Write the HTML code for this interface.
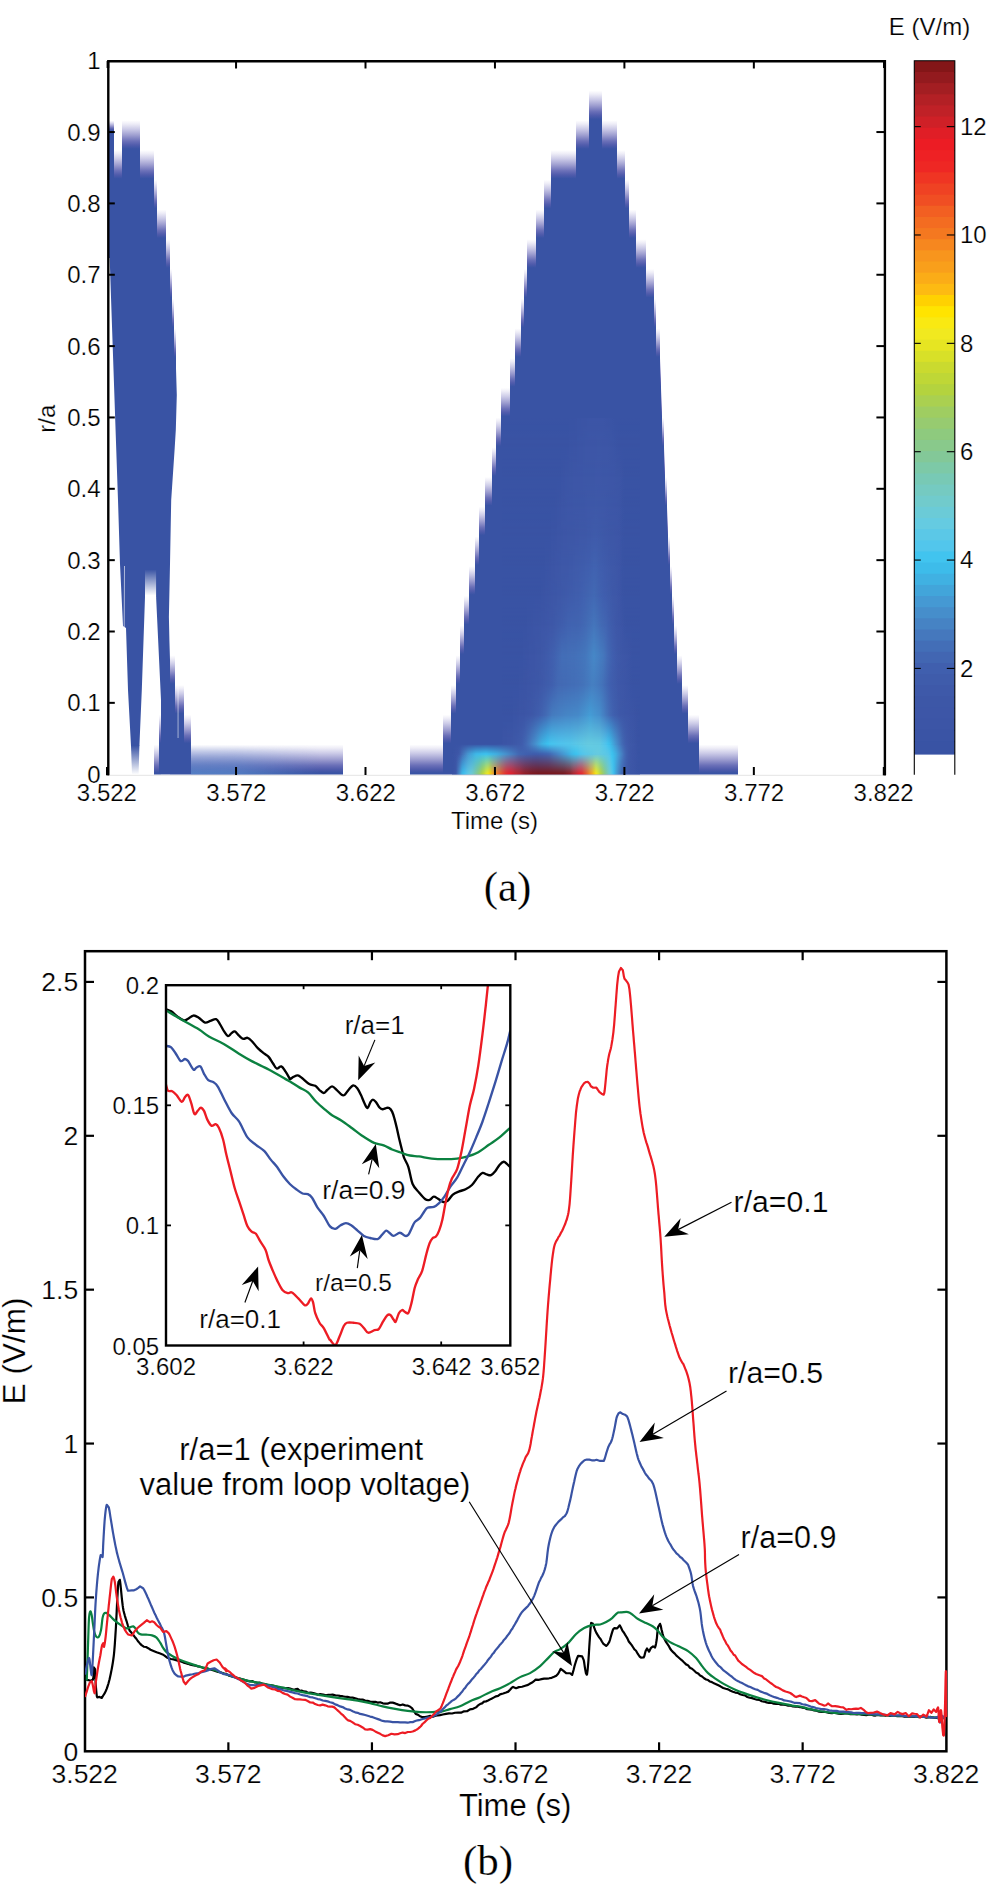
<!DOCTYPE html>
<html lang="en"><head><meta charset="utf-8"><title>Figure</title>
<style>html,body{margin:0;padding:0;background:#fff}svg{display:block}text{fill:#000;stroke:#fff;stroke-width:0.22px}</style></head>
<body><svg width="999" height="1888" viewBox="0 0 999 1888">
<defs><linearGradient id="fu" x1="0" y1="0" x2="0" y2="1"><stop offset="0" stop-color="#3953a4" stop-opacity="0"/><stop offset="0.08" stop-color="#3953a4" stop-opacity="0"/><stop offset="0.95" stop-color="#3953a4" stop-opacity="1"/><stop offset="1" stop-color="#3953a4" stop-opacity="1"/></linearGradient>
<linearGradient id="fd" x1="0" y1="1" x2="0" y2="0"><stop offset="0" stop-color="#3953a4" stop-opacity="0"/><stop offset="1" stop-color="#3953a4" stop-opacity="1"/></linearGradient>
<linearGradient id="fw" x1="0" y1="0" x2="0" y2="1"><stop offset="0" stop-color="#fff" stop-opacity="0"/><stop offset="0.93" stop-color="#fff" stop-opacity="1"/><stop offset="1" stop-color="#fff" stop-opacity="1"/></linearGradient>
<linearGradient id="mg0" x1="0" y1="0" x2="0" y2="1"><stop offset="0" stop-color="#fff"/><stop offset="0.14" stop-color="#fff"/><stop offset="0.55" stop-color="#888"/><stop offset="1" stop-color="#000"/></linearGradient>
<mask id="mfade0" maskContentUnits="objectBoundingBox"><rect x="0" y="0" width="1" height="1" fill="url(#mg0)"/></mask>
<mask id="mfade" maskContentUnits="objectBoundingBox"><rect x="0" y="0" width="1" height="1" fill="url(#mg)"/></mask>
<linearGradient id="mg" x1="0" y1="0" x2="0" y2="1"><stop offset="0" stop-color="#fff"/><stop offset="1" stop-color="#000"/></linearGradient>
<linearGradient id="fg0" x1="0" y1="0" x2="0" y2="1"><stop offset="0.0000" stop-color="#ffffff"/><stop offset="0.1184" stop-color="#eeedf7"/><stop offset="0.2960" stop-color="#cbcae7"/><stop offset="0.4934" stop-color="#9e9ed0"/><stop offset="0.6907" stop-color="#6b70b8"/><stop offset="0.8190" stop-color="#515cac"/><stop offset="0.9472" stop-color="#3953a4"/><stop offset="0.9867" stop-color="#3953a4"/><stop offset="1" stop-color="#3953a4"/></linearGradient>
<linearGradient id="fg1" x1="0" y1="0" x2="0" y2="1"><stop offset="0.0000" stop-color="#ffffff"/><stop offset="0.0596" stop-color="#eeedf7"/><stop offset="0.1490" stop-color="#cbcae7"/><stop offset="0.2483" stop-color="#9e9ed0"/><stop offset="0.3477" stop-color="#6b70b8"/><stop offset="0.4123" stop-color="#515cac"/><stop offset="0.4768" stop-color="#3953a4"/><stop offset="0.4967" stop-color="#3953a4"/><stop offset="1" stop-color="#3953a4"/></linearGradient>
<linearGradient id="fg2" x1="0" y1="0" x2="0" y2="1"><stop offset="0.0000" stop-color="#ffffff"/><stop offset="0.0398" stop-color="#eeedf7"/><stop offset="0.0995" stop-color="#cbcae7"/><stop offset="0.1659" stop-color="#9e9ed0"/><stop offset="0.2323" stop-color="#6b70b8"/><stop offset="0.2754" stop-color="#515cac"/><stop offset="0.3185" stop-color="#3953a4"/><stop offset="0.3318" stop-color="#3953a4"/><stop offset="1" stop-color="#3953a4"/></linearGradient>
<linearGradient id="fg3" x1="0" y1="0" x2="0" y2="1"><stop offset="0.0000" stop-color="#ffffff"/><stop offset="0.0299" stop-color="#eeedf7"/><stop offset="0.0748" stop-color="#cbcae7"/><stop offset="0.1246" stop-color="#9e9ed0"/><stop offset="0.1744" stop-color="#6b70b8"/><stop offset="0.2068" stop-color="#515cac"/><stop offset="0.2392" stop-color="#3953a4"/><stop offset="0.2492" stop-color="#3953a4"/><stop offset="1" stop-color="#3953a4"/></linearGradient>
<linearGradient id="fg4" x1="0" y1="0" x2="0" y2="1"><stop offset="0.0000" stop-color="#ffffff"/><stop offset="0.0239" stop-color="#eeedf7"/><stop offset="0.0599" stop-color="#cbcae7"/><stop offset="0.0998" stop-color="#9e9ed0"/><stop offset="0.1396" stop-color="#6b70b8"/><stop offset="0.1656" stop-color="#515cac"/><stop offset="0.1915" stop-color="#3953a4"/><stop offset="0.1995" stop-color="#3953a4"/><stop offset="1" stop-color="#3953a4"/></linearGradient>
<linearGradient id="fg5" x1="0" y1="0" x2="0" y2="1"><stop offset="0.0000" stop-color="#ffffff"/><stop offset="0.0200" stop-color="#eeedf7"/><stop offset="0.0499" stop-color="#cbcae7"/><stop offset="0.0832" stop-color="#9e9ed0"/><stop offset="0.1164" stop-color="#6b70b8"/><stop offset="0.1380" stop-color="#515cac"/><stop offset="0.1596" stop-color="#3953a4"/><stop offset="0.1663" stop-color="#3953a4"/><stop offset="1" stop-color="#3953a4"/></linearGradient>
<linearGradient id="fg6" x1="0" y1="0" x2="0" y2="1"><stop offset="0.0000" stop-color="#ffffff"/><stop offset="0.0171" stop-color="#eeedf7"/><stop offset="0.0428" stop-color="#cbcae7"/><stop offset="0.0713" stop-color="#9e9ed0"/><stop offset="0.0998" stop-color="#6b70b8"/><stop offset="0.1184" stop-color="#515cac"/><stop offset="0.1369" stop-color="#3953a4"/><stop offset="0.1426" stop-color="#3953a4"/><stop offset="1" stop-color="#3953a4"/></linearGradient>
<linearGradient id="fg7" x1="0" y1="0" x2="0" y2="1"><stop offset="0.0000" stop-color="#ffffff"/><stop offset="0.0150" stop-color="#eeedf7"/><stop offset="0.0374" stop-color="#cbcae7"/><stop offset="0.0624" stop-color="#9e9ed0"/><stop offset="0.0874" stop-color="#6b70b8"/><stop offset="0.1036" stop-color="#515cac"/><stop offset="0.1198" stop-color="#3953a4"/><stop offset="0.1248" stop-color="#3953a4"/><stop offset="1" stop-color="#3953a4"/></linearGradient>
<linearGradient id="fg8" x1="0" y1="0" x2="0" y2="1"><stop offset="0.0000" stop-color="#ffffff"/><stop offset="0.0133" stop-color="#eeedf7"/><stop offset="0.0333" stop-color="#cbcae7"/><stop offset="0.0554" stop-color="#9e9ed0"/><stop offset="0.0776" stop-color="#6b70b8"/><stop offset="0.0920" stop-color="#515cac"/><stop offset="0.1065" stop-color="#3953a4"/><stop offset="0.1109" stop-color="#3953a4"/><stop offset="1" stop-color="#3953a4"/></linearGradient>
<linearGradient id="fg9" x1="0" y1="0" x2="0" y2="1"><stop offset="0.0000" stop-color="#ffffff"/><stop offset="0.0120" stop-color="#eeedf7"/><stop offset="0.0300" stop-color="#cbcae7"/><stop offset="0.0500" stop-color="#9e9ed0"/><stop offset="0.0699" stop-color="#6b70b8"/><stop offset="0.0829" stop-color="#515cac"/><stop offset="0.0959" stop-color="#3953a4"/><stop offset="0.0999" stop-color="#3953a4"/><stop offset="1" stop-color="#3953a4"/></linearGradient>
<linearGradient id="fg10" x1="0" y1="0" x2="0" y2="1"><stop offset="0.0000" stop-color="#ffffff"/><stop offset="0.0109" stop-color="#eeedf7"/><stop offset="0.0272" stop-color="#cbcae7"/><stop offset="0.0454" stop-color="#9e9ed0"/><stop offset="0.0636" stop-color="#6b70b8"/><stop offset="0.0754" stop-color="#515cac"/><stop offset="0.0872" stop-color="#3953a4"/><stop offset="0.0908" stop-color="#3953a4"/><stop offset="1" stop-color="#3953a4"/></linearGradient>
<linearGradient id="fg11" x1="0" y1="0" x2="0" y2="1"><stop offset="0.0000" stop-color="#ffffff"/><stop offset="0.0100" stop-color="#eeedf7"/><stop offset="0.0250" stop-color="#cbcae7"/><stop offset="0.0416" stop-color="#9e9ed0"/><stop offset="0.0582" stop-color="#6b70b8"/><stop offset="0.0691" stop-color="#515cac"/><stop offset="0.0799" stop-color="#3953a4"/><stop offset="0.0832" stop-color="#3953a4"/><stop offset="1" stop-color="#3953a4"/></linearGradient>
<linearGradient id="fg12" x1="0" y1="0" x2="0" y2="1"><stop offset="0.0000" stop-color="#ffffff"/><stop offset="0.0092" stop-color="#eeedf7"/><stop offset="0.0230" stop-color="#cbcae7"/><stop offset="0.0384" stop-color="#9e9ed0"/><stop offset="0.0538" stop-color="#6b70b8"/><stop offset="0.0637" stop-color="#515cac"/><stop offset="0.0737" stop-color="#3953a4"/><stop offset="0.0768" stop-color="#3953a4"/><stop offset="1" stop-color="#3953a4"/></linearGradient>
<linearGradient id="fg13" x1="0" y1="0" x2="0" y2="1"><stop offset="0.0000" stop-color="#ffffff"/><stop offset="0.0086" stop-color="#eeedf7"/><stop offset="0.0214" stop-color="#cbcae7"/><stop offset="0.0357" stop-color="#9e9ed0"/><stop offset="0.0500" stop-color="#6b70b8"/><stop offset="0.0593" stop-color="#515cac"/><stop offset="0.0685" stop-color="#3953a4"/><stop offset="0.0714" stop-color="#3953a4"/><stop offset="1" stop-color="#3953a4"/></linearGradient>
<linearGradient id="fg14" x1="0" y1="0" x2="0" y2="1"><stop offset="0.0000" stop-color="#ffffff"/><stop offset="0.0080" stop-color="#eeedf7"/><stop offset="0.0200" stop-color="#cbcae7"/><stop offset="0.0333" stop-color="#9e9ed0"/><stop offset="0.0466" stop-color="#6b70b8"/><stop offset="0.0553" stop-color="#515cac"/><stop offset="0.0639" stop-color="#3953a4"/><stop offset="0.0666" stop-color="#3953a4"/><stop offset="1" stop-color="#3953a4"/></linearGradient>
<linearGradient id="fg15" x1="0" y1="0" x2="0" y2="1"><stop offset="0.0000" stop-color="#ffffff"/><stop offset="0.0075" stop-color="#eeedf7"/><stop offset="0.0187" stop-color="#cbcae7"/><stop offset="0.0312" stop-color="#9e9ed0"/><stop offset="0.0437" stop-color="#6b70b8"/><stop offset="0.0518" stop-color="#515cac"/><stop offset="0.0599" stop-color="#3953a4"/><stop offset="0.0624" stop-color="#3953a4"/><stop offset="1" stop-color="#3953a4"/></linearGradient>
<linearGradient id="fg16" x1="0" y1="0" x2="0" y2="1"><stop offset="0.0000" stop-color="#ffffff"/><stop offset="0.0071" stop-color="#eeedf7"/><stop offset="0.0176" stop-color="#cbcae7"/><stop offset="0.0294" stop-color="#9e9ed0"/><stop offset="0.0412" stop-color="#6b70b8"/><stop offset="0.0488" stop-color="#515cac"/><stop offset="0.0564" stop-color="#3953a4"/><stop offset="0.0588" stop-color="#3953a4"/><stop offset="1" stop-color="#3953a4"/></linearGradient>
<linearGradient id="fg17" x1="0" y1="0" x2="0" y2="1"><stop offset="0.0000" stop-color="#ffffff"/><stop offset="0.0067" stop-color="#eeedf7"/><stop offset="0.0166" stop-color="#cbcae7"/><stop offset="0.0278" stop-color="#9e9ed0"/><stop offset="0.0388" stop-color="#6b70b8"/><stop offset="0.0461" stop-color="#515cac"/><stop offset="0.0533" stop-color="#3953a4"/><stop offset="0.0555" stop-color="#3953a4"/><stop offset="1" stop-color="#3953a4"/></linearGradient>
<linearGradient id="fg18" x1="0" y1="0" x2="0" y2="1"><stop offset="0.0000" stop-color="#ffffff"/><stop offset="0.0063" stop-color="#eeedf7"/><stop offset="0.0158" stop-color="#cbcae7"/><stop offset="0.0263" stop-color="#9e9ed0"/><stop offset="0.0368" stop-color="#6b70b8"/><stop offset="0.0437" stop-color="#515cac"/><stop offset="0.0505" stop-color="#3953a4"/><stop offset="0.0526" stop-color="#3953a4"/><stop offset="1" stop-color="#3953a4"/></linearGradient>
<linearGradient id="fg19" x1="0" y1="0" x2="0" y2="1"><stop offset="0.0000" stop-color="#ffffff"/><stop offset="0.0060" stop-color="#eeedf7"/><stop offset="0.0150" stop-color="#cbcae7"/><stop offset="0.0250" stop-color="#9e9ed0"/><stop offset="0.0350" stop-color="#6b70b8"/><stop offset="0.0415" stop-color="#515cac"/><stop offset="0.0480" stop-color="#3953a4"/><stop offset="0.0500" stop-color="#3953a4"/><stop offset="1" stop-color="#3953a4"/></linearGradient>
<linearGradient id="fg20" x1="0" y1="0" x2="0" y2="1"><stop offset="0.0000" stop-color="#ffffff"/><stop offset="0.0057" stop-color="#eeedf7"/><stop offset="0.0143" stop-color="#cbcae7"/><stop offset="0.0238" stop-color="#9e9ed0"/><stop offset="0.0333" stop-color="#6b70b8"/><stop offset="0.0395" stop-color="#515cac"/><stop offset="0.0457" stop-color="#3953a4"/><stop offset="0.0476" stop-color="#3953a4"/><stop offset="1" stop-color="#3953a4"/></linearGradient>
<linearGradient id="fg21" x1="0" y1="0" x2="0" y2="1"><stop offset="0.0000" stop-color="#ffffff"/><stop offset="0.0054" stop-color="#eeedf7"/><stop offset="0.0136" stop-color="#cbcae7"/><stop offset="0.0227" stop-color="#9e9ed0"/><stop offset="0.0318" stop-color="#6b70b8"/><stop offset="0.0377" stop-color="#515cac"/><stop offset="0.0436" stop-color="#3953a4"/><stop offset="0.0454" stop-color="#3953a4"/><stop offset="1" stop-color="#3953a4"/></linearGradient>
<linearGradient id="fg22" x1="0" y1="0" x2="0" y2="1"><stop offset="0.0000" stop-color="#ffffff"/><stop offset="0.0052" stop-color="#eeedf7"/><stop offset="0.0130" stop-color="#cbcae7"/><stop offset="0.0217" stop-color="#9e9ed0"/><stop offset="0.0304" stop-color="#6b70b8"/><stop offset="0.0361" stop-color="#515cac"/><stop offset="0.0418" stop-color="#3953a4"/><stop offset="0.0435" stop-color="#3953a4"/><stop offset="1" stop-color="#3953a4"/></linearGradient>
<linearGradient id="fg23" x1="0" y1="0" x2="0" y2="1"><stop offset="0.0000" stop-color="#ffffff"/><stop offset="0.0092" stop-color="#eeedf7"/><stop offset="0.0229" stop-color="#cbcae7"/><stop offset="0.0382" stop-color="#9e9ed0"/><stop offset="0.0535" stop-color="#6b70b8"/><stop offset="0.0634" stop-color="#515cac"/><stop offset="0.0733" stop-color="#3953a4"/><stop offset="0.0764" stop-color="#3953a4"/><stop offset="1" stop-color="#3953a4"/></linearGradient>
<linearGradient id="fg24" x1="0" y1="0" x2="0" y2="1"><stop offset="0.0000" stop-color="#ffffff"/><stop offset="0.0238" stop-color="#eeedf7"/><stop offset="0.0594" stop-color="#cbcae7"/><stop offset="0.0990" stop-color="#9e9ed0"/><stop offset="0.1387" stop-color="#6b70b8"/><stop offset="0.1644" stop-color="#515cac"/><stop offset="0.1902" stop-color="#3953a4"/><stop offset="0.1981" stop-color="#3953a4"/><stop offset="1" stop-color="#3953a4"/></linearGradient>
<linearGradient id="fg25" x1="0" y1="0" x2="0" y2="1"><stop offset="0.0000" stop-color="#ffffff"/><stop offset="0.0198" stop-color="#eeedf7"/><stop offset="0.0496" stop-color="#cbcae7"/><stop offset="0.0827" stop-color="#9e9ed0"/><stop offset="0.1157" stop-color="#6b70b8"/><stop offset="0.1372" stop-color="#515cac"/><stop offset="0.1587" stop-color="#3953a4"/><stop offset="0.1653" stop-color="#3953a4"/><stop offset="1" stop-color="#3953a4"/></linearGradient>
<linearGradient id="fg26" x1="0" y1="0" x2="0" y2="1"><stop offset="0.0000" stop-color="#ffffff"/><stop offset="0.0297" stop-color="#eeedf7"/><stop offset="0.0741" stop-color="#cbcae7"/><stop offset="0.1235" stop-color="#9e9ed0"/><stop offset="0.1730" stop-color="#6b70b8"/><stop offset="0.2051" stop-color="#515cac"/><stop offset="0.2372" stop-color="#3953a4"/><stop offset="0.2471" stop-color="#3953a4"/><stop offset="1" stop-color="#3953a4"/></linearGradient>
<linearGradient id="fg27" x1="0" y1="0" x2="0" y2="1"><stop offset="0.0000" stop-color="#ffffff"/><stop offset="0.0394" stop-color="#eeedf7"/><stop offset="0.0985" stop-color="#cbcae7"/><stop offset="0.1641" stop-color="#9e9ed0"/><stop offset="0.2297" stop-color="#6b70b8"/><stop offset="0.2724" stop-color="#515cac"/><stop offset="0.3151" stop-color="#3953a4"/><stop offset="0.3282" stop-color="#3953a4"/><stop offset="1" stop-color="#3953a4"/></linearGradient>
<linearGradient id="fg28" x1="0" y1="0" x2="0" y2="1"><stop offset="0.0000" stop-color="#ffffff"/><stop offset="0.0587" stop-color="#eeedf7"/><stop offset="0.1466" stop-color="#cbcae7"/><stop offset="0.2444" stop-color="#9e9ed0"/><stop offset="0.3422" stop-color="#6b70b8"/><stop offset="0.4057" stop-color="#515cac"/><stop offset="0.4692" stop-color="#3953a4"/><stop offset="0.4888" stop-color="#3953a4"/><stop offset="1" stop-color="#3953a4"/></linearGradient>
<linearGradient id="fg29" x1="0" y1="0" x2="0" y2="1"><stop offset="0.0000" stop-color="#ffffff"/><stop offset="0.0584" stop-color="#eeedf7"/><stop offset="0.1460" stop-color="#cbcae7"/><stop offset="0.2433" stop-color="#9e9ed0"/><stop offset="0.3406" stop-color="#6b70b8"/><stop offset="0.4039" stop-color="#515cac"/><stop offset="0.4671" stop-color="#3953a4"/><stop offset="0.4866" stop-color="#3953a4"/><stop offset="1" stop-color="#3953a4"/></linearGradient>
<linearGradient id="fg30" x1="0" y1="0" x2="0" y2="1"><stop offset="0.0000" stop-color="#ffffff"/><stop offset="0.0581" stop-color="#eeedf7"/><stop offset="0.1453" stop-color="#cbcae7"/><stop offset="0.2422" stop-color="#9e9ed0"/><stop offset="0.3390" stop-color="#6b70b8"/><stop offset="0.4020" stop-color="#515cac"/><stop offset="0.4649" stop-color="#3953a4"/><stop offset="0.4843" stop-color="#3953a4"/><stop offset="1" stop-color="#3953a4"/></linearGradient>
<linearGradient id="fg31" x1="0" y1="0" x2="0" y2="1"><stop offset="0.0000" stop-color="#ffffff"/><stop offset="0.0579" stop-color="#eeedf7"/><stop offset="0.1446" stop-color="#cbcae7"/><stop offset="0.2410" stop-color="#9e9ed0"/><stop offset="0.3375" stop-color="#6b70b8"/><stop offset="0.4001" stop-color="#515cac"/><stop offset="0.4628" stop-color="#3953a4"/><stop offset="0.4821" stop-color="#3953a4"/><stop offset="1" stop-color="#3953a4"/></linearGradient>
<linearGradient id="fg32" x1="0" y1="0" x2="0" y2="1"><stop offset="0.0000" stop-color="#ffffff"/><stop offset="0.0299" stop-color="#eeedf7"/><stop offset="0.0747" stop-color="#cbcae7"/><stop offset="0.1245" stop-color="#9e9ed0"/><stop offset="0.1743" stop-color="#6b70b8"/><stop offset="0.2067" stop-color="#515cac"/><stop offset="0.2390" stop-color="#3953a4"/><stop offset="0.2490" stop-color="#3953a4"/><stop offset="1" stop-color="#3953a4"/></linearGradient>
<linearGradient id="fg33" x1="0" y1="0" x2="0" y2="1"><stop offset="0.0000" stop-color="#ffffff"/><stop offset="0.0398" stop-color="#eeedf7"/><stop offset="0.0995" stop-color="#cbcae7"/><stop offset="0.1658" stop-color="#9e9ed0"/><stop offset="0.2321" stop-color="#6b70b8"/><stop offset="0.2752" stop-color="#515cac"/><stop offset="0.3183" stop-color="#3953a4"/><stop offset="0.3316" stop-color="#3953a4"/><stop offset="1" stop-color="#3953a4"/></linearGradient>
<linearGradient id="fg34" x1="0" y1="0" x2="0" y2="1"><stop offset="0.0000" stop-color="#ffffff"/><stop offset="0.0596" stop-color="#eeedf7"/><stop offset="0.1489" stop-color="#cbcae7"/><stop offset="0.2482" stop-color="#9e9ed0"/><stop offset="0.3474" stop-color="#6b70b8"/><stop offset="0.4119" stop-color="#515cac"/><stop offset="0.4764" stop-color="#3953a4"/><stop offset="0.4963" stop-color="#3953a4"/><stop offset="1" stop-color="#3953a4"/></linearGradient>
<linearGradient id="fg35" x1="0" y1="0" x2="0" y2="1"><stop offset="0.0000" stop-color="#ffffff"/><stop offset="0.1183" stop-color="#eeedf7"/><stop offset="0.2958" stop-color="#cbcae7"/><stop offset="0.4930" stop-color="#9e9ed0"/><stop offset="0.6903" stop-color="#6b70b8"/><stop offset="0.8185" stop-color="#515cac"/><stop offset="0.9467" stop-color="#3953a4"/><stop offset="0.9861" stop-color="#3953a4"/><stop offset="1" stop-color="#3953a4"/></linearGradient>
<linearGradient id="st1" x1="190" y1="0" x2="320" y2="0" gradientUnits="userSpaceOnUse"><stop offset="0" stop-color="#5f8fd0" stop-opacity="0.75"/><stop offset="0.35" stop-color="#5f8fd0" stop-opacity="0.7"/><stop offset="1" stop-color="#5f8fd0" stop-opacity="0"/></linearGradient>
<linearGradient id="mg2" x1="0" y1="0" x2="0" y2="1"><stop offset="0" stop-color="#000"/><stop offset="0.25" stop-color="#444"/><stop offset="1" stop-color="#fff"/></linearGradient>
<mask id="mfade2" maskContentUnits="objectBoundingBox"><rect x="0" y="0" width="1" height="1" fill="url(#mg2)"/></mask>
<linearGradient id="rg0" x1="452" y1="0" x2="640" y2="0" gradientUnits="userSpaceOnUse"><stop offset="0.0000" stop-color="#3953a4"/><stop offset="0.0106" stop-color="#3b54a5"/><stop offset="0.0213" stop-color="#3e58a8"/><stop offset="0.0319" stop-color="#4578bd"/><stop offset="0.0426" stop-color="#4697d1"/><stop offset="0.0532" stop-color="#3eb9e8"/><stop offset="0.0638" stop-color="#40c4f0"/><stop offset="0.0745" stop-color="#53c6ec"/><stop offset="0.0851" stop-color="#5ec9e5"/><stop offset="0.0957" stop-color="#68cbdd"/><stop offset="0.1064" stop-color="#6fcbd1"/><stop offset="0.1170" stop-color="#77c9b9"/><stop offset="0.1277" stop-color="#82c89b"/><stop offset="0.1383" stop-color="#8eca7f"/><stop offset="0.1489" stop-color="#a0cd61"/><stop offset="0.1596" stop-color="#b6d33c"/><stop offset="0.1702" stop-color="#ccdb2d"/><stop offset="0.1809" stop-color="#e9e621"/><stop offset="0.1915" stop-color="#fae910"/><stop offset="0.2021" stop-color="#ffd400"/><stop offset="0.2128" stop-color="#fcb115"/><stop offset="0.2234" stop-color="#f89b1c"/><stop offset="0.2340" stop-color="#f6861f"/><stop offset="0.2447" stop-color="#f36e21"/><stop offset="0.2553" stop-color="#f15d22"/><stop offset="0.2660" stop-color="#f04923"/><stop offset="0.2766" stop-color="#ef3923"/><stop offset="0.2872" stop-color="#ee2924"/><stop offset="0.2979" stop-color="#ee2124"/><stop offset="0.3085" stop-color="#eb1c24"/><stop offset="0.3191" stop-color="#e01e26"/><stop offset="0.3298" stop-color="#d32026"/><stop offset="0.3404" stop-color="#c42127"/><stop offset="0.3511" stop-color="#bc2126"/><stop offset="0.3617" stop-color="#b22025"/><stop offset="0.3723" stop-color="#a61e23"/><stop offset="0.3830" stop-color="#9a1c20"/><stop offset="0.3936" stop-color="#941a1e"/><stop offset="0.4043" stop-color="#8f191c"/><stop offset="0.4149" stop-color="#88171a"/><stop offset="0.4255" stop-color="#831618"/><stop offset="0.4362" stop-color="#811518"/><stop offset="0.4468" stop-color="#7e1517"/><stop offset="0.4574" stop-color="#7b1416"/><stop offset="0.4681" stop-color="#7b1416"/><stop offset="0.4787" stop-color="#7b1416"/><stop offset="0.4894" stop-color="#7b1416"/><stop offset="0.5000" stop-color="#7b1416"/><stop offset="0.5106" stop-color="#7b1416"/><stop offset="0.5213" stop-color="#7b1416"/><stop offset="0.5319" stop-color="#7b1416"/><stop offset="0.5426" stop-color="#7b1416"/><stop offset="0.5532" stop-color="#7b1416"/><stop offset="0.5638" stop-color="#7b1416"/><stop offset="0.5745" stop-color="#7b1416"/><stop offset="0.5851" stop-color="#7b1416"/><stop offset="0.5957" stop-color="#7d1417"/><stop offset="0.6064" stop-color="#851619"/><stop offset="0.6170" stop-color="#8d181b"/><stop offset="0.6277" stop-color="#931a1e"/><stop offset="0.6383" stop-color="#a81e23"/><stop offset="0.6489" stop-color="#bc2126"/><stop offset="0.6596" stop-color="#cb2027"/><stop offset="0.6702" stop-color="#e11e25"/><stop offset="0.6809" stop-color="#ed1e24"/><stop offset="0.6915" stop-color="#ee2524"/><stop offset="0.7021" stop-color="#ef3d23"/><stop offset="0.7128" stop-color="#f05323"/><stop offset="0.7234" stop-color="#f36f21"/><stop offset="0.7340" stop-color="#f78e1e"/><stop offset="0.7447" stop-color="#faa619"/><stop offset="0.7553" stop-color="#feca06"/><stop offset="0.7660" stop-color="#fae910"/><stop offset="0.7766" stop-color="#e3e423"/><stop offset="0.7872" stop-color="#c4d833"/><stop offset="0.7979" stop-color="#aad050"/><stop offset="0.8085" stop-color="#92cb77"/><stop offset="0.8191" stop-color="#83c899"/><stop offset="0.8298" stop-color="#76cabc"/><stop offset="0.8404" stop-color="#6bcbd8"/><stop offset="0.8511" stop-color="#56c7ea"/><stop offset="0.8617" stop-color="#3dbdeb"/><stop offset="0.8723" stop-color="#43a2d9"/><stop offset="0.8830" stop-color="#468cca"/><stop offset="0.8936" stop-color="#4578bd"/><stop offset="0.9043" stop-color="#4266b2"/><stop offset="0.9149" stop-color="#405fae"/><stop offset="0.9255" stop-color="#3f5bab"/><stop offset="0.9362" stop-color="#3e58a8"/><stop offset="0.9468" stop-color="#3d57a7"/><stop offset="0.9574" stop-color="#3c56a6"/><stop offset="0.9681" stop-color="#3c55a6"/><stop offset="0.9787" stop-color="#3a54a5"/><stop offset="0.9894" stop-color="#3953a4"/><stop offset="1.0000" stop-color="#3953a4"/></linearGradient>
<linearGradient id="rg1" x1="452" y1="0" x2="640" y2="0" gradientUnits="userSpaceOnUse"><stop offset="0.0000" stop-color="#3953a4"/><stop offset="0.0106" stop-color="#3953a4"/><stop offset="0.0213" stop-color="#3953a4"/><stop offset="0.0319" stop-color="#3953a4"/><stop offset="0.0426" stop-color="#3953a4"/><stop offset="0.0532" stop-color="#3953a4"/><stop offset="0.0638" stop-color="#3953a4"/><stop offset="0.0745" stop-color="#3953a4"/><stop offset="0.0851" stop-color="#3953a4"/><stop offset="0.0957" stop-color="#3953a4"/><stop offset="0.1064" stop-color="#3953a4"/><stop offset="0.1170" stop-color="#3953a4"/><stop offset="0.1277" stop-color="#3953a4"/><stop offset="0.1383" stop-color="#3953a4"/><stop offset="0.1489" stop-color="#3953a4"/><stop offset="0.1596" stop-color="#3953a4"/><stop offset="0.1702" stop-color="#3953a4"/><stop offset="0.1809" stop-color="#3953a4"/><stop offset="0.1915" stop-color="#3953a4"/><stop offset="0.2021" stop-color="#3953a4"/><stop offset="0.2128" stop-color="#3953a4"/><stop offset="0.2234" stop-color="#3953a4"/><stop offset="0.2340" stop-color="#3953a4"/><stop offset="0.2447" stop-color="#3a54a5"/><stop offset="0.2553" stop-color="#3b54a5"/><stop offset="0.2660" stop-color="#3b54a5"/><stop offset="0.2766" stop-color="#3c55a6"/><stop offset="0.2872" stop-color="#3c55a6"/><stop offset="0.2979" stop-color="#3d56a7"/><stop offset="0.3085" stop-color="#3d56a7"/><stop offset="0.3191" stop-color="#3d57a7"/><stop offset="0.3298" stop-color="#3e58a8"/><stop offset="0.3404" stop-color="#3e59a9"/><stop offset="0.3511" stop-color="#3f5aaa"/><stop offset="0.3617" stop-color="#3f5cab"/><stop offset="0.3723" stop-color="#405ead"/><stop offset="0.3830" stop-color="#4163b1"/><stop offset="0.3936" stop-color="#4369b4"/><stop offset="0.4043" stop-color="#4471b9"/><stop offset="0.4149" stop-color="#4579be"/><stop offset="0.4255" stop-color="#4682c4"/><stop offset="0.4362" stop-color="#468bca"/><stop offset="0.4468" stop-color="#4694d0"/><stop offset="0.4574" stop-color="#449fd6"/><stop offset="0.4681" stop-color="#41a9dd"/><stop offset="0.4787" stop-color="#3fb1e2"/><stop offset="0.4894" stop-color="#3eb7e7"/><stop offset="0.5000" stop-color="#3dbdeb"/><stop offset="0.5106" stop-color="#3cc3f0"/><stop offset="0.5213" stop-color="#45c4ef"/><stop offset="0.5319" stop-color="#47c5ef"/><stop offset="0.5426" stop-color="#49c5ef"/><stop offset="0.5532" stop-color="#4bc5ee"/><stop offset="0.5638" stop-color="#4dc5ee"/><stop offset="0.5745" stop-color="#4fc5ee"/><stop offset="0.5851" stop-color="#50c5ee"/><stop offset="0.5957" stop-color="#51c5ed"/><stop offset="0.6064" stop-color="#52c6ec"/><stop offset="0.6170" stop-color="#53c6ec"/><stop offset="0.6277" stop-color="#53c6eb"/><stop offset="0.6383" stop-color="#55c7ea"/><stop offset="0.6489" stop-color="#58c7e9"/><stop offset="0.6596" stop-color="#5ac8e8"/><stop offset="0.6702" stop-color="#5cc8e6"/><stop offset="0.6809" stop-color="#5ec9e5"/><stop offset="0.6915" stop-color="#60c9e4"/><stop offset="0.7021" stop-color="#62cae3"/><stop offset="0.7128" stop-color="#64cae1"/><stop offset="0.7234" stop-color="#66cbe0"/><stop offset="0.7340" stop-color="#65cbe1"/><stop offset="0.7447" stop-color="#64cbe1"/><stop offset="0.7553" stop-color="#64cae1"/><stop offset="0.7660" stop-color="#63cae2"/><stop offset="0.7766" stop-color="#62cae2"/><stop offset="0.7872" stop-color="#61cae3"/><stop offset="0.7979" stop-color="#5bc8e7"/><stop offset="0.8085" stop-color="#55c7ea"/><stop offset="0.8191" stop-color="#4fc5ee"/><stop offset="0.8298" stop-color="#42c4ef"/><stop offset="0.8404" stop-color="#3dbdeb"/><stop offset="0.8511" stop-color="#40b0e1"/><stop offset="0.8617" stop-color="#43a1d8"/><stop offset="0.8723" stop-color="#4693cf"/><stop offset="0.8830" stop-color="#4686c6"/><stop offset="0.8936" stop-color="#4579be"/><stop offset="0.9043" stop-color="#436cb6"/><stop offset="0.9149" stop-color="#4163b0"/><stop offset="0.9255" stop-color="#405dad"/><stop offset="0.9362" stop-color="#3f5aaa"/><stop offset="0.9468" stop-color="#3e58a8"/><stop offset="0.9574" stop-color="#3d57a7"/><stop offset="0.9681" stop-color="#3c56a6"/><stop offset="0.9787" stop-color="#3b54a5"/><stop offset="0.9894" stop-color="#3953a4"/><stop offset="1.0000" stop-color="#3953a4"/></linearGradient>
<linearGradient id="rg2" x1="452" y1="0" x2="640" y2="0" gradientUnits="userSpaceOnUse"><stop offset="0.0000" stop-color="#3953a4"/><stop offset="0.0106" stop-color="#3953a4"/><stop offset="0.0213" stop-color="#3953a4"/><stop offset="0.0319" stop-color="#3953a4"/><stop offset="0.0426" stop-color="#3953a4"/><stop offset="0.0532" stop-color="#3953a4"/><stop offset="0.0638" stop-color="#3953a4"/><stop offset="0.0745" stop-color="#3953a4"/><stop offset="0.0851" stop-color="#3953a4"/><stop offset="0.0957" stop-color="#3953a4"/><stop offset="0.1064" stop-color="#3953a4"/><stop offset="0.1170" stop-color="#3953a4"/><stop offset="0.1277" stop-color="#3953a4"/><stop offset="0.1383" stop-color="#3953a4"/><stop offset="0.1489" stop-color="#3953a4"/><stop offset="0.1596" stop-color="#3953a4"/><stop offset="0.1702" stop-color="#3953a4"/><stop offset="0.1809" stop-color="#3953a4"/><stop offset="0.1915" stop-color="#3953a4"/><stop offset="0.2021" stop-color="#3953a4"/><stop offset="0.2128" stop-color="#3953a4"/><stop offset="0.2234" stop-color="#3953a4"/><stop offset="0.2340" stop-color="#3953a4"/><stop offset="0.2447" stop-color="#3953a4"/><stop offset="0.2553" stop-color="#3953a4"/><stop offset="0.2660" stop-color="#3953a4"/><stop offset="0.2766" stop-color="#3953a4"/><stop offset="0.2872" stop-color="#3953a4"/><stop offset="0.2979" stop-color="#3953a4"/><stop offset="0.3085" stop-color="#3953a4"/><stop offset="0.3191" stop-color="#3953a4"/><stop offset="0.3298" stop-color="#3a54a5"/><stop offset="0.3404" stop-color="#3a54a5"/><stop offset="0.3511" stop-color="#3b54a5"/><stop offset="0.3617" stop-color="#3c55a6"/><stop offset="0.3723" stop-color="#3c55a6"/><stop offset="0.3830" stop-color="#3c55a6"/><stop offset="0.3936" stop-color="#3d56a7"/><stop offset="0.4043" stop-color="#3d57a7"/><stop offset="0.4149" stop-color="#3e57a8"/><stop offset="0.4255" stop-color="#3e58a8"/><stop offset="0.4362" stop-color="#3e5aa9"/><stop offset="0.4468" stop-color="#3f5cab"/><stop offset="0.4574" stop-color="#405dad"/><stop offset="0.4681" stop-color="#4060ae"/><stop offset="0.4787" stop-color="#4163b0"/><stop offset="0.4894" stop-color="#4267b3"/><stop offset="0.5000" stop-color="#436bb5"/><stop offset="0.5106" stop-color="#4470b8"/><stop offset="0.5213" stop-color="#4475bc"/><stop offset="0.5319" stop-color="#457bbf"/><stop offset="0.5426" stop-color="#457dc0"/><stop offset="0.5532" stop-color="#467ec1"/><stop offset="0.5638" stop-color="#467fc2"/><stop offset="0.5745" stop-color="#4681c3"/><stop offset="0.5851" stop-color="#4682c4"/><stop offset="0.5957" stop-color="#4684c5"/><stop offset="0.6064" stop-color="#4685c6"/><stop offset="0.6170" stop-color="#4686c6"/><stop offset="0.6277" stop-color="#4686c7"/><stop offset="0.6383" stop-color="#4687c7"/><stop offset="0.6489" stop-color="#4688c8"/><stop offset="0.6596" stop-color="#4689c8"/><stop offset="0.6702" stop-color="#4689c9"/><stop offset="0.6809" stop-color="#468dcb"/><stop offset="0.6915" stop-color="#4690cd"/><stop offset="0.7021" stop-color="#4693cf"/><stop offset="0.7128" stop-color="#4696d1"/><stop offset="0.7234" stop-color="#459ad3"/><stop offset="0.7340" stop-color="#449dd6"/><stop offset="0.7447" stop-color="#459ad4"/><stop offset="0.7553" stop-color="#4697d1"/><stop offset="0.7660" stop-color="#4694d0"/><stop offset="0.7766" stop-color="#4691ce"/><stop offset="0.7872" stop-color="#468ecc"/><stop offset="0.7979" stop-color="#4686c7"/><stop offset="0.8085" stop-color="#467fc2"/><stop offset="0.8191" stop-color="#4577bd"/><stop offset="0.8298" stop-color="#4470b8"/><stop offset="0.8404" stop-color="#4369b4"/><stop offset="0.8511" stop-color="#4164b1"/><stop offset="0.8617" stop-color="#405fae"/><stop offset="0.8723" stop-color="#3f5dac"/><stop offset="0.8830" stop-color="#3f5baa"/><stop offset="0.8936" stop-color="#3e58a8"/><stop offset="0.9043" stop-color="#3e58a8"/><stop offset="0.9149" stop-color="#3d57a7"/><stop offset="0.9255" stop-color="#3d56a7"/><stop offset="0.9362" stop-color="#3d56a7"/><stop offset="0.9468" stop-color="#3c55a6"/><stop offset="0.9574" stop-color="#3b55a6"/><stop offset="0.9681" stop-color="#3b54a5"/><stop offset="0.9787" stop-color="#3a53a4"/><stop offset="0.9894" stop-color="#3953a4"/><stop offset="1.0000" stop-color="#3953a4"/></linearGradient>
<linearGradient id="rg3" x1="452" y1="0" x2="640" y2="0" gradientUnits="userSpaceOnUse"><stop offset="0.0000" stop-color="#3953a4"/><stop offset="0.0106" stop-color="#3953a4"/><stop offset="0.0213" stop-color="#3953a4"/><stop offset="0.0319" stop-color="#3953a4"/><stop offset="0.0426" stop-color="#3953a4"/><stop offset="0.0532" stop-color="#3953a4"/><stop offset="0.0638" stop-color="#3953a4"/><stop offset="0.0745" stop-color="#3953a4"/><stop offset="0.0851" stop-color="#3953a4"/><stop offset="0.0957" stop-color="#3953a4"/><stop offset="0.1064" stop-color="#3953a4"/><stop offset="0.1170" stop-color="#3953a4"/><stop offset="0.1277" stop-color="#3953a4"/><stop offset="0.1383" stop-color="#3953a4"/><stop offset="0.1489" stop-color="#3953a4"/><stop offset="0.1596" stop-color="#3953a4"/><stop offset="0.1702" stop-color="#3953a4"/><stop offset="0.1809" stop-color="#3953a4"/><stop offset="0.1915" stop-color="#3953a4"/><stop offset="0.2021" stop-color="#3953a4"/><stop offset="0.2128" stop-color="#3953a4"/><stop offset="0.2234" stop-color="#3953a4"/><stop offset="0.2340" stop-color="#3953a4"/><stop offset="0.2447" stop-color="#3953a4"/><stop offset="0.2553" stop-color="#3953a4"/><stop offset="0.2660" stop-color="#3953a4"/><stop offset="0.2766" stop-color="#3953a4"/><stop offset="0.2872" stop-color="#3953a4"/><stop offset="0.2979" stop-color="#3953a4"/><stop offset="0.3085" stop-color="#3953a4"/><stop offset="0.3191" stop-color="#3953a4"/><stop offset="0.3298" stop-color="#3953a4"/><stop offset="0.3404" stop-color="#3953a4"/><stop offset="0.3511" stop-color="#3953a4"/><stop offset="0.3617" stop-color="#3a54a5"/><stop offset="0.3723" stop-color="#3a54a5"/><stop offset="0.3830" stop-color="#3b54a5"/><stop offset="0.3936" stop-color="#3b54a5"/><stop offset="0.4043" stop-color="#3c55a6"/><stop offset="0.4149" stop-color="#3c55a6"/><stop offset="0.4255" stop-color="#3c56a6"/><stop offset="0.4362" stop-color="#3d56a7"/><stop offset="0.4468" stop-color="#3d57a7"/><stop offset="0.4574" stop-color="#3d57a7"/><stop offset="0.4681" stop-color="#3e58a8"/><stop offset="0.4787" stop-color="#3e59a9"/><stop offset="0.4894" stop-color="#3f5aaa"/><stop offset="0.5000" stop-color="#3f5cab"/><stop offset="0.5106" stop-color="#3f5dac"/><stop offset="0.5213" stop-color="#405ead"/><stop offset="0.5319" stop-color="#4060af"/><stop offset="0.5426" stop-color="#4163b0"/><stop offset="0.5532" stop-color="#4266b2"/><stop offset="0.5638" stop-color="#4369b4"/><stop offset="0.5745" stop-color="#436ab4"/><stop offset="0.5851" stop-color="#436ab4"/><stop offset="0.5957" stop-color="#436bb5"/><stop offset="0.6064" stop-color="#436bb5"/><stop offset="0.6170" stop-color="#436cb6"/><stop offset="0.6277" stop-color="#436db6"/><stop offset="0.6383" stop-color="#436eb7"/><stop offset="0.6489" stop-color="#436eb7"/><stop offset="0.6596" stop-color="#446fb8"/><stop offset="0.6702" stop-color="#4470b8"/><stop offset="0.6809" stop-color="#4471b9"/><stop offset="0.6915" stop-color="#4472b9"/><stop offset="0.7021" stop-color="#4474bb"/><stop offset="0.7128" stop-color="#4577bc"/><stop offset="0.7234" stop-color="#4579be"/><stop offset="0.7340" stop-color="#457cc0"/><stop offset="0.7447" stop-color="#467fc1"/><stop offset="0.7553" stop-color="#467ec1"/><stop offset="0.7660" stop-color="#457cc0"/><stop offset="0.7766" stop-color="#4579be"/><stop offset="0.7872" stop-color="#4476bc"/><stop offset="0.7979" stop-color="#4473ba"/><stop offset="0.8085" stop-color="#436eb7"/><stop offset="0.8191" stop-color="#4269b4"/><stop offset="0.8298" stop-color="#4164b1"/><stop offset="0.8404" stop-color="#4060af"/><stop offset="0.8511" stop-color="#405dad"/><stop offset="0.8617" stop-color="#3f5cab"/><stop offset="0.8723" stop-color="#3f5aaa"/><stop offset="0.8830" stop-color="#3e58a8"/><stop offset="0.8936" stop-color="#3e57a8"/><stop offset="0.9043" stop-color="#3d57a7"/><stop offset="0.9149" stop-color="#3d56a7"/><stop offset="0.9255" stop-color="#3c55a6"/><stop offset="0.9362" stop-color="#3b55a6"/><stop offset="0.9468" stop-color="#3a54a5"/><stop offset="0.9574" stop-color="#3953a4"/><stop offset="0.9681" stop-color="#3953a4"/><stop offset="0.9787" stop-color="#3953a4"/><stop offset="0.9894" stop-color="#3953a4"/><stop offset="1.0000" stop-color="#3953a4"/></linearGradient>
<linearGradient id="rg4" x1="452" y1="0" x2="640" y2="0" gradientUnits="userSpaceOnUse"><stop offset="0.0000" stop-color="#3953a4"/><stop offset="0.0106" stop-color="#3953a4"/><stop offset="0.0213" stop-color="#3953a4"/><stop offset="0.0319" stop-color="#3953a4"/><stop offset="0.0426" stop-color="#3953a4"/><stop offset="0.0532" stop-color="#3953a4"/><stop offset="0.0638" stop-color="#3953a4"/><stop offset="0.0745" stop-color="#3953a4"/><stop offset="0.0851" stop-color="#3953a4"/><stop offset="0.0957" stop-color="#3953a4"/><stop offset="0.1064" stop-color="#3953a4"/><stop offset="0.1170" stop-color="#3953a4"/><stop offset="0.1277" stop-color="#3953a4"/><stop offset="0.1383" stop-color="#3953a4"/><stop offset="0.1489" stop-color="#3953a4"/><stop offset="0.1596" stop-color="#3953a4"/><stop offset="0.1702" stop-color="#3953a4"/><stop offset="0.1809" stop-color="#3953a4"/><stop offset="0.1915" stop-color="#3953a4"/><stop offset="0.2021" stop-color="#3953a4"/><stop offset="0.2128" stop-color="#3953a4"/><stop offset="0.2234" stop-color="#3953a4"/><stop offset="0.2340" stop-color="#3953a4"/><stop offset="0.2447" stop-color="#3953a4"/><stop offset="0.2553" stop-color="#3953a4"/><stop offset="0.2660" stop-color="#3953a4"/><stop offset="0.2766" stop-color="#3953a4"/><stop offset="0.2872" stop-color="#3953a4"/><stop offset="0.2979" stop-color="#3953a4"/><stop offset="0.3085" stop-color="#3953a4"/><stop offset="0.3191" stop-color="#3953a4"/><stop offset="0.3298" stop-color="#3953a4"/><stop offset="0.3404" stop-color="#3953a4"/><stop offset="0.3511" stop-color="#3953a4"/><stop offset="0.3617" stop-color="#3953a4"/><stop offset="0.3723" stop-color="#3953a4"/><stop offset="0.3830" stop-color="#3a54a5"/><stop offset="0.3936" stop-color="#3b54a5"/><stop offset="0.4043" stop-color="#3b54a5"/><stop offset="0.4149" stop-color="#3c55a6"/><stop offset="0.4255" stop-color="#3c55a6"/><stop offset="0.4362" stop-color="#3c55a6"/><stop offset="0.4468" stop-color="#3d56a7"/><stop offset="0.4574" stop-color="#3d57a7"/><stop offset="0.4681" stop-color="#3d57a7"/><stop offset="0.4787" stop-color="#3e58a8"/><stop offset="0.4894" stop-color="#3e59a9"/><stop offset="0.5000" stop-color="#3f5aaa"/><stop offset="0.5106" stop-color="#3f5cab"/><stop offset="0.5213" stop-color="#405dad"/><stop offset="0.5319" stop-color="#405fae"/><stop offset="0.5426" stop-color="#4161af"/><stop offset="0.5532" stop-color="#4164b1"/><stop offset="0.5638" stop-color="#4267b3"/><stop offset="0.5745" stop-color="#436ab4"/><stop offset="0.5851" stop-color="#436eb7"/><stop offset="0.5957" stop-color="#436eb7"/><stop offset="0.6064" stop-color="#436eb7"/><stop offset="0.6170" stop-color="#446fb7"/><stop offset="0.6277" stop-color="#446fb8"/><stop offset="0.6383" stop-color="#4470b8"/><stop offset="0.6489" stop-color="#4470b8"/><stop offset="0.6596" stop-color="#4471b9"/><stop offset="0.6702" stop-color="#4472ba"/><stop offset="0.6809" stop-color="#4473ba"/><stop offset="0.6915" stop-color="#4475bb"/><stop offset="0.7021" stop-color="#4476bc"/><stop offset="0.7128" stop-color="#4578bd"/><stop offset="0.7234" stop-color="#457cc0"/><stop offset="0.7340" stop-color="#4680c2"/><stop offset="0.7447" stop-color="#4684c5"/><stop offset="0.7553" stop-color="#4688c7"/><stop offset="0.7660" stop-color="#4684c5"/><stop offset="0.7766" stop-color="#4681c3"/><stop offset="0.7872" stop-color="#457dc1"/><stop offset="0.7979" stop-color="#457abe"/><stop offset="0.8085" stop-color="#4576bc"/><stop offset="0.8191" stop-color="#446fb8"/><stop offset="0.8298" stop-color="#4369b4"/><stop offset="0.8404" stop-color="#4165b1"/><stop offset="0.8511" stop-color="#4060af"/><stop offset="0.8617" stop-color="#405dad"/><stop offset="0.8723" stop-color="#3f5bab"/><stop offset="0.8830" stop-color="#3e59a9"/><stop offset="0.8936" stop-color="#3e58a8"/><stop offset="0.9043" stop-color="#3d57a7"/><stop offset="0.9149" stop-color="#3d56a7"/><stop offset="0.9255" stop-color="#3c56a6"/><stop offset="0.9362" stop-color="#3c55a6"/><stop offset="0.9468" stop-color="#3b54a5"/><stop offset="0.9574" stop-color="#3953a4"/><stop offset="0.9681" stop-color="#3953a4"/><stop offset="0.9787" stop-color="#3953a4"/><stop offset="0.9894" stop-color="#3953a4"/><stop offset="1.0000" stop-color="#3953a4"/></linearGradient>
<linearGradient id="rg5" x1="452" y1="0" x2="640" y2="0" gradientUnits="userSpaceOnUse"><stop offset="0.0000" stop-color="#3953a4"/><stop offset="0.0106" stop-color="#3953a4"/><stop offset="0.0213" stop-color="#3953a4"/><stop offset="0.0319" stop-color="#3953a4"/><stop offset="0.0426" stop-color="#3953a4"/><stop offset="0.0532" stop-color="#3953a4"/><stop offset="0.0638" stop-color="#3953a4"/><stop offset="0.0745" stop-color="#3953a4"/><stop offset="0.0851" stop-color="#3953a4"/><stop offset="0.0957" stop-color="#3953a4"/><stop offset="0.1064" stop-color="#3953a4"/><stop offset="0.1170" stop-color="#3953a4"/><stop offset="0.1277" stop-color="#3953a4"/><stop offset="0.1383" stop-color="#3953a4"/><stop offset="0.1489" stop-color="#3953a4"/><stop offset="0.1596" stop-color="#3953a4"/><stop offset="0.1702" stop-color="#3953a4"/><stop offset="0.1809" stop-color="#3953a4"/><stop offset="0.1915" stop-color="#3953a4"/><stop offset="0.2021" stop-color="#3953a4"/><stop offset="0.2128" stop-color="#3953a4"/><stop offset="0.2234" stop-color="#3953a4"/><stop offset="0.2340" stop-color="#3953a4"/><stop offset="0.2447" stop-color="#3953a4"/><stop offset="0.2553" stop-color="#3953a4"/><stop offset="0.2660" stop-color="#3953a4"/><stop offset="0.2766" stop-color="#3953a4"/><stop offset="0.2872" stop-color="#3953a4"/><stop offset="0.2979" stop-color="#3953a4"/><stop offset="0.3085" stop-color="#3953a4"/><stop offset="0.3191" stop-color="#3953a4"/><stop offset="0.3298" stop-color="#3953a4"/><stop offset="0.3404" stop-color="#3953a4"/><stop offset="0.3511" stop-color="#3953a4"/><stop offset="0.3617" stop-color="#3953a4"/><stop offset="0.3723" stop-color="#3953a4"/><stop offset="0.3830" stop-color="#3953a4"/><stop offset="0.3936" stop-color="#3953a4"/><stop offset="0.4043" stop-color="#3a54a5"/><stop offset="0.4149" stop-color="#3a54a5"/><stop offset="0.4255" stop-color="#3b54a5"/><stop offset="0.4362" stop-color="#3b55a6"/><stop offset="0.4468" stop-color="#3c55a6"/><stop offset="0.4574" stop-color="#3c55a6"/><stop offset="0.4681" stop-color="#3c56a6"/><stop offset="0.4787" stop-color="#3d56a7"/><stop offset="0.4894" stop-color="#3d56a7"/><stop offset="0.5000" stop-color="#3d57a7"/><stop offset="0.5106" stop-color="#3e57a8"/><stop offset="0.5213" stop-color="#3e58a8"/><stop offset="0.5319" stop-color="#3e58a8"/><stop offset="0.5426" stop-color="#3e59a9"/><stop offset="0.5532" stop-color="#3f5baa"/><stop offset="0.5638" stop-color="#3f5cab"/><stop offset="0.5745" stop-color="#3f5dac"/><stop offset="0.5851" stop-color="#405ead"/><stop offset="0.5957" stop-color="#405fae"/><stop offset="0.6064" stop-color="#4061af"/><stop offset="0.6170" stop-color="#4163b0"/><stop offset="0.6277" stop-color="#4163b1"/><stop offset="0.6383" stop-color="#4164b1"/><stop offset="0.6489" stop-color="#4164b1"/><stop offset="0.6596" stop-color="#4164b1"/><stop offset="0.6702" stop-color="#4165b1"/><stop offset="0.6809" stop-color="#4265b2"/><stop offset="0.6915" stop-color="#4267b3"/><stop offset="0.7021" stop-color="#4269b4"/><stop offset="0.7128" stop-color="#436bb5"/><stop offset="0.7234" stop-color="#436eb7"/><stop offset="0.7340" stop-color="#4470b8"/><stop offset="0.7447" stop-color="#4473ba"/><stop offset="0.7553" stop-color="#4576bc"/><stop offset="0.7660" stop-color="#4473ba"/><stop offset="0.7766" stop-color="#4470b8"/><stop offset="0.7872" stop-color="#436cb6"/><stop offset="0.7979" stop-color="#436ab4"/><stop offset="0.8085" stop-color="#4267b3"/><stop offset="0.8191" stop-color="#4265b2"/><stop offset="0.8298" stop-color="#4061af"/><stop offset="0.8404" stop-color="#405ead"/><stop offset="0.8511" stop-color="#3f5cab"/><stop offset="0.8617" stop-color="#3f5aaa"/><stop offset="0.8723" stop-color="#3e58a8"/><stop offset="0.8830" stop-color="#3d57a7"/><stop offset="0.8936" stop-color="#3d56a7"/><stop offset="0.9043" stop-color="#3c55a6"/><stop offset="0.9149" stop-color="#3a54a5"/><stop offset="0.9255" stop-color="#3953a4"/><stop offset="0.9362" stop-color="#3953a4"/><stop offset="0.9468" stop-color="#3953a4"/><stop offset="0.9574" stop-color="#3953a4"/><stop offset="0.9681" stop-color="#3953a4"/><stop offset="0.9787" stop-color="#3953a4"/><stop offset="0.9894" stop-color="#3953a4"/><stop offset="1.0000" stop-color="#3953a4"/></linearGradient>
<linearGradient id="rg6" x1="452" y1="0" x2="640" y2="0" gradientUnits="userSpaceOnUse"><stop offset="0.0000" stop-color="#3953a4"/><stop offset="0.0106" stop-color="#3953a4"/><stop offset="0.0213" stop-color="#3953a4"/><stop offset="0.0319" stop-color="#3953a4"/><stop offset="0.0426" stop-color="#3953a4"/><stop offset="0.0532" stop-color="#3953a4"/><stop offset="0.0638" stop-color="#3953a4"/><stop offset="0.0745" stop-color="#3953a4"/><stop offset="0.0851" stop-color="#3953a4"/><stop offset="0.0957" stop-color="#3953a4"/><stop offset="0.1064" stop-color="#3953a4"/><stop offset="0.1170" stop-color="#3953a4"/><stop offset="0.1277" stop-color="#3953a4"/><stop offset="0.1383" stop-color="#3953a4"/><stop offset="0.1489" stop-color="#3953a4"/><stop offset="0.1596" stop-color="#3953a4"/><stop offset="0.1702" stop-color="#3953a4"/><stop offset="0.1809" stop-color="#3953a4"/><stop offset="0.1915" stop-color="#3953a4"/><stop offset="0.2021" stop-color="#3953a4"/><stop offset="0.2128" stop-color="#3953a4"/><stop offset="0.2234" stop-color="#3953a4"/><stop offset="0.2340" stop-color="#3953a4"/><stop offset="0.2447" stop-color="#3953a4"/><stop offset="0.2553" stop-color="#3953a4"/><stop offset="0.2660" stop-color="#3953a4"/><stop offset="0.2766" stop-color="#3953a4"/><stop offset="0.2872" stop-color="#3953a4"/><stop offset="0.2979" stop-color="#3953a4"/><stop offset="0.3085" stop-color="#3953a4"/><stop offset="0.3191" stop-color="#3953a4"/><stop offset="0.3298" stop-color="#3953a4"/><stop offset="0.3404" stop-color="#3953a4"/><stop offset="0.3511" stop-color="#3953a4"/><stop offset="0.3617" stop-color="#3953a4"/><stop offset="0.3723" stop-color="#3953a4"/><stop offset="0.3830" stop-color="#3953a4"/><stop offset="0.3936" stop-color="#3953a4"/><stop offset="0.4043" stop-color="#3953a4"/><stop offset="0.4149" stop-color="#3953a4"/><stop offset="0.4255" stop-color="#3953a4"/><stop offset="0.4362" stop-color="#3953a4"/><stop offset="0.4468" stop-color="#3953a4"/><stop offset="0.4574" stop-color="#3953a4"/><stop offset="0.4681" stop-color="#3953a4"/><stop offset="0.4787" stop-color="#3a54a5"/><stop offset="0.4894" stop-color="#3b54a5"/><stop offset="0.5000" stop-color="#3b55a6"/><stop offset="0.5106" stop-color="#3c55a6"/><stop offset="0.5213" stop-color="#3c56a6"/><stop offset="0.5319" stop-color="#3d56a7"/><stop offset="0.5426" stop-color="#3d57a7"/><stop offset="0.5532" stop-color="#3d57a7"/><stop offset="0.5638" stop-color="#3e58a8"/><stop offset="0.5745" stop-color="#3e58a8"/><stop offset="0.5851" stop-color="#3e59a9"/><stop offset="0.5957" stop-color="#3e5aa9"/><stop offset="0.6064" stop-color="#3f5aaa"/><stop offset="0.6170" stop-color="#3f5bab"/><stop offset="0.6277" stop-color="#3f5cab"/><stop offset="0.6383" stop-color="#3f5cac"/><stop offset="0.6489" stop-color="#3f5dac"/><stop offset="0.6596" stop-color="#405ead"/><stop offset="0.6702" stop-color="#405ead"/><stop offset="0.6809" stop-color="#405fae"/><stop offset="0.6915" stop-color="#4060af"/><stop offset="0.7021" stop-color="#4162b0"/><stop offset="0.7128" stop-color="#4163b0"/><stop offset="0.7234" stop-color="#4165b1"/><stop offset="0.7340" stop-color="#4266b2"/><stop offset="0.7447" stop-color="#4267b3"/><stop offset="0.7553" stop-color="#4269b4"/><stop offset="0.7660" stop-color="#4267b2"/><stop offset="0.7766" stop-color="#4164b1"/><stop offset="0.7872" stop-color="#4162b0"/><stop offset="0.7979" stop-color="#4060af"/><stop offset="0.8085" stop-color="#405eae"/><stop offset="0.8191" stop-color="#405dad"/><stop offset="0.8298" stop-color="#3f5cab"/><stop offset="0.8404" stop-color="#3f5baa"/><stop offset="0.8511" stop-color="#3e59a9"/><stop offset="0.8617" stop-color="#3e58a8"/><stop offset="0.8723" stop-color="#3e58a8"/><stop offset="0.8830" stop-color="#3d56a7"/><stop offset="0.8936" stop-color="#3c55a6"/><stop offset="0.9043" stop-color="#3a54a5"/><stop offset="0.9149" stop-color="#3953a4"/><stop offset="0.9255" stop-color="#3953a4"/><stop offset="0.9362" stop-color="#3953a4"/><stop offset="0.9468" stop-color="#3953a4"/><stop offset="0.9574" stop-color="#3953a4"/><stop offset="0.9681" stop-color="#3953a4"/><stop offset="0.9787" stop-color="#3953a4"/><stop offset="0.9894" stop-color="#3953a4"/><stop offset="1.0000" stop-color="#3953a4"/></linearGradient>
<linearGradient id="rg7" x1="452" y1="0" x2="640" y2="0" gradientUnits="userSpaceOnUse"><stop offset="0.0000" stop-color="#3953a4"/><stop offset="0.0106" stop-color="#3953a4"/><stop offset="0.0213" stop-color="#3953a4"/><stop offset="0.0319" stop-color="#3953a4"/><stop offset="0.0426" stop-color="#3953a4"/><stop offset="0.0532" stop-color="#3953a4"/><stop offset="0.0638" stop-color="#3953a4"/><stop offset="0.0745" stop-color="#3953a4"/><stop offset="0.0851" stop-color="#3953a4"/><stop offset="0.0957" stop-color="#3953a4"/><stop offset="0.1064" stop-color="#3953a4"/><stop offset="0.1170" stop-color="#3953a4"/><stop offset="0.1277" stop-color="#3953a4"/><stop offset="0.1383" stop-color="#3953a4"/><stop offset="0.1489" stop-color="#3953a4"/><stop offset="0.1596" stop-color="#3953a4"/><stop offset="0.1702" stop-color="#3953a4"/><stop offset="0.1809" stop-color="#3953a4"/><stop offset="0.1915" stop-color="#3953a4"/><stop offset="0.2021" stop-color="#3953a4"/><stop offset="0.2128" stop-color="#3953a4"/><stop offset="0.2234" stop-color="#3953a4"/><stop offset="0.2340" stop-color="#3953a4"/><stop offset="0.2447" stop-color="#3953a4"/><stop offset="0.2553" stop-color="#3953a4"/><stop offset="0.2660" stop-color="#3953a4"/><stop offset="0.2766" stop-color="#3953a4"/><stop offset="0.2872" stop-color="#3953a4"/><stop offset="0.2979" stop-color="#3953a4"/><stop offset="0.3085" stop-color="#3953a4"/><stop offset="0.3191" stop-color="#3953a4"/><stop offset="0.3298" stop-color="#3953a4"/><stop offset="0.3404" stop-color="#3953a4"/><stop offset="0.3511" stop-color="#3953a4"/><stop offset="0.3617" stop-color="#3953a4"/><stop offset="0.3723" stop-color="#3953a4"/><stop offset="0.3830" stop-color="#3953a4"/><stop offset="0.3936" stop-color="#3953a4"/><stop offset="0.4043" stop-color="#3953a4"/><stop offset="0.4149" stop-color="#3953a4"/><stop offset="0.4255" stop-color="#3953a4"/><stop offset="0.4362" stop-color="#3953a4"/><stop offset="0.4468" stop-color="#3953a4"/><stop offset="0.4574" stop-color="#3953a4"/><stop offset="0.4681" stop-color="#3953a4"/><stop offset="0.4787" stop-color="#3953a4"/><stop offset="0.4894" stop-color="#3953a4"/><stop offset="0.5000" stop-color="#3a54a5"/><stop offset="0.5106" stop-color="#3a54a5"/><stop offset="0.5213" stop-color="#3b54a5"/><stop offset="0.5319" stop-color="#3c55a6"/><stop offset="0.5426" stop-color="#3c55a6"/><stop offset="0.5532" stop-color="#3d56a7"/><stop offset="0.5638" stop-color="#3d56a7"/><stop offset="0.5745" stop-color="#3d57a7"/><stop offset="0.5851" stop-color="#3e58a8"/><stop offset="0.5957" stop-color="#3e58a8"/><stop offset="0.6064" stop-color="#3e58a8"/><stop offset="0.6170" stop-color="#3e58a8"/><stop offset="0.6277" stop-color="#3e59a9"/><stop offset="0.6383" stop-color="#3e59a9"/><stop offset="0.6489" stop-color="#3f5aaa"/><stop offset="0.6596" stop-color="#3f5baa"/><stop offset="0.6702" stop-color="#3f5bab"/><stop offset="0.6809" stop-color="#3f5cab"/><stop offset="0.6915" stop-color="#3f5cac"/><stop offset="0.7021" stop-color="#3f5dac"/><stop offset="0.7128" stop-color="#405ead"/><stop offset="0.7234" stop-color="#405eae"/><stop offset="0.7340" stop-color="#405fae"/><stop offset="0.7447" stop-color="#4061af"/><stop offset="0.7553" stop-color="#4162b0"/><stop offset="0.7660" stop-color="#4162b0"/><stop offset="0.7766" stop-color="#4060ae"/><stop offset="0.7872" stop-color="#405ead"/><stop offset="0.7979" stop-color="#405dad"/><stop offset="0.8085" stop-color="#3f5cac"/><stop offset="0.8191" stop-color="#3f5bab"/><stop offset="0.8298" stop-color="#3f5aaa"/><stop offset="0.8404" stop-color="#3e59a9"/><stop offset="0.8511" stop-color="#3e58a8"/><stop offset="0.8617" stop-color="#3e58a8"/><stop offset="0.8723" stop-color="#3d57a7"/><stop offset="0.8830" stop-color="#3d56a7"/><stop offset="0.8936" stop-color="#3c55a6"/><stop offset="0.9043" stop-color="#3a54a5"/><stop offset="0.9149" stop-color="#3953a4"/><stop offset="0.9255" stop-color="#3953a4"/><stop offset="0.9362" stop-color="#3953a4"/><stop offset="0.9468" stop-color="#3953a4"/><stop offset="0.9574" stop-color="#3953a4"/><stop offset="0.9681" stop-color="#3953a4"/><stop offset="0.9787" stop-color="#3953a4"/><stop offset="0.9894" stop-color="#3953a4"/><stop offset="1.0000" stop-color="#3953a4"/></linearGradient>
<linearGradient id="rg8" x1="452" y1="0" x2="640" y2="0" gradientUnits="userSpaceOnUse"><stop offset="0.0000" stop-color="#3953a4"/><stop offset="0.0106" stop-color="#3953a4"/><stop offset="0.0213" stop-color="#3953a4"/><stop offset="0.0319" stop-color="#3953a4"/><stop offset="0.0426" stop-color="#3953a4"/><stop offset="0.0532" stop-color="#3953a4"/><stop offset="0.0638" stop-color="#3953a4"/><stop offset="0.0745" stop-color="#3953a4"/><stop offset="0.0851" stop-color="#3953a4"/><stop offset="0.0957" stop-color="#3953a4"/><stop offset="0.1064" stop-color="#3953a4"/><stop offset="0.1170" stop-color="#3953a4"/><stop offset="0.1277" stop-color="#3953a4"/><stop offset="0.1383" stop-color="#3953a4"/><stop offset="0.1489" stop-color="#3953a4"/><stop offset="0.1596" stop-color="#3953a4"/><stop offset="0.1702" stop-color="#3953a4"/><stop offset="0.1809" stop-color="#3953a4"/><stop offset="0.1915" stop-color="#3953a4"/><stop offset="0.2021" stop-color="#3953a4"/><stop offset="0.2128" stop-color="#3953a4"/><stop offset="0.2234" stop-color="#3953a4"/><stop offset="0.2340" stop-color="#3953a4"/><stop offset="0.2447" stop-color="#3953a4"/><stop offset="0.2553" stop-color="#3953a4"/><stop offset="0.2660" stop-color="#3953a4"/><stop offset="0.2766" stop-color="#3953a4"/><stop offset="0.2872" stop-color="#3953a4"/><stop offset="0.2979" stop-color="#3953a4"/><stop offset="0.3085" stop-color="#3953a4"/><stop offset="0.3191" stop-color="#3953a4"/><stop offset="0.3298" stop-color="#3953a4"/><stop offset="0.3404" stop-color="#3953a4"/><stop offset="0.3511" stop-color="#3953a4"/><stop offset="0.3617" stop-color="#3953a4"/><stop offset="0.3723" stop-color="#3953a4"/><stop offset="0.3830" stop-color="#3953a4"/><stop offset="0.3936" stop-color="#3953a4"/><stop offset="0.4043" stop-color="#3953a4"/><stop offset="0.4149" stop-color="#3953a4"/><stop offset="0.4255" stop-color="#3953a4"/><stop offset="0.4362" stop-color="#3953a4"/><stop offset="0.4468" stop-color="#3953a4"/><stop offset="0.4574" stop-color="#3953a4"/><stop offset="0.4681" stop-color="#3953a4"/><stop offset="0.4787" stop-color="#3953a4"/><stop offset="0.4894" stop-color="#3953a4"/><stop offset="0.5000" stop-color="#3953a4"/><stop offset="0.5106" stop-color="#3953a4"/><stop offset="0.5213" stop-color="#3953a4"/><stop offset="0.5319" stop-color="#3a54a5"/><stop offset="0.5426" stop-color="#3a54a5"/><stop offset="0.5532" stop-color="#3b54a5"/><stop offset="0.5638" stop-color="#3c55a6"/><stop offset="0.5745" stop-color="#3c55a6"/><stop offset="0.5851" stop-color="#3c56a6"/><stop offset="0.5957" stop-color="#3d56a7"/><stop offset="0.6064" stop-color="#3d56a7"/><stop offset="0.6170" stop-color="#3d57a7"/><stop offset="0.6277" stop-color="#3d57a7"/><stop offset="0.6383" stop-color="#3d57a7"/><stop offset="0.6489" stop-color="#3d57a7"/><stop offset="0.6596" stop-color="#3e57a8"/><stop offset="0.6702" stop-color="#3e57a8"/><stop offset="0.6809" stop-color="#3e58a8"/><stop offset="0.6915" stop-color="#3e58a8"/><stop offset="0.7021" stop-color="#3e58a8"/><stop offset="0.7128" stop-color="#3e58a8"/><stop offset="0.7234" stop-color="#3e59a9"/><stop offset="0.7340" stop-color="#3e59a9"/><stop offset="0.7447" stop-color="#3f5aaa"/><stop offset="0.7553" stop-color="#3f5baa"/><stop offset="0.7660" stop-color="#3f5bab"/><stop offset="0.7766" stop-color="#3f5aaa"/><stop offset="0.7872" stop-color="#3e5aa9"/><stop offset="0.7979" stop-color="#3e59a9"/><stop offset="0.8085" stop-color="#3e58a8"/><stop offset="0.8191" stop-color="#3e58a8"/><stop offset="0.8298" stop-color="#3e57a8"/><stop offset="0.8404" stop-color="#3d57a7"/><stop offset="0.8511" stop-color="#3d57a7"/><stop offset="0.8617" stop-color="#3d57a7"/><stop offset="0.8723" stop-color="#3d56a7"/><stop offset="0.8830" stop-color="#3d56a7"/><stop offset="0.8936" stop-color="#3c55a6"/><stop offset="0.9043" stop-color="#3a54a5"/><stop offset="0.9149" stop-color="#3953a4"/><stop offset="0.9255" stop-color="#3953a4"/><stop offset="0.9362" stop-color="#3953a4"/><stop offset="0.9468" stop-color="#3953a4"/><stop offset="0.9574" stop-color="#3953a4"/><stop offset="0.9681" stop-color="#3953a4"/><stop offset="0.9787" stop-color="#3953a4"/><stop offset="0.9894" stop-color="#3953a4"/><stop offset="1.0000" stop-color="#3953a4"/></linearGradient>
<linearGradient id="rg9" x1="452" y1="0" x2="640" y2="0" gradientUnits="userSpaceOnUse"><stop offset="0.0000" stop-color="#3953a4"/><stop offset="0.0106" stop-color="#3953a4"/><stop offset="0.0213" stop-color="#3953a4"/><stop offset="0.0319" stop-color="#3953a4"/><stop offset="0.0426" stop-color="#3953a4"/><stop offset="0.0532" stop-color="#3953a4"/><stop offset="0.0638" stop-color="#3953a4"/><stop offset="0.0745" stop-color="#3953a4"/><stop offset="0.0851" stop-color="#3953a4"/><stop offset="0.0957" stop-color="#3953a4"/><stop offset="0.1064" stop-color="#3953a4"/><stop offset="0.1170" stop-color="#3953a4"/><stop offset="0.1277" stop-color="#3953a4"/><stop offset="0.1383" stop-color="#3953a4"/><stop offset="0.1489" stop-color="#3953a4"/><stop offset="0.1596" stop-color="#3953a4"/><stop offset="0.1702" stop-color="#3953a4"/><stop offset="0.1809" stop-color="#3953a4"/><stop offset="0.1915" stop-color="#3953a4"/><stop offset="0.2021" stop-color="#3953a4"/><stop offset="0.2128" stop-color="#3953a4"/><stop offset="0.2234" stop-color="#3953a4"/><stop offset="0.2340" stop-color="#3953a4"/><stop offset="0.2447" stop-color="#3953a4"/><stop offset="0.2553" stop-color="#3953a4"/><stop offset="0.2660" stop-color="#3953a4"/><stop offset="0.2766" stop-color="#3953a4"/><stop offset="0.2872" stop-color="#3953a4"/><stop offset="0.2979" stop-color="#3953a4"/><stop offset="0.3085" stop-color="#3953a4"/><stop offset="0.3191" stop-color="#3953a4"/><stop offset="0.3298" stop-color="#3953a4"/><stop offset="0.3404" stop-color="#3953a4"/><stop offset="0.3511" stop-color="#3953a4"/><stop offset="0.3617" stop-color="#3953a4"/><stop offset="0.3723" stop-color="#3953a4"/><stop offset="0.3830" stop-color="#3953a4"/><stop offset="0.3936" stop-color="#3953a4"/><stop offset="0.4043" stop-color="#3953a4"/><stop offset="0.4149" stop-color="#3953a4"/><stop offset="0.4255" stop-color="#3953a4"/><stop offset="0.4362" stop-color="#3953a4"/><stop offset="0.4468" stop-color="#3953a4"/><stop offset="0.4574" stop-color="#3953a4"/><stop offset="0.4681" stop-color="#3953a4"/><stop offset="0.4787" stop-color="#3953a4"/><stop offset="0.4894" stop-color="#3953a4"/><stop offset="0.5000" stop-color="#3953a4"/><stop offset="0.5106" stop-color="#3953a4"/><stop offset="0.5213" stop-color="#3953a4"/><stop offset="0.5319" stop-color="#3953a4"/><stop offset="0.5426" stop-color="#3953a4"/><stop offset="0.5532" stop-color="#3a53a4"/><stop offset="0.5638" stop-color="#3a54a5"/><stop offset="0.5745" stop-color="#3b54a5"/><stop offset="0.5851" stop-color="#3c55a6"/><stop offset="0.5957" stop-color="#3c55a6"/><stop offset="0.6064" stop-color="#3c56a6"/><stop offset="0.6170" stop-color="#3d56a7"/><stop offset="0.6277" stop-color="#3d56a7"/><stop offset="0.6383" stop-color="#3d56a7"/><stop offset="0.6489" stop-color="#3d57a7"/><stop offset="0.6596" stop-color="#3d57a7"/><stop offset="0.6702" stop-color="#3d57a7"/><stop offset="0.6809" stop-color="#3d57a7"/><stop offset="0.6915" stop-color="#3d57a7"/><stop offset="0.7021" stop-color="#3d57a7"/><stop offset="0.7128" stop-color="#3e57a8"/><stop offset="0.7234" stop-color="#3e58a8"/><stop offset="0.7340" stop-color="#3e58a8"/><stop offset="0.7447" stop-color="#3e58a8"/><stop offset="0.7553" stop-color="#3e58a8"/><stop offset="0.7660" stop-color="#3e59a8"/><stop offset="0.7766" stop-color="#3e58a8"/><stop offset="0.7872" stop-color="#3e58a8"/><stop offset="0.7979" stop-color="#3e58a8"/><stop offset="0.8085" stop-color="#3e58a8"/><stop offset="0.8191" stop-color="#3e57a8"/><stop offset="0.8298" stop-color="#3d57a7"/><stop offset="0.8404" stop-color="#3d57a7"/><stop offset="0.8511" stop-color="#3d57a7"/><stop offset="0.8617" stop-color="#3d56a7"/><stop offset="0.8723" stop-color="#3d56a7"/><stop offset="0.8830" stop-color="#3c56a6"/><stop offset="0.8936" stop-color="#3c55a6"/><stop offset="0.9043" stop-color="#3a54a5"/><stop offset="0.9149" stop-color="#3953a4"/><stop offset="0.9255" stop-color="#3953a4"/><stop offset="0.9362" stop-color="#3953a4"/><stop offset="0.9468" stop-color="#3953a4"/><stop offset="0.9574" stop-color="#3953a4"/><stop offset="0.9681" stop-color="#3953a4"/><stop offset="0.9787" stop-color="#3953a4"/><stop offset="0.9894" stop-color="#3953a4"/><stop offset="1.0000" stop-color="#3953a4"/></linearGradient>
<linearGradient id="rg10" x1="452" y1="0" x2="640" y2="0" gradientUnits="userSpaceOnUse"><stop offset="0.0000" stop-color="#3953a4"/><stop offset="0.0106" stop-color="#3953a4"/><stop offset="0.0213" stop-color="#3953a4"/><stop offset="0.0319" stop-color="#3953a4"/><stop offset="0.0426" stop-color="#3953a4"/><stop offset="0.0532" stop-color="#3953a4"/><stop offset="0.0638" stop-color="#3953a4"/><stop offset="0.0745" stop-color="#3953a4"/><stop offset="0.0851" stop-color="#3953a4"/><stop offset="0.0957" stop-color="#3953a4"/><stop offset="0.1064" stop-color="#3953a4"/><stop offset="0.1170" stop-color="#3953a4"/><stop offset="0.1277" stop-color="#3953a4"/><stop offset="0.1383" stop-color="#3953a4"/><stop offset="0.1489" stop-color="#3953a4"/><stop offset="0.1596" stop-color="#3953a4"/><stop offset="0.1702" stop-color="#3953a4"/><stop offset="0.1809" stop-color="#3953a4"/><stop offset="0.1915" stop-color="#3953a4"/><stop offset="0.2021" stop-color="#3953a4"/><stop offset="0.2128" stop-color="#3953a4"/><stop offset="0.2234" stop-color="#3953a4"/><stop offset="0.2340" stop-color="#3953a4"/><stop offset="0.2447" stop-color="#3953a4"/><stop offset="0.2553" stop-color="#3953a4"/><stop offset="0.2660" stop-color="#3953a4"/><stop offset="0.2766" stop-color="#3953a4"/><stop offset="0.2872" stop-color="#3953a4"/><stop offset="0.2979" stop-color="#3953a4"/><stop offset="0.3085" stop-color="#3953a4"/><stop offset="0.3191" stop-color="#3953a4"/><stop offset="0.3298" stop-color="#3953a4"/><stop offset="0.3404" stop-color="#3953a4"/><stop offset="0.3511" stop-color="#3953a4"/><stop offset="0.3617" stop-color="#3953a4"/><stop offset="0.3723" stop-color="#3953a4"/><stop offset="0.3830" stop-color="#3953a4"/><stop offset="0.3936" stop-color="#3953a4"/><stop offset="0.4043" stop-color="#3953a4"/><stop offset="0.4149" stop-color="#3953a4"/><stop offset="0.4255" stop-color="#3953a4"/><stop offset="0.4362" stop-color="#3953a4"/><stop offset="0.4468" stop-color="#3953a4"/><stop offset="0.4574" stop-color="#3953a4"/><stop offset="0.4681" stop-color="#3953a4"/><stop offset="0.4787" stop-color="#3953a4"/><stop offset="0.4894" stop-color="#3953a4"/><stop offset="0.5000" stop-color="#3953a4"/><stop offset="0.5106" stop-color="#3953a4"/><stop offset="0.5213" stop-color="#3953a4"/><stop offset="0.5319" stop-color="#3953a4"/><stop offset="0.5426" stop-color="#3953a4"/><stop offset="0.5532" stop-color="#3953a4"/><stop offset="0.5638" stop-color="#3953a4"/><stop offset="0.5745" stop-color="#3953a4"/><stop offset="0.5851" stop-color="#3a54a5"/><stop offset="0.5957" stop-color="#3b54a5"/><stop offset="0.6064" stop-color="#3b55a6"/><stop offset="0.6170" stop-color="#3c55a6"/><stop offset="0.6277" stop-color="#3c56a6"/><stop offset="0.6383" stop-color="#3c56a6"/><stop offset="0.6489" stop-color="#3d56a7"/><stop offset="0.6596" stop-color="#3d56a7"/><stop offset="0.6702" stop-color="#3d56a7"/><stop offset="0.6809" stop-color="#3d56a7"/><stop offset="0.6915" stop-color="#3d56a7"/><stop offset="0.7021" stop-color="#3d57a7"/><stop offset="0.7128" stop-color="#3d57a7"/><stop offset="0.7234" stop-color="#3d57a7"/><stop offset="0.7340" stop-color="#3d57a7"/><stop offset="0.7447" stop-color="#3d57a7"/><stop offset="0.7553" stop-color="#3d57a7"/><stop offset="0.7660" stop-color="#3e57a8"/><stop offset="0.7766" stop-color="#3e57a8"/><stop offset="0.7872" stop-color="#3e57a8"/><stop offset="0.7979" stop-color="#3d57a7"/><stop offset="0.8085" stop-color="#3d57a7"/><stop offset="0.8191" stop-color="#3d57a7"/><stop offset="0.8298" stop-color="#3d57a7"/><stop offset="0.8404" stop-color="#3d56a7"/><stop offset="0.8511" stop-color="#3d56a7"/><stop offset="0.8617" stop-color="#3d56a7"/><stop offset="0.8723" stop-color="#3c56a6"/><stop offset="0.8830" stop-color="#3c56a6"/><stop offset="0.8936" stop-color="#3c55a6"/><stop offset="0.9043" stop-color="#3b54a5"/><stop offset="0.9149" stop-color="#3953a4"/><stop offset="0.9255" stop-color="#3953a4"/><stop offset="0.9362" stop-color="#3953a4"/><stop offset="0.9468" stop-color="#3953a4"/><stop offset="0.9574" stop-color="#3953a4"/><stop offset="0.9681" stop-color="#3953a4"/><stop offset="0.9787" stop-color="#3953a4"/><stop offset="0.9894" stop-color="#3953a4"/><stop offset="1.0000" stop-color="#3953a4"/></linearGradient>
<linearGradient id="rg11" x1="452" y1="0" x2="640" y2="0" gradientUnits="userSpaceOnUse"><stop offset="0.0000" stop-color="#3953a4"/><stop offset="0.0106" stop-color="#3953a4"/><stop offset="0.0213" stop-color="#3953a4"/><stop offset="0.0319" stop-color="#3953a4"/><stop offset="0.0426" stop-color="#3953a4"/><stop offset="0.0532" stop-color="#3953a4"/><stop offset="0.0638" stop-color="#3953a4"/><stop offset="0.0745" stop-color="#3953a4"/><stop offset="0.0851" stop-color="#3953a4"/><stop offset="0.0957" stop-color="#3953a4"/><stop offset="0.1064" stop-color="#3953a4"/><stop offset="0.1170" stop-color="#3953a4"/><stop offset="0.1277" stop-color="#3953a4"/><stop offset="0.1383" stop-color="#3953a4"/><stop offset="0.1489" stop-color="#3953a4"/><stop offset="0.1596" stop-color="#3953a4"/><stop offset="0.1702" stop-color="#3953a4"/><stop offset="0.1809" stop-color="#3953a4"/><stop offset="0.1915" stop-color="#3953a4"/><stop offset="0.2021" stop-color="#3953a4"/><stop offset="0.2128" stop-color="#3953a4"/><stop offset="0.2234" stop-color="#3953a4"/><stop offset="0.2340" stop-color="#3953a4"/><stop offset="0.2447" stop-color="#3953a4"/><stop offset="0.2553" stop-color="#3953a4"/><stop offset="0.2660" stop-color="#3953a4"/><stop offset="0.2766" stop-color="#3953a4"/><stop offset="0.2872" stop-color="#3953a4"/><stop offset="0.2979" stop-color="#3953a4"/><stop offset="0.3085" stop-color="#3953a4"/><stop offset="0.3191" stop-color="#3953a4"/><stop offset="0.3298" stop-color="#3953a4"/><stop offset="0.3404" stop-color="#3953a4"/><stop offset="0.3511" stop-color="#3953a4"/><stop offset="0.3617" stop-color="#3953a4"/><stop offset="0.3723" stop-color="#3953a4"/><stop offset="0.3830" stop-color="#3953a4"/><stop offset="0.3936" stop-color="#3953a4"/><stop offset="0.4043" stop-color="#3953a4"/><stop offset="0.4149" stop-color="#3953a4"/><stop offset="0.4255" stop-color="#3953a4"/><stop offset="0.4362" stop-color="#3953a4"/><stop offset="0.4468" stop-color="#3953a4"/><stop offset="0.4574" stop-color="#3953a4"/><stop offset="0.4681" stop-color="#3953a4"/><stop offset="0.4787" stop-color="#3953a4"/><stop offset="0.4894" stop-color="#3953a4"/><stop offset="0.5000" stop-color="#3953a4"/><stop offset="0.5106" stop-color="#3953a4"/><stop offset="0.5213" stop-color="#3953a4"/><stop offset="0.5319" stop-color="#3953a4"/><stop offset="0.5426" stop-color="#3953a4"/><stop offset="0.5532" stop-color="#3953a4"/><stop offset="0.5638" stop-color="#3953a4"/><stop offset="0.5745" stop-color="#3953a4"/><stop offset="0.5851" stop-color="#3953a4"/><stop offset="0.5957" stop-color="#3953a4"/><stop offset="0.6064" stop-color="#3953a4"/><stop offset="0.6170" stop-color="#3953a4"/><stop offset="0.6277" stop-color="#3a54a5"/><stop offset="0.6383" stop-color="#3a54a5"/><stop offset="0.6489" stop-color="#3b54a5"/><stop offset="0.6596" stop-color="#3b54a5"/><stop offset="0.6702" stop-color="#3b55a6"/><stop offset="0.6809" stop-color="#3c55a6"/><stop offset="0.6915" stop-color="#3c55a6"/><stop offset="0.7021" stop-color="#3c56a6"/><stop offset="0.7128" stop-color="#3d56a7"/><stop offset="0.7234" stop-color="#3d56a7"/><stop offset="0.7340" stop-color="#3d56a7"/><stop offset="0.7447" stop-color="#3d56a7"/><stop offset="0.7553" stop-color="#3d56a7"/><stop offset="0.7660" stop-color="#3d56a7"/><stop offset="0.7766" stop-color="#3d57a7"/><stop offset="0.7872" stop-color="#3d57a7"/><stop offset="0.7979" stop-color="#3d56a7"/><stop offset="0.8085" stop-color="#3d56a7"/><stop offset="0.8191" stop-color="#3d56a7"/><stop offset="0.8298" stop-color="#3d56a7"/><stop offset="0.8404" stop-color="#3c56a6"/><stop offset="0.8511" stop-color="#3c55a6"/><stop offset="0.8617" stop-color="#3b55a6"/><stop offset="0.8723" stop-color="#3a54a5"/><stop offset="0.8830" stop-color="#3a53a4"/><stop offset="0.8936" stop-color="#3953a4"/><stop offset="0.9043" stop-color="#3953a4"/><stop offset="0.9149" stop-color="#3953a4"/><stop offset="0.9255" stop-color="#3953a4"/><stop offset="0.9362" stop-color="#3953a4"/><stop offset="0.9468" stop-color="#3953a4"/><stop offset="0.9574" stop-color="#3953a4"/><stop offset="0.9681" stop-color="#3953a4"/><stop offset="0.9787" stop-color="#3953a4"/><stop offset="0.9894" stop-color="#3953a4"/><stop offset="1.0000" stop-color="#3953a4"/></linearGradient>
<linearGradient id="rg12" x1="452" y1="0" x2="640" y2="0" gradientUnits="userSpaceOnUse"><stop offset="0.0000" stop-color="#3953a4"/><stop offset="0.0106" stop-color="#3953a4"/><stop offset="0.0213" stop-color="#3953a4"/><stop offset="0.0319" stop-color="#3953a4"/><stop offset="0.0426" stop-color="#3953a4"/><stop offset="0.0532" stop-color="#3953a4"/><stop offset="0.0638" stop-color="#3953a4"/><stop offset="0.0745" stop-color="#3953a4"/><stop offset="0.0851" stop-color="#3953a4"/><stop offset="0.0957" stop-color="#3953a4"/><stop offset="0.1064" stop-color="#3953a4"/><stop offset="0.1170" stop-color="#3953a4"/><stop offset="0.1277" stop-color="#3953a4"/><stop offset="0.1383" stop-color="#3953a4"/><stop offset="0.1489" stop-color="#3953a4"/><stop offset="0.1596" stop-color="#3953a4"/><stop offset="0.1702" stop-color="#3953a4"/><stop offset="0.1809" stop-color="#3953a4"/><stop offset="0.1915" stop-color="#3953a4"/><stop offset="0.2021" stop-color="#3953a4"/><stop offset="0.2128" stop-color="#3953a4"/><stop offset="0.2234" stop-color="#3953a4"/><stop offset="0.2340" stop-color="#3953a4"/><stop offset="0.2447" stop-color="#3953a4"/><stop offset="0.2553" stop-color="#3953a4"/><stop offset="0.2660" stop-color="#3953a4"/><stop offset="0.2766" stop-color="#3953a4"/><stop offset="0.2872" stop-color="#3953a4"/><stop offset="0.2979" stop-color="#3953a4"/><stop offset="0.3085" stop-color="#3953a4"/><stop offset="0.3191" stop-color="#3953a4"/><stop offset="0.3298" stop-color="#3953a4"/><stop offset="0.3404" stop-color="#3953a4"/><stop offset="0.3511" stop-color="#3953a4"/><stop offset="0.3617" stop-color="#3953a4"/><stop offset="0.3723" stop-color="#3953a4"/><stop offset="0.3830" stop-color="#3953a4"/><stop offset="0.3936" stop-color="#3953a4"/><stop offset="0.4043" stop-color="#3953a4"/><stop offset="0.4149" stop-color="#3953a4"/><stop offset="0.4255" stop-color="#3953a4"/><stop offset="0.4362" stop-color="#3953a4"/><stop offset="0.4468" stop-color="#3953a4"/><stop offset="0.4574" stop-color="#3953a4"/><stop offset="0.4681" stop-color="#3953a4"/><stop offset="0.4787" stop-color="#3953a4"/><stop offset="0.4894" stop-color="#3953a4"/><stop offset="0.5000" stop-color="#3953a4"/><stop offset="0.5106" stop-color="#3953a4"/><stop offset="0.5213" stop-color="#3953a4"/><stop offset="0.5319" stop-color="#3953a4"/><stop offset="0.5426" stop-color="#3953a4"/><stop offset="0.5532" stop-color="#3953a4"/><stop offset="0.5638" stop-color="#3953a4"/><stop offset="0.5745" stop-color="#3953a4"/><stop offset="0.5851" stop-color="#3953a4"/><stop offset="0.5957" stop-color="#3953a4"/><stop offset="0.6064" stop-color="#3953a4"/><stop offset="0.6170" stop-color="#3953a4"/><stop offset="0.6277" stop-color="#3953a4"/><stop offset="0.6383" stop-color="#3953a4"/><stop offset="0.6489" stop-color="#3953a4"/><stop offset="0.6596" stop-color="#3a53a4"/><stop offset="0.6702" stop-color="#3a54a5"/><stop offset="0.6809" stop-color="#3a54a5"/><stop offset="0.6915" stop-color="#3b54a5"/><stop offset="0.7021" stop-color="#3b54a5"/><stop offset="0.7128" stop-color="#3b54a5"/><stop offset="0.7234" stop-color="#3b55a6"/><stop offset="0.7340" stop-color="#3c55a6"/><stop offset="0.7447" stop-color="#3c55a6"/><stop offset="0.7553" stop-color="#3c55a6"/><stop offset="0.7660" stop-color="#3c55a6"/><stop offset="0.7766" stop-color="#3c55a6"/><stop offset="0.7872" stop-color="#3c55a6"/><stop offset="0.7979" stop-color="#3c55a6"/><stop offset="0.8085" stop-color="#3c55a6"/><stop offset="0.8191" stop-color="#3b54a5"/><stop offset="0.8298" stop-color="#3b54a5"/><stop offset="0.8404" stop-color="#3a54a5"/><stop offset="0.8511" stop-color="#3a54a5"/><stop offset="0.8617" stop-color="#3953a4"/><stop offset="0.8723" stop-color="#3953a4"/><stop offset="0.8830" stop-color="#3953a4"/><stop offset="0.8936" stop-color="#3953a4"/><stop offset="0.9043" stop-color="#3953a4"/><stop offset="0.9149" stop-color="#3953a4"/><stop offset="0.9255" stop-color="#3953a4"/><stop offset="0.9362" stop-color="#3953a4"/><stop offset="0.9468" stop-color="#3953a4"/><stop offset="0.9574" stop-color="#3953a4"/><stop offset="0.9681" stop-color="#3953a4"/><stop offset="0.9787" stop-color="#3953a4"/><stop offset="0.9894" stop-color="#3953a4"/><stop offset="1.0000" stop-color="#3953a4"/></linearGradient>
<linearGradient id="rg13" x1="452" y1="0" x2="640" y2="0" gradientUnits="userSpaceOnUse"><stop offset="0.0000" stop-color="#3953a4"/><stop offset="0.0106" stop-color="#3953a4"/><stop offset="0.0213" stop-color="#3953a4"/><stop offset="0.0319" stop-color="#3953a4"/><stop offset="0.0426" stop-color="#3953a4"/><stop offset="0.0532" stop-color="#3953a4"/><stop offset="0.0638" stop-color="#3953a4"/><stop offset="0.0745" stop-color="#3953a4"/><stop offset="0.0851" stop-color="#3953a4"/><stop offset="0.0957" stop-color="#3953a4"/><stop offset="0.1064" stop-color="#3953a4"/><stop offset="0.1170" stop-color="#3953a4"/><stop offset="0.1277" stop-color="#3953a4"/><stop offset="0.1383" stop-color="#3953a4"/><stop offset="0.1489" stop-color="#3953a4"/><stop offset="0.1596" stop-color="#3953a4"/><stop offset="0.1702" stop-color="#3953a4"/><stop offset="0.1809" stop-color="#3953a4"/><stop offset="0.1915" stop-color="#3953a4"/><stop offset="0.2021" stop-color="#3953a4"/><stop offset="0.2128" stop-color="#3953a4"/><stop offset="0.2234" stop-color="#3953a4"/><stop offset="0.2340" stop-color="#3953a4"/><stop offset="0.2447" stop-color="#3953a4"/><stop offset="0.2553" stop-color="#3953a4"/><stop offset="0.2660" stop-color="#3953a4"/><stop offset="0.2766" stop-color="#3953a4"/><stop offset="0.2872" stop-color="#3953a4"/><stop offset="0.2979" stop-color="#3953a4"/><stop offset="0.3085" stop-color="#3953a4"/><stop offset="0.3191" stop-color="#3953a4"/><stop offset="0.3298" stop-color="#3953a4"/><stop offset="0.3404" stop-color="#3953a4"/><stop offset="0.3511" stop-color="#3953a4"/><stop offset="0.3617" stop-color="#3953a4"/><stop offset="0.3723" stop-color="#3953a4"/><stop offset="0.3830" stop-color="#3953a4"/><stop offset="0.3936" stop-color="#3953a4"/><stop offset="0.4043" stop-color="#3953a4"/><stop offset="0.4149" stop-color="#3953a4"/><stop offset="0.4255" stop-color="#3953a4"/><stop offset="0.4362" stop-color="#3953a4"/><stop offset="0.4468" stop-color="#3953a4"/><stop offset="0.4574" stop-color="#3953a4"/><stop offset="0.4681" stop-color="#3953a4"/><stop offset="0.4787" stop-color="#3953a4"/><stop offset="0.4894" stop-color="#3953a4"/><stop offset="0.5000" stop-color="#3953a4"/><stop offset="0.5106" stop-color="#3953a4"/><stop offset="0.5213" stop-color="#3953a4"/><stop offset="0.5319" stop-color="#3953a4"/><stop offset="0.5426" stop-color="#3953a4"/><stop offset="0.5532" stop-color="#3953a4"/><stop offset="0.5638" stop-color="#3953a4"/><stop offset="0.5745" stop-color="#3953a4"/><stop offset="0.5851" stop-color="#3953a4"/><stop offset="0.5957" stop-color="#3953a4"/><stop offset="0.6064" stop-color="#3953a4"/><stop offset="0.6170" stop-color="#3953a4"/><stop offset="0.6277" stop-color="#3953a4"/><stop offset="0.6383" stop-color="#3953a4"/><stop offset="0.6489" stop-color="#3953a4"/><stop offset="0.6596" stop-color="#3953a4"/><stop offset="0.6702" stop-color="#3953a4"/><stop offset="0.6809" stop-color="#3953a4"/><stop offset="0.6915" stop-color="#3953a4"/><stop offset="0.7021" stop-color="#3953a4"/><stop offset="0.7128" stop-color="#3953a4"/><stop offset="0.7234" stop-color="#3953a4"/><stop offset="0.7340" stop-color="#3953a4"/><stop offset="0.7447" stop-color="#3953a4"/><stop offset="0.7553" stop-color="#3953a4"/><stop offset="0.7660" stop-color="#3953a4"/><stop offset="0.7766" stop-color="#3953a4"/><stop offset="0.7872" stop-color="#3953a4"/><stop offset="0.7979" stop-color="#3953a4"/><stop offset="0.8085" stop-color="#3953a4"/><stop offset="0.8191" stop-color="#3953a4"/><stop offset="0.8298" stop-color="#3953a4"/><stop offset="0.8404" stop-color="#3953a4"/><stop offset="0.8511" stop-color="#3953a4"/><stop offset="0.8617" stop-color="#3953a4"/><stop offset="0.8723" stop-color="#3953a4"/><stop offset="0.8830" stop-color="#3953a4"/><stop offset="0.8936" stop-color="#3953a4"/><stop offset="0.9043" stop-color="#3953a4"/><stop offset="0.9149" stop-color="#3953a4"/><stop offset="0.9255" stop-color="#3953a4"/><stop offset="0.9362" stop-color="#3953a4"/><stop offset="0.9468" stop-color="#3953a4"/><stop offset="0.9574" stop-color="#3953a4"/><stop offset="0.9681" stop-color="#3953a4"/><stop offset="0.9787" stop-color="#3953a4"/><stop offset="0.9894" stop-color="#3953a4"/><stop offset="1.0000" stop-color="#3953a4"/></linearGradient>
<linearGradient id="rgh" x1="452" y1="0" x2="640" y2="0" gradientUnits="userSpaceOnUse"><stop offset="0.0000" stop-color="#3953a4"/><stop offset="0.0106" stop-color="#3a54a5"/><stop offset="0.0213" stop-color="#3c55a6"/><stop offset="0.0319" stop-color="#3e57a8"/><stop offset="0.0426" stop-color="#405ead"/><stop offset="0.0532" stop-color="#436db6"/><stop offset="0.0638" stop-color="#457bbf"/><stop offset="0.0745" stop-color="#4689c8"/><stop offset="0.0851" stop-color="#4697d1"/><stop offset="0.0957" stop-color="#44a0d7"/><stop offset="0.1064" stop-color="#41a8dc"/><stop offset="0.1170" stop-color="#3fb1e2"/><stop offset="0.1277" stop-color="#3eb9e8"/><stop offset="0.1383" stop-color="#3ebbea"/><stop offset="0.1489" stop-color="#3dbdeb"/><stop offset="0.1596" stop-color="#3dc0ed"/><stop offset="0.1702" stop-color="#3cc2ee"/><stop offset="0.1809" stop-color="#3cc4f0"/><stop offset="0.1915" stop-color="#3dc0ed"/><stop offset="0.2021" stop-color="#3dbcea"/><stop offset="0.2128" stop-color="#3eb8e7"/><stop offset="0.2234" stop-color="#3fb4e4"/><stop offset="0.2340" stop-color="#40b0e2"/><stop offset="0.2447" stop-color="#41abde"/><stop offset="0.2553" stop-color="#42a5da"/><stop offset="0.2660" stop-color="#449ed6"/><stop offset="0.2766" stop-color="#4698d2"/><stop offset="0.2872" stop-color="#4692ce"/><stop offset="0.2979" stop-color="#468cca"/><stop offset="0.3085" stop-color="#4685c6"/><stop offset="0.3191" stop-color="#467ec1"/><stop offset="0.3298" stop-color="#4578bd"/><stop offset="0.3404" stop-color="#4471b9"/><stop offset="0.3511" stop-color="#436ab5"/><stop offset="0.3617" stop-color="#4266b2"/><stop offset="0.3723" stop-color="#4164b1"/><stop offset="0.3830" stop-color="#4162b0"/><stop offset="0.3936" stop-color="#4060af"/><stop offset="0.4043" stop-color="#405fae"/><stop offset="0.4149" stop-color="#405ead"/><stop offset="0.4255" stop-color="#3f5dac"/><stop offset="0.4362" stop-color="#3f5cac"/><stop offset="0.4468" stop-color="#3f5cac"/><stop offset="0.4574" stop-color="#3f5dac"/><stop offset="0.4681" stop-color="#405ead"/><stop offset="0.4787" stop-color="#405fae"/><stop offset="0.4894" stop-color="#4161af"/><stop offset="0.5000" stop-color="#4163b1"/><stop offset="0.5106" stop-color="#4266b2"/><stop offset="0.5213" stop-color="#436ab5"/><stop offset="0.5319" stop-color="#4471b9"/><stop offset="0.5426" stop-color="#4578bd"/><stop offset="0.5532" stop-color="#467ec1"/><stop offset="0.5638" stop-color="#4685c6"/><stop offset="0.5745" stop-color="#468cca"/><stop offset="0.5851" stop-color="#4693cf"/><stop offset="0.5957" stop-color="#459bd4"/><stop offset="0.6064" stop-color="#43a2d9"/><stop offset="0.6170" stop-color="#41aade"/><stop offset="0.6277" stop-color="#3fb2e3"/><stop offset="0.6383" stop-color="#3eb9e8"/><stop offset="0.6489" stop-color="#3dbeec"/><stop offset="0.6596" stop-color="#3cc3ef"/><stop offset="0.6702" stop-color="#43c4ef"/><stop offset="0.6809" stop-color="#4cc5ee"/><stop offset="0.6915" stop-color="#52c6ec"/><stop offset="0.7021" stop-color="#56c7ea"/><stop offset="0.7128" stop-color="#59c8e8"/><stop offset="0.7234" stop-color="#5bc8e7"/><stop offset="0.7340" stop-color="#5dc9e5"/><stop offset="0.7447" stop-color="#5fc9e4"/><stop offset="0.7553" stop-color="#62cae3"/><stop offset="0.7660" stop-color="#64cae1"/><stop offset="0.7766" stop-color="#66cbe0"/><stop offset="0.7872" stop-color="#63cae2"/><stop offset="0.7979" stop-color="#60cae3"/><stop offset="0.8085" stop-color="#5ec9e5"/><stop offset="0.8191" stop-color="#5bc8e7"/><stop offset="0.8298" stop-color="#58c7e8"/><stop offset="0.8404" stop-color="#4fc5ee"/><stop offset="0.8511" stop-color="#3cc4f0"/><stop offset="0.8617" stop-color="#3eb9e8"/><stop offset="0.8723" stop-color="#40aee0"/><stop offset="0.8830" stop-color="#449dd6"/><stop offset="0.8936" stop-color="#468ecb"/><stop offset="0.9043" stop-color="#467fc2"/><stop offset="0.9149" stop-color="#446fb8"/><stop offset="0.9255" stop-color="#4163b0"/><stop offset="0.9362" stop-color="#3f5cab"/><stop offset="0.9468" stop-color="#3e58a8"/><stop offset="0.9574" stop-color="#3d56a7"/><stop offset="0.9681" stop-color="#3c55a6"/><stop offset="0.9787" stop-color="#3b54a5"/><stop offset="0.9894" stop-color="#3953a4"/><stop offset="1.0000" stop-color="#3953a4"/></linearGradient>
<clipPath id="cm"><rect x="85.00" y="951.20" width="862.40" height="800.10"/></clipPath>
<clipPath id="ci"><rect x="166.00" y="985.20" width="344.30" height="360.30"/></clipPath></defs>
<rect width="999" height="1888" fill="#fff"/>
<g><rect x="410" y="744.48" width="33" height="30.12" fill="url(#fg0)"/><rect x="443" y="714.76" width="8" height="59.84" fill="url(#fg1)"/><rect x="451" y="685.04" width="5" height="89.56" fill="url(#fg2)"/><rect x="456" y="655.32" width="4" height="119.28" fill="url(#fg3)"/><rect x="460" y="625.60" width="4" height="149.00" fill="url(#fg4)"/><rect x="464" y="595.88" width="5" height="178.72" fill="url(#fg5)"/><rect x="469" y="566.16" width="6" height="208.44" fill="url(#fg6)"/><rect x="475" y="536.44" width="4" height="238.16" fill="url(#fg7)"/><rect x="479" y="506.72" width="6" height="267.88" fill="url(#fg8)"/><rect x="485" y="477.00" width="7" height="297.60" fill="url(#fg9)"/><rect x="492" y="447.28" width="4" height="327.32" fill="url(#fg10)"/><rect x="496" y="417.56" width="5" height="357.04" fill="url(#fg11)"/><rect x="501" y="387.84" width="9" height="386.76" fill="url(#fg12)"/><rect x="510" y="358.12" width="5" height="416.48" fill="url(#fg13)"/><rect x="515" y="328.40" width="6" height="446.20" fill="url(#fg14)"/><rect x="521" y="298.68" width="3" height="475.92" fill="url(#fg15)"/><rect x="524" y="268.96" width="3" height="505.64" fill="url(#fg16)"/><rect x="527" y="239.24" width="9" height="535.36" fill="url(#fg17)"/><rect x="536" y="209.52" width="8" height="565.08" fill="url(#fg18)"/><rect x="544" y="179.80" width="7" height="594.80" fill="url(#fg19)"/><rect x="551" y="150.08" width="25" height="624.52" fill="url(#fg20)"/><rect x="576" y="120.36" width="13" height="654.24" fill="url(#fg21)"/><rect x="589" y="90.64" width="13" height="683.96" fill="url(#fg22)"/><rect x="602" y="120.36" width="15" height="654.24" fill="url(#fg21)"/><rect x="617" y="150.08" width="8" height="624.52" fill="url(#fg20)"/><rect x="625" y="179.80" width="4" height="594.80" fill="url(#fg19)"/><rect x="629" y="209.52" width="7" height="565.08" fill="url(#fg18)"/><rect x="636" y="239.24" width="10" height="535.36" fill="url(#fg17)"/><rect x="646" y="268.96" width="8" height="505.64" fill="url(#fg16)"/><rect x="654" y="298.68" width="2" height="475.92" fill="url(#fg15)"/><rect x="656" y="328.40" width="4" height="446.20" fill="url(#fg14)"/><rect x="660" y="358.12" width="1" height="416.48" fill="url(#fg13)"/><rect x="661" y="387.84" width="1" height="386.76" fill="url(#fg12)"/><rect x="662" y="417.56" width="2" height="357.04" fill="url(#fg11)"/><rect x="664" y="447.28" width="1" height="327.32" fill="url(#fg10)"/><rect x="665" y="477.00" width="2" height="297.60" fill="url(#fg9)"/><rect x="667" y="506.72" width="1" height="267.88" fill="url(#fg8)"/><rect x="668" y="536.44" width="2" height="238.16" fill="url(#fg7)"/><rect x="670" y="566.16" width="2" height="208.44" fill="url(#fg6)"/><rect x="672" y="595.88" width="2" height="178.72" fill="url(#fg5)"/><rect x="674" y="625.60" width="3" height="149.00" fill="url(#fg4)"/><rect x="677" y="655.32" width="5" height="119.28" fill="url(#fg3)"/><rect x="682" y="685.04" width="6" height="89.56" fill="url(#fg2)"/><rect x="688" y="714.76" width="11" height="59.84" fill="url(#fg1)"/><rect x="699" y="744.48" width="39" height="30.12" fill="url(#fg0)"/><rect x="109" y="120.60" width="5" height="137.40" fill="url(#fg23)"/><rect x="114" y="150.08" width="8" height="149.92" fill="url(#fg24)"/><rect x="122" y="120.36" width="18" height="179.64" fill="url(#fg25)"/><rect x="140" y="150.08" width="14" height="149.92" fill="url(#fg24)"/><rect x="154" y="179.80" width="3" height="120.20" fill="url(#fg26)"/><rect x="157" y="209.52" width="9" height="90.48" fill="url(#fg27)"/><rect x="166" y="239.24" width="4" height="60.76" fill="url(#fg28)"/><rect x="170" y="268.96" width="2" height="61.04" fill="url(#fg29)"/><rect x="172" y="298.68" width="2" height="61.32" fill="url(#fg30)"/><rect x="174" y="328.40" width="2" height="61.60" fill="url(#fg31)"/><polygon points="109.0,256.0 166.0,256.0 166.0,270.0 170.0,270.0 170.0,299.5 172.0,299.5 172.0,329.0 174.0,329.0 174.0,358.5 175.7,358.5 176.8,395.0 175.8,430.0 174.7,448.0 171.2,500.0 170.0,564.0 168.9,617.0 169.4,640.0 170.0,660.0 170.0,774.6 161.0,774.6 161.0,700.0 156.1,597.0 145.0,597.0 141.8,690.0 139.4,746.0 131.0,746.0 128.0,690.0 126.0,628.0 123.0,626.0 120.0,564.0 118.0,500.0 111.1,300.0 109.6,256.0" fill="#3953a4"/><line x1="124.5" y1="566" x2="124.2" y2="627" stroke="#fff" stroke-width="0.8" opacity="0.75"/><rect x="145" y="569.5" width="11.1" height="28" fill="url(#fw)"/><polygon points="131,745.5 139.4,745.5 138.6,774.6 132,774.6" fill="url(#fd)"/><rect x="170" y="655.32" width="5" height="119.28" fill="url(#fg32)"/><rect x="175" y="685.04" width="3" height="89.56" fill="url(#fg33)"/><rect x="178" y="685.04" width="6" height="89.56" fill="url(#fg33)"/><rect x="184" y="714.76" width="7" height="59.84" fill="url(#fg34)"/><rect x="154" y="744.48" width="5" height="30.12" fill="url(#fg35)"/><rect x="159" y="714.76" width="2" height="59.84" fill="url(#fg34)"/><rect x="177.6" y="686" width="0.9" height="52" fill="#fff" opacity="0.6"/><rect x="191" y="744.48" width="152" height="30.12" fill="url(#fg0)"/><rect x="191" y="745" width="130" height="29.6" fill="url(#st1)" mask="url(#mfade2)"/><rect x="452" y="754.60" width="188" height="20.00" fill="url(#rg0)"/><rect x="452" y="754.00" width="188" height="20.60" fill="url(#rgh)" mask="url(#mfade)"/><rect x="452" y="744.60" width="188" height="9.40" fill="url(#rgh)"/><rect x="452" y="744.00" width="188" height="10.00" fill="url(#rg1)" mask="url(#mfade)"/><rect x="502" y="715.60" width="138" height="28.40" fill="url(#rg1)"/><rect x="502" y="715.00" width="138" height="29.00" fill="url(#rg2)" mask="url(#mfade)"/><rect x="502" y="685.60" width="138" height="29.40" fill="url(#rg2)"/><rect x="502" y="685.00" width="138" height="30.00" fill="url(#rg3)" mask="url(#mfade)"/><rect x="502" y="655.60" width="138" height="29.40" fill="url(#rg3)"/><rect x="502" y="655.00" width="138" height="30.00" fill="url(#rg4)" mask="url(#mfade)"/><rect x="502" y="626.60" width="138" height="28.40" fill="url(#rg4)"/><rect x="502" y="626.00" width="138" height="29.00" fill="url(#rg5)" mask="url(#mfade)"/><rect x="502" y="596.60" width="138" height="29.40" fill="url(#rg5)"/><rect x="502" y="596.00" width="138" height="30.00" fill="url(#rg6)" mask="url(#mfade)"/><rect x="502" y="566.60" width="138" height="29.40" fill="url(#rg6)"/><rect x="502" y="566.00" width="138" height="30.00" fill="url(#rg7)" mask="url(#mfade)"/><rect x="502" y="536.60" width="138" height="29.40" fill="url(#rg7)"/><rect x="502" y="536.00" width="138" height="30.00" fill="url(#rg8)" mask="url(#mfade)"/><rect x="502" y="507.60" width="138" height="28.40" fill="url(#rg8)"/><rect x="502" y="507.00" width="138" height="29.00" fill="url(#rg9)" mask="url(#mfade)"/><rect x="502" y="477.60" width="138" height="29.40" fill="url(#rg9)"/><rect x="502" y="477.00" width="138" height="30.00" fill="url(#rg10)" mask="url(#mfade)"/><rect x="502" y="447.60" width="138" height="29.40" fill="url(#rg10)"/><rect x="502" y="447.00" width="138" height="30.00" fill="url(#rg11)" mask="url(#mfade)"/><rect x="502" y="418.60" width="138" height="28.40" fill="url(#rg11)"/><rect x="502" y="418.00" width="138" height="29.00" fill="url(#rg12)" mask="url(#mfade)"/></g>
<line x1="108" y1="775.3" x2="886" y2="775.3" stroke="#e4e4e4" stroke-width="1"/>
<path d="M108.30 775.20 L108.30 61.20 L884.90 61.20 L884.90 775.20" fill="none" stroke="#000" stroke-width="2.4" stroke-linejoin="miter"/><line x1="236.05" y1="61" x2="236.05" y2="68.5" stroke="#000" stroke-width="2"/><line x1="236.05" y1="775" x2="236.05" y2="767" stroke="#000" stroke-width="2"/><line x1="365.50" y1="61" x2="365.50" y2="68.5" stroke="#000" stroke-width="2"/><line x1="365.50" y1="775" x2="365.50" y2="767" stroke="#000" stroke-width="2"/><line x1="494.95" y1="61" x2="494.95" y2="68.5" stroke="#000" stroke-width="2"/><line x1="494.95" y1="775" x2="494.95" y2="767" stroke="#000" stroke-width="2"/><line x1="624.40" y1="61" x2="624.40" y2="68.5" stroke="#000" stroke-width="2"/><line x1="624.40" y1="775" x2="624.40" y2="767" stroke="#000" stroke-width="2"/><line x1="753.85" y1="61" x2="753.85" y2="68.5" stroke="#000" stroke-width="2"/><line x1="753.85" y1="775" x2="753.85" y2="767" stroke="#000" stroke-width="2"/><line x1="108.30" y1="702.85" x2="114.80" y2="702.85" stroke="#000" stroke-width="2"/><line x1="884.90" y1="702.85" x2="876.40" y2="702.85" stroke="#000" stroke-width="2"/><line x1="108.30" y1="631.50" x2="114.80" y2="631.50" stroke="#000" stroke-width="2"/><line x1="884.90" y1="631.50" x2="876.40" y2="631.50" stroke="#000" stroke-width="2"/><line x1="108.30" y1="560.15" x2="114.80" y2="560.15" stroke="#000" stroke-width="2"/><line x1="884.90" y1="560.15" x2="876.40" y2="560.15" stroke="#000" stroke-width="2"/><line x1="108.30" y1="488.80" x2="114.80" y2="488.80" stroke="#000" stroke-width="2"/><line x1="884.90" y1="488.80" x2="876.40" y2="488.80" stroke="#000" stroke-width="2"/><line x1="108.30" y1="417.45" x2="114.80" y2="417.45" stroke="#000" stroke-width="2"/><line x1="884.90" y1="417.45" x2="876.40" y2="417.45" stroke="#000" stroke-width="2"/><line x1="108.30" y1="346.10" x2="114.80" y2="346.10" stroke="#000" stroke-width="2"/><line x1="884.90" y1="346.10" x2="876.40" y2="346.10" stroke="#000" stroke-width="2"/><line x1="108.30" y1="274.75" x2="114.80" y2="274.75" stroke="#000" stroke-width="2"/><line x1="884.90" y1="274.75" x2="876.40" y2="274.75" stroke="#000" stroke-width="2"/><line x1="108.30" y1="203.40" x2="114.80" y2="203.40" stroke="#000" stroke-width="2"/><line x1="884.90" y1="203.40" x2="876.40" y2="203.40" stroke="#000" stroke-width="2"/><line x1="108.30" y1="132.05" x2="114.80" y2="132.05" stroke="#000" stroke-width="2"/><line x1="884.90" y1="132.05" x2="876.40" y2="132.05" stroke="#000" stroke-width="2"/><rect x="106" y="767" width="3" height="8.3" fill="#000"/><rect x="882.8" y="767" width="3" height="8.3" fill="#000"/><rect x="106.6" y="61" width="2.6" height="7" fill="#000"/><rect x="883" y="61" width="3" height="7" fill="#000"/>
<rect x="914.30" y="60.80" width="40.50" height="12.35" fill="#831618"/><rect x="914.30" y="71.95" width="40.50" height="12.35" fill="#931a1e"/><rect x="914.30" y="83.10" width="40.50" height="12.35" fill="#a31e22"/><rect x="914.30" y="94.25" width="40.50" height="12.35" fill="#b32025"/><rect x="914.30" y="105.41" width="40.50" height="12.35" fill="#c02127"/><rect x="914.30" y="116.56" width="40.50" height="12.35" fill="#cf2027"/><rect x="914.30" y="127.71" width="40.50" height="12.35" fill="#e01e26"/><rect x="914.30" y="138.86" width="40.50" height="12.35" fill="#ec1c24"/><rect x="914.30" y="150.01" width="40.50" height="12.35" fill="#ee2124"/><rect x="914.30" y="161.16" width="40.50" height="12.35" fill="#ee2724"/><rect x="914.30" y="172.32" width="40.50" height="12.35" fill="#ef3523"/><rect x="914.30" y="183.47" width="40.50" height="12.35" fill="#ef4223"/><rect x="914.30" y="194.62" width="40.50" height="12.35" fill="#f04e23"/><rect x="914.30" y="205.77" width="40.50" height="12.35" fill="#f25f22"/><rect x="914.30" y="216.92" width="40.50" height="12.35" fill="#f36c21"/><rect x="914.30" y="228.07" width="40.50" height="12.35" fill="#f47820"/><rect x="914.30" y="239.23" width="40.50" height="12.35" fill="#f6871f"/><rect x="914.30" y="250.38" width="40.50" height="12.35" fill="#f8951d"/><rect x="914.30" y="261.53" width="40.50" height="12.35" fill="#f99f1b"/><rect x="914.30" y="272.68" width="40.50" height="12.35" fill="#fbac17"/><rect x="914.30" y="283.83" width="40.50" height="12.35" fill="#fdba12"/><rect x="914.30" y="294.98" width="40.50" height="12.35" fill="#ffd101"/><rect x="914.30" y="306.13" width="40.50" height="12.35" fill="#ffe400"/><rect x="914.30" y="317.29" width="40.50" height="12.35" fill="#f9e912"/><rect x="914.30" y="328.44" width="40.50" height="12.35" fill="#f1e91f"/><rect x="914.30" y="339.59" width="40.50" height="12.35" fill="#e6e522"/><rect x="914.30" y="350.74" width="40.50" height="12.35" fill="#d8e028"/><rect x="914.30" y="361.89" width="40.50" height="12.35" fill="#cada2f"/><rect x="914.30" y="373.04" width="40.50" height="12.35" fill="#bfd736"/><rect x="914.30" y="384.20" width="40.50" height="12.35" fill="#b4d33e"/><rect x="914.30" y="395.35" width="40.50" height="12.35" fill="#aad050"/><rect x="914.30" y="406.50" width="40.50" height="12.35" fill="#9fcd61"/><rect x="914.30" y="417.65" width="40.50" height="12.35" fill="#97cb70"/><rect x="914.30" y="428.80" width="40.50" height="12.35" fill="#8eca7e"/><rect x="914.30" y="439.95" width="40.50" height="12.35" fill="#89c98b"/><rect x="914.30" y="451.10" width="40.50" height="12.35" fill="#83c898"/><rect x="914.30" y="462.26" width="40.50" height="12.35" fill="#7dc9a7"/><rect x="914.30" y="473.41" width="40.50" height="12.35" fill="#78c9b5"/><rect x="914.30" y="484.56" width="40.50" height="12.35" fill="#75cac1"/><rect x="914.30" y="495.71" width="40.50" height="12.35" fill="#71cbcc"/><rect x="914.30" y="506.86" width="40.50" height="12.35" fill="#6bcbd7"/><rect x="914.30" y="518.01" width="40.50" height="12.35" fill="#65cbe1"/><rect x="914.30" y="529.17" width="40.50" height="12.35" fill="#5bc8e7"/><rect x="914.30" y="540.32" width="40.50" height="12.35" fill="#52c6ec"/><rect x="914.30" y="551.47" width="40.50" height="12.35" fill="#41c4ef"/><rect x="914.30" y="562.62" width="40.50" height="12.35" fill="#3dbcea"/><rect x="914.30" y="573.77" width="40.50" height="12.35" fill="#40b1e2"/><rect x="914.30" y="584.92" width="40.50" height="12.35" fill="#42a5da"/><rect x="914.30" y="596.08" width="40.50" height="12.35" fill="#4599d3"/><rect x="914.30" y="607.23" width="40.50" height="12.35" fill="#468ecb"/><rect x="914.30" y="618.38" width="40.50" height="12.35" fill="#4683c4"/><rect x="914.30" y="629.53" width="40.50" height="12.35" fill="#4578bd"/><rect x="914.30" y="640.68" width="40.50" height="12.35" fill="#436eb7"/><rect x="914.30" y="651.83" width="40.50" height="12.35" fill="#4266b2"/><rect x="914.30" y="662.98" width="40.50" height="12.35" fill="#405fae"/><rect x="914.30" y="674.14" width="40.50" height="12.35" fill="#3f5cab"/><rect x="914.30" y="685.29" width="40.50" height="12.35" fill="#3e59a9"/><rect x="914.30" y="696.44" width="40.50" height="12.35" fill="#3d57a7"/><rect x="914.30" y="707.59" width="40.50" height="12.35" fill="#3d56a7"/><rect x="914.30" y="718.74" width="40.50" height="12.35" fill="#3c55a6"/><rect x="914.30" y="729.89" width="40.50" height="12.35" fill="#3a54a5"/><rect x="914.30" y="741.05" width="40.50" height="12.35" fill="#3953a4"/><rect x="914.30" y="752.20" width="40.50" height="2.40" fill="#3953a4"/><path d="M914.30 774.80 L914.30 60.80 L954.80 60.80 L954.80 774.80" fill="none" stroke="#000" stroke-width="1.1"/><line x1="914.30" y1="668.42" x2="920.80" y2="668.42" stroke="#000" stroke-width="1.1"/><line x1="954.80" y1="668.42" x2="946.80" y2="668.42" stroke="#000" stroke-width="1.1"/><line x1="914.30" y1="560.06" x2="920.80" y2="560.06" stroke="#000" stroke-width="1.1"/><line x1="954.80" y1="560.06" x2="946.80" y2="560.06" stroke="#000" stroke-width="1.1"/><line x1="914.30" y1="451.70" x2="920.80" y2="451.70" stroke="#000" stroke-width="1.1"/><line x1="954.80" y1="451.70" x2="946.80" y2="451.70" stroke="#000" stroke-width="1.1"/><line x1="914.30" y1="343.34" x2="920.80" y2="343.34" stroke="#000" stroke-width="1.1"/><line x1="954.80" y1="343.34" x2="946.80" y2="343.34" stroke="#000" stroke-width="1.1"/><line x1="914.30" y1="234.98" x2="920.80" y2="234.98" stroke="#000" stroke-width="1.1"/><line x1="954.80" y1="234.98" x2="946.80" y2="234.98" stroke="#000" stroke-width="1.1"/><line x1="914.30" y1="126.62" x2="920.80" y2="126.62" stroke="#000" stroke-width="1.1"/><line x1="954.80" y1="126.62" x2="946.80" y2="126.62" stroke="#000" stroke-width="1.1"/>
<rect x="85.00" y="951.20" width="861.40" height="800.10" fill="none" stroke="#000" stroke-width="2.5"/><line x1="228.37" y1="1751.30" x2="228.37" y2="1742.30" stroke="#000" stroke-width="2.2"/><line x1="228.37" y1="951.20" x2="228.37" y2="960.20" stroke="#000" stroke-width="2.2"/><line x1="371.94" y1="1751.30" x2="371.94" y2="1742.30" stroke="#000" stroke-width="2.2"/><line x1="371.94" y1="951.20" x2="371.94" y2="960.20" stroke="#000" stroke-width="2.2"/><line x1="515.51" y1="1751.30" x2="515.51" y2="1742.30" stroke="#000" stroke-width="2.2"/><line x1="515.51" y1="951.20" x2="515.51" y2="960.20" stroke="#000" stroke-width="2.2"/><line x1="659.08" y1="1751.30" x2="659.08" y2="1742.30" stroke="#000" stroke-width="2.2"/><line x1="659.08" y1="951.20" x2="659.08" y2="960.20" stroke="#000" stroke-width="2.2"/><line x1="802.65" y1="1751.30" x2="802.65" y2="1742.30" stroke="#000" stroke-width="2.2"/><line x1="802.65" y1="951.20" x2="802.65" y2="960.20" stroke="#000" stroke-width="2.2"/><line x1="85.00" y1="1597.42" x2="94.00" y2="1597.42" stroke="#000" stroke-width="2.2"/><line x1="946.40" y1="1597.42" x2="937.40" y2="1597.42" stroke="#000" stroke-width="2.2"/><line x1="85.00" y1="1443.55" x2="94.00" y2="1443.55" stroke="#000" stroke-width="2.2"/><line x1="946.40" y1="1443.55" x2="937.40" y2="1443.55" stroke="#000" stroke-width="2.2"/><line x1="85.00" y1="1289.67" x2="94.00" y2="1289.67" stroke="#000" stroke-width="2.2"/><line x1="946.40" y1="1289.67" x2="937.40" y2="1289.67" stroke="#000" stroke-width="2.2"/><line x1="85.00" y1="1135.80" x2="94.00" y2="1135.80" stroke="#000" stroke-width="2.2"/><line x1="946.40" y1="1135.80" x2="937.40" y2="1135.80" stroke="#000" stroke-width="2.2"/><line x1="85.00" y1="981.92" x2="94.00" y2="981.92" stroke="#000" stroke-width="2.2"/><line x1="946.40" y1="981.92" x2="937.40" y2="981.92" stroke="#000" stroke-width="2.2"/><g clip-path="url(#cm)"><path d="M86.01 1679.70L87.97 1680.05L90.68 1680.79L92.76 1679.85L93.34 1677.90L93.59 1674.94L93.66 1672.02L93.69 1669.39L93.81 1667.44L95.02 1669.21L95.17 1671.09L95.27 1673.78L95.35 1676.74L95.47 1679.78L95.63 1682.52L95.80 1685.12L96.00 1687.77L96.22 1690.36L96.50 1693.25L96.82 1696.06L97.27 1697.36L99.52 1696.93L101.77 1697.92L103.23 1695.51L104.77 1693.11L105.78 1691.03L106.78 1688.69L107.78 1685.62L108.38 1683.77L108.98 1681.58L109.58 1679.32L110.18 1676.59L110.78 1673.71L111.16 1671.70L111.56 1669.86L111.95 1667.72L112.35 1665.50L112.73 1663.27L113.11 1660.77L113.46 1658.24L113.78 1655.81L114.00 1653.76L114.21 1651.57L114.40 1649.42L114.59 1647.18L114.77 1644.92L114.94 1642.43L115.10 1640.05L115.26 1637.67L115.42 1635.13L115.58 1632.60L115.74 1630.29L115.87 1628.00L115.99 1625.73L116.12 1623.39L116.24 1620.80L116.36 1618.49L116.48 1615.91L116.59 1613.45L116.70 1611.14L116.81 1608.56L116.92 1606.45L117.03 1603.96L117.13 1601.98L117.24 1600.09L117.40 1597.27L117.56 1594.37L117.70 1591.76L117.85 1589.29L117.99 1587.09L118.13 1585.31L118.28 1583.57L118.44 1582.11L119.79 1579.81L120.16 1581.81L120.49 1584.68L120.84 1588.23L121.07 1590.44L121.30 1592.76L121.53 1595.22L121.78 1597.66L122.04 1600.01L122.36 1602.75L122.68 1605.41L123.06 1608.03L123.54 1610.75L124.19 1613.31L124.95 1616.07L125.76 1618.69L126.55 1621.04L127.28 1623.46L128.00 1626.01L128.75 1628.19L129.55 1630.48L131.33 1632.56L133.30 1634.98L134.78 1636.92L136.33 1638.76L137.81 1641.00L139.68 1643.15L141.56 1645.12L143.77 1646.73L146.07 1647.02L148.22 1648.19L150.57 1649.72L153.48 1650.92L156.58 1652.26L159.58 1653.32L162.58 1654.43L164.53 1655.67L166.48 1657.16L168.59 1658.30L170.98 1659.02L173.54 1659.34L176.10 1660.08L178.54 1660.86L180.99 1661.53L183.60 1662.56L185.79 1663.09L188.11 1663.83L190.43 1664.77L192.61 1665.20L195.34 1665.57L197.90 1666.40L200.12 1666.77L202.37 1667.56L204.62 1667.95L206.96 1668.35L209.63 1669.27L212.13 1670.03L215.23 1670.87L218.14 1671.97L220.99 1672.51L224.14 1673.59L226.61 1674.08L229.33 1675.74L232.51 1676.56L234.75 1677.09L237.22 1678.09L239.82 1678.57L242.46 1679.24L245.03 1680.10L247.53 1680.84L250.03 1681.35L252.53 1681.16L255.04 1682.39L257.54 1682.77L260.04 1682.63L262.54 1683.97L265.05 1684.14L267.55 1685.04L270.05 1685.20L272.63 1685.65L275.30 1686.43L277.92 1686.98L280.38 1687.61L282.56 1687.84L285.53 1688.20L287.94 1688.02L290.07 1688.59L292.89 1689.55L295.08 1689.36L297.58 1688.87L300.08 1691.08L301.58 1690.58L303.50 1691.40L305.73 1691.53L308.19 1692.85L310.76 1692.58L313.33 1693.04L315.82 1693.76L318.11 1694.71L320.10 1694.18L323.16 1694.50L325.89 1695.29L328.33 1694.77L330.55 1694.75L332.61 1694.59L335.39 1695.37L337.62 1695.48L340.12 1695.88L342.45 1696.20L344.97 1696.76L347.57 1696.87L350.13 1697.59L352.63 1697.60L355.14 1698.30L357.64 1699.05L360.14 1699.57L362.64 1699.61L365.15 1700.55L367.65 1700.87L370.15 1701.57L372.77 1701.96L375.47 1701.73L378.01 1702.66L380.16 1702.25L382.82 1703.34L385.17 1703.54L387.57 1703.70L390.26 1702.51L392.67 1702.60L395.18 1703.42L397.68 1704.37L400.09 1705.22L402.78 1704.47L405.19 1705.38L407.92 1705.63L410.19 1706.75L412.15 1708.38L413.94 1711.23L415.74 1713.92L417.70 1714.63L419.97 1716.18L422.70 1717.21L425.02 1717.09L427.62 1716.49L430.21 1715.87L432.91 1716.60L435.60 1715.64L437.72 1715.45L440.00 1715.15L442.77 1714.49L446.01 1713.92L449.01 1713.42L452.01 1713.52L455.02 1712.76L458.02 1712.63L461.02 1712.72L464.02 1711.32L467.03 1711.26L470.03 1709.30L473.03 1708.86L476.04 1707.37L478.04 1705.47L480.04 1704.07L482.04 1703.41L484.04 1701.59L486.05 1701.36L488.05 1700.58L491.05 1698.91L494.05 1697.36L496.06 1696.31L498.06 1695.91L500.06 1694.31L503.19 1693.53L506.07 1692.56L508.26 1691.62L510.07 1689.72L511.63 1687.95L513.07 1686.92L516.08 1688.24L518.89 1687.15L522.08 1686.73L525.21 1685.74L528.09 1684.87L530.24 1683.53L532.09 1682.55L533.93 1681.23L535.70 1679.54L539.10 1679.79L541.50 1679.16L544.10 1678.66L546.61 1678.67L549.11 1678.29L551.67 1677.84L554.11 1676.79L556.27 1675.75L558.12 1673.80L559.52 1671.17L560.72 1668.80L563.12 1670.64L566.13 1673.16L570.13 1673.25L572.13 1674.95L572.81 1672.61L573.57 1669.93L574.36 1666.68L575.14 1663.98L576.10 1660.88L577.06 1658.20L578.14 1655.82L582.14 1656.37L583.74 1660.16L584.10 1662.02L584.44 1664.32L584.79 1666.86L585.15 1669.11L585.95 1673.20L586.75 1674.70L587.04 1674.38L587.31 1672.46L587.58 1670.31L587.86 1667.40L588.15 1664.19L588.30 1662.35L588.46 1660.19L588.62 1657.48L588.78 1655.24L588.95 1652.59L589.11 1649.87L589.28 1647.05L589.44 1644.69L589.60 1642.12L589.75 1640.07L589.96 1637.13L590.16 1634.06L590.35 1631.42L590.55 1628.63L590.74 1626.40L590.94 1624.36L591.15 1622.95L592.75 1623.57L593.43 1625.18L594.21 1627.70L595.16 1630.23L596.37 1632.86L597.77 1635.19L599.16 1637.34L600.53 1639.00L601.90 1641.49L603.16 1643.53L606.17 1645.92L607.67 1644.41L609.17 1642.24L609.94 1640.00L610.73 1637.06L611.49 1634.41L612.17 1632.10L613.17 1629.23L614.17 1628.21L617.18 1628.36L619.78 1625.31L620.00 1625.71L620.98 1627.53L622.38 1630.67L624.00 1632.73L625.08 1634.59L626.26 1636.48L627.51 1638.62L628.78 1641.50L630.01 1643.04L631.53 1644.88L633.08 1647.27L634.58 1649.52L636.02 1650.75L637.85 1653.97L639.57 1656.50L641.02 1657.53L643.62 1657.49L644.36 1655.92L645.03 1653.19L645.63 1651.01L647.03 1648.48L649.03 1651.63L651.03 1647.85L653.03 1646.39L655.04 1647.51L655.61 1645.67L656.13 1643.14L656.64 1640.05L656.92 1637.81L657.18 1634.91L657.44 1631.87L657.72 1629.00L658.04 1627.10L660.04 1623.79L660.70 1625.55L661.44 1629.21L661.93 1631.10L662.45 1633.35L663.13 1635.66L664.04 1638.25L665.00 1640.04L666.11 1642.23L667.34 1643.93L668.67 1645.84L670.05 1648.53L671.52 1650.48L673.11 1652.11L674.76 1653.58L676.42 1655.60L678.06 1657.02L680.01 1658.71L681.94 1660.32L683.92 1662.33L686.07 1664.39L687.94 1665.17L689.93 1667.77L691.98 1668.72L694.04 1670.55L696.08 1672.45L698.08 1673.38L700.08 1675.47L702.08 1676.50L704.08 1678.23L706.09 1679.47L708.06 1680.05L709.99 1681.55L711.95 1682.14L713.97 1683.34L716.10 1684.19L718.37 1685.35L720.76 1686.58L723.21 1688.02L725.67 1688.76L728.11 1689.33L730.51 1690.72L732.91 1691.68L735.32 1692.55L737.72 1692.81L740.12 1694.30L742.52 1694.98L744.92 1695.39L747.33 1696.97L749.73 1697.78L752.13 1698.14L754.53 1699.06L756.94 1699.75L759.34 1699.83L761.74 1701.25L764.14 1701.55L766.55 1702.39L768.95 1702.98L771.35 1702.70L773.75 1703.67L776.16 1703.96L778.56 1703.66L780.97 1704.66L783.38 1704.63L785.78 1705.01L788.17 1705.67L790.58 1705.65L793.02 1706.46L795.44 1706.60L797.78 1706.72L800.00 1707.04L802.56 1707.57L804.94 1707.93L807.26 1709.27L809.61 1709.51L811.94 1709.72L814.21 1710.52L816.59 1710.64L819.22 1711.63L821.52 1711.78L823.96 1711.64L826.52 1712.26L829.21 1712.81L832.03 1713.11L834.15 1712.62L836.37 1713.19L838.67 1713.58L841.01 1713.94L843.38 1713.73L845.73 1713.26L848.05 1713.43L850.31 1714.09L852.53 1714.02L854.74 1714.13L856.97 1714.47L859.25 1713.90L861.61 1714.68L864.06 1714.97L866.27 1715.06L868.49 1714.61L870.75 1714.40L873.07 1715.29L875.46 1715.54L877.95 1714.88L880.55 1715.50L883.28 1715.17L885.39 1715.59L887.64 1715.15L889.98 1715.88L892.40 1715.50L894.86 1715.70L897.33 1716.25L899.79 1715.81L902.20 1716.24L904.55 1716.65L906.79 1716.36L908.90 1716.65L911.63 1716.73L914.22 1716.96L916.69 1716.36L919.06 1717.19L921.37 1716.98L923.64 1716.67L925.88 1717.53L928.12 1717.47L930.80 1716.94L933.59 1717.68L936.38 1717.80L939.03 1717.46L941.43 1718.30L943.44 1718.17L944.94 1718.01" fill="none" stroke="#000" stroke-width="2.2" stroke-linejoin="round" stroke-linecap="round"/><path d="M86.76 1679.70C86.88 1676.45 87.26 1667.19 87.51 1660.18C87.76 1653.17 88.01 1644.66 88.26 1637.66C88.51 1630.65 88.68 1622.52 89.01 1618.14C89.33 1613.76 89.76 1611.88 90.21 1611.38C90.66 1610.88 91.29 1613.26 91.71 1615.14C92.14 1617.01 92.34 1619.89 92.76 1622.64C93.19 1625.40 93.69 1629.32 94.26 1631.65C94.84 1633.98 95.47 1635.73 96.22 1636.61C96.97 1637.48 97.97 1637.98 98.77 1636.91C99.57 1635.83 100.40 1633.28 101.02 1630.15C101.65 1627.02 102.02 1620.89 102.52 1618.14C103.02 1615.39 103.40 1614.51 104.02 1613.63C104.65 1612.76 105.40 1612.63 106.28 1612.88C107.15 1613.13 107.90 1613.88 109.28 1615.14C110.66 1616.39 112.66 1618.76 114.53 1620.39C116.41 1622.02 118.54 1623.57 120.54 1624.89C122.54 1626.22 124.92 1627.97 126.55 1628.35C128.17 1628.72 129.17 1627.47 130.30 1627.15C131.43 1626.82 132.43 1626.15 133.30 1626.40C134.18 1626.65 134.80 1627.65 135.56 1628.65C136.31 1629.65 136.93 1631.45 137.81 1632.40C138.68 1633.35 139.43 1633.98 140.81 1634.35C142.19 1634.73 144.19 1634.48 146.07 1634.65C147.94 1634.83 150.32 1634.90 152.07 1635.41C153.82 1635.91 155.20 1636.41 156.58 1637.66C157.95 1638.91 159.20 1641.16 160.33 1642.91C161.46 1644.66 162.21 1646.54 163.33 1648.17C164.46 1649.79 165.46 1651.30 167.09 1652.67C168.71 1654.05 171.09 1655.30 173.09 1656.43C175.10 1657.55 176.60 1658.35 179.10 1659.43C181.60 1660.51 185.11 1661.81 188.11 1662.88C191.11 1663.96 194.36 1665.04 197.12 1665.89C199.87 1666.74 202.12 1667.39 204.62 1667.99C207.13 1668.59 209.88 1668.91 212.13 1669.49C214.38 1670.07 216.14 1670.74 218.14 1671.44C220.14 1672.14 221.75 1672.88 224.14 1673.69C226.54 1674.51 229.03 1675.26 232.51 1676.33C235.99 1677.39 240.85 1679.04 245.03 1680.08C249.20 1681.12 253.37 1681.75 257.54 1682.58C261.71 1683.42 265.88 1684.25 270.05 1685.09C274.22 1685.92 278.39 1686.67 282.56 1687.59C286.73 1688.51 290.90 1689.67 295.08 1690.59C299.25 1691.51 303.42 1692.34 307.59 1693.09C311.76 1693.84 315.93 1694.43 320.10 1695.10C324.27 1695.76 328.44 1696.47 332.61 1697.10C336.78 1697.72 340.95 1698.26 345.13 1698.85C349.30 1699.43 353.47 1699.89 357.64 1700.60C361.81 1701.31 365.98 1702.14 370.15 1703.10C374.32 1704.06 378.49 1705.40 382.66 1706.36C386.83 1707.32 391.00 1708.11 395.18 1708.86C399.35 1709.61 403.52 1710.32 407.69 1710.86C411.86 1711.40 416.03 1711.90 420.20 1712.11C424.37 1712.32 429.38 1712.24 432.71 1712.11C436.05 1711.99 439.01 1711.35 440.22 1711.36C441.43 1711.37 438.37 1712.52 440.00 1712.15C441.63 1711.78 446.67 1710.15 450.01 1709.15C453.35 1708.15 456.68 1707.48 460.02 1706.15C463.36 1704.81 466.69 1702.64 470.03 1701.14C473.37 1699.64 476.70 1698.64 480.04 1697.14C483.38 1695.64 486.71 1693.63 490.05 1692.13C493.39 1690.63 496.72 1689.63 500.06 1688.13C503.40 1686.63 506.73 1684.96 510.07 1683.12C513.41 1681.29 516.74 1678.79 520.08 1677.12C523.42 1675.45 526.75 1674.95 530.09 1673.11C533.43 1671.28 537.10 1668.61 540.10 1666.11C543.10 1663.60 545.77 1660.43 548.11 1658.10C550.44 1655.76 552.11 1653.59 554.11 1652.09C556.12 1650.59 557.78 1650.59 560.12 1649.09C562.46 1647.59 565.46 1645.59 568.13 1643.08C570.80 1640.58 573.47 1636.58 576.14 1634.07C578.81 1631.57 581.47 1629.57 584.14 1628.07C586.81 1626.57 589.48 1625.67 592.15 1625.07C594.82 1624.46 597.82 1624.96 600.16 1624.46C602.50 1623.96 604.16 1623.13 606.17 1622.06C608.17 1620.99 610.34 1619.56 612.17 1618.06C614.01 1616.56 615.87 1613.99 617.18 1613.05C618.48 1612.12 618.19 1612.62 620.00 1612.45C621.81 1612.29 625.84 1611.62 628.01 1612.05C630.18 1612.49 631.34 1613.89 633.01 1615.06C634.68 1616.22 635.85 1617.72 638.02 1619.06C640.19 1620.39 643.52 1621.83 646.03 1623.06C648.53 1624.30 651.03 1625.13 653.03 1626.47C655.04 1627.80 656.37 1629.30 658.04 1631.07C659.71 1632.84 661.04 1635.24 663.04 1637.08C665.05 1638.91 667.55 1640.58 670.05 1642.08C672.55 1643.58 675.06 1644.58 678.06 1646.09C681.06 1647.59 685.07 1649.09 688.07 1651.09C691.07 1653.09 693.74 1655.60 696.08 1658.10C698.41 1660.60 700.08 1663.60 702.08 1666.11C704.08 1668.61 705.75 1670.94 708.09 1673.11C710.42 1675.28 713.43 1677.28 716.10 1679.12C718.77 1680.95 721.10 1682.46 724.10 1684.12C727.11 1685.79 730.78 1687.63 734.11 1689.13C737.45 1690.63 740.45 1691.80 744.12 1693.13C747.79 1694.47 752.13 1695.90 756.14 1697.14C760.14 1698.37 764.14 1699.54 768.15 1700.54C772.15 1701.54 776.16 1702.31 780.16 1703.14C784.16 1703.98 788.87 1704.99 792.17 1705.55C795.48 1706.10 797.09 1705.93 800.00 1706.48C802.91 1707.04 806.41 1708.14 809.61 1708.89C812.81 1709.63 815.48 1710.35 819.22 1710.97C822.96 1711.58 827.23 1712.14 832.03 1712.57C836.84 1713.00 842.71 1713.26 848.05 1713.53C853.38 1713.80 858.19 1713.90 864.06 1714.17C869.93 1714.44 875.81 1714.78 883.28 1715.13C890.75 1715.48 901.43 1715.93 908.90 1716.25C916.38 1716.57 922.12 1716.76 928.12 1717.05C934.13 1717.35 942.14 1717.85 944.94 1718.01" fill="none" stroke="#0b8140" stroke-width="2.2" stroke-linejoin="round" stroke-linecap="round"/><path d="M85.26 1673.69L85.62 1671.70L86.15 1669.07L86.76 1666.12L87.48 1662.77L88.29 1659.47L89.01 1657.90L89.44 1659.12L89.83 1661.86L90.17 1665.07L90.51 1667.77L90.94 1671.16L91.33 1674.48L91.71 1675.16L91.89 1674.18L92.06 1672.42L92.22 1669.96L92.38 1667.17L92.56 1663.79L92.76 1660.16L92.86 1658.47L92.97 1656.30L93.08 1654.22L93.19 1652.08L93.31 1649.68L93.43 1647.23L93.55 1644.87L93.67 1642.39L93.79 1639.83L93.91 1637.28L94.03 1635.01L94.15 1632.54L94.26 1630.19L94.38 1627.87L94.49 1625.60L94.60 1623.09L94.70 1620.74L94.81 1618.45L94.91 1616.11L95.02 1613.86L95.13 1611.44L95.25 1609.16L95.37 1606.76L95.49 1604.60L95.63 1602.30L95.77 1600.03L95.93 1597.80L96.09 1595.33L96.27 1592.93L96.44 1590.64L96.63 1588.25L96.82 1585.82L97.01 1583.65L97.21 1581.27L97.41 1579.20L97.61 1577.12L97.81 1575.12L98.02 1572.99L98.34 1570.33L98.68 1567.43L99.04 1564.71L99.40 1562.33L99.75 1559.92L100.10 1557.92L100.42 1556.27L100.72 1555.00L102.52 1557.16L102.70 1555.98L102.82 1554.19L102.92 1551.92L103.01 1549.21L103.12 1546.24L103.27 1543.11L103.39 1541.06L103.52 1538.78L103.65 1536.31L103.80 1533.76L103.95 1531.14L104.11 1528.34L104.27 1525.91L104.43 1523.45L104.60 1520.99L104.77 1519.08L105.07 1515.86L105.39 1512.85L105.71 1510.15L106.05 1507.84L106.39 1506.05L106.73 1504.77L108.83 1507.49L109.21 1509.48L109.57 1511.30L109.93 1513.61L110.33 1516.30L110.78 1519.10L111.10 1520.95L111.44 1523.10L111.80 1525.22L112.17 1527.62L112.56 1529.95L112.96 1532.34L113.37 1534.67L113.78 1536.97L114.21 1539.31L114.63 1541.46L115.07 1543.89L115.52 1546.16L115.99 1548.29L116.48 1550.59L116.99 1552.89L117.54 1554.98L118.12 1557.26L118.75 1559.56L119.40 1561.85L120.07 1564.20L120.76 1566.41L121.44 1568.63L122.13 1570.82L122.79 1573.04L123.46 1575.52L124.14 1578.03L124.83 1580.65L125.51 1583.18L126.19 1585.47L126.84 1587.63L127.46 1589.40L128.05 1590.75L131.80 1590.29L134.05 1590.29L136.31 1589.22L138.28 1587.87L140.06 1586.31L143.06 1588.21L144.08 1589.77L145.22 1592.08L146.41 1594.49L147.57 1597.20L148.47 1599.06L149.37 1601.22L150.27 1603.40L151.17 1605.55L152.07 1607.54L153.20 1610.14L154.32 1612.69L155.45 1614.92L156.58 1617.45L157.74 1619.79L158.92 1621.98L160.06 1624.11L161.08 1626.43L162.22 1628.39L163.19 1630.50L164.08 1633.05L164.58 1635.22L165.04 1637.51L165.47 1640.07L165.90 1642.58L166.34 1645.23L166.77 1647.51L167.20 1650.14L167.63 1652.56L168.09 1654.87L168.59 1657.18L169.29 1660.12L170.04 1662.73L170.82 1665.33L171.59 1667.71L172.56 1670.17L173.54 1671.89L174.59 1673.61L176.33 1675.31L178.35 1676.51L180.93 1676.63L183.60 1676.69L185.90 1675.55L188.11 1675.08L190.27 1674.60L192.61 1674.28L195.52 1673.51L198.62 1673.17L201.62 1672.29L204.62 1671.46L207.77 1670.40L210.63 1669.15L214.38 1668.24L218.14 1670.67L219.98 1672.20L222.07 1673.23L224.14 1674.16L226.83 1674.51L230.01 1675.29L231.75 1675.86L233.72 1676.93L235.82 1677.78L237.95 1678.92L240.02 1679.84L242.02 1681.00L244.02 1682.33L246.03 1683.60L248.03 1684.24L250.03 1685.06L252.53 1685.00L255.04 1685.32L257.54 1684.92L260.04 1684.41L262.48 1684.69L264.89 1684.99L267.37 1685.46L270.05 1686.10L272.39 1686.85L274.87 1687.51L277.44 1688.81L280.02 1689.30L282.56 1689.93L285.07 1690.70L287.57 1691.05L290.07 1691.89L292.57 1692.43L295.08 1693.12L297.58 1693.54L300.08 1694.51L302.58 1695.10L305.09 1695.57L307.59 1696.16L310.13 1697.10L312.71 1697.44L315.28 1698.21L317.76 1699.04L320.10 1699.42L322.78 1700.53L325.26 1700.90L327.67 1701.42L330.11 1702.22L332.61 1702.81L335.12 1704.36L337.62 1705.17L340.12 1706.39L342.62 1707.08L345.13 1708.51L347.63 1709.41L350.13 1709.84L352.63 1711.21L355.14 1712.32L357.64 1712.80L360.14 1713.92L362.64 1714.40L365.15 1714.98L367.65 1715.80L370.15 1716.56L372.77 1717.19L375.47 1718.23L378.01 1719.15L380.16 1719.90L382.66 1720.90L385.17 1721.31L387.37 1721.34L390.01 1721.68L392.73 1722.10L395.18 1722.09L397.77 1722.16L400.09 1722.41L402.68 1722.40L405.07 1722.34L407.69 1722.70L410.31 1722.07L412.69 1722.12L415.29 1721.05L417.61 1720.30L420.20 1719.82L422.59 1719.04L425.21 1718.38L427.83 1717.58L430.21 1717.09L433.09 1716.22L435.69 1715.11L437.72 1713.59L440.00 1711.86L441.20 1711.21L442.69 1709.23L444.39 1707.68L446.19 1705.72L448.01 1704.27L449.88 1702.70L451.87 1700.87L453.92 1699.83L455.98 1698.26L458.02 1696.13L459.45 1694.87L460.88 1693.01L462.31 1691.53L463.74 1689.25L465.17 1687.88L466.60 1685.68L468.03 1683.88L469.46 1682.60L470.89 1680.74L472.32 1678.92L473.75 1677.39L475.18 1675.73L476.61 1673.73L478.04 1672.34L479.47 1670.24L480.90 1669.01L482.33 1667.14L483.76 1665.59L485.19 1663.82L486.62 1662.10L488.05 1659.98L489.48 1658.29L490.91 1656.60L492.34 1654.25L493.77 1652.92L495.20 1650.66L496.63 1648.91L498.06 1647.37L499.51 1645.30L500.98 1643.76L502.45 1642.11L503.92 1639.98L505.35 1638.55L506.74 1636.55L508.07 1634.89L509.54 1633.01L510.96 1630.43L512.32 1628.71L513.63 1626.30L514.88 1624.29L516.08 1622.16L517.41 1619.85L518.62 1617.55L519.78 1615.41L520.91 1613.65L522.08 1611.98L524.08 1609.86L526.09 1607.90L528.09 1605.99L529.31 1604.24L530.54 1602.71L531.76 1600.42L532.96 1598.59L534.09 1596.12L535.00 1593.79L535.87 1591.43L536.72 1588.85L537.54 1586.44L538.33 1584.10L539.10 1581.94L540.19 1579.91L541.23 1577.66L542.20 1576.03L543.10 1574.02L543.94 1571.82L544.71 1569.64L545.42 1567.00L546.11 1563.98L546.42 1562.22L546.71 1560.12L546.98 1557.80L547.25 1555.46L547.52 1552.97L547.81 1550.61L548.12 1548.26L548.47 1546.28L548.98 1543.46L549.53 1540.94L550.12 1538.47L550.74 1535.98L551.39 1533.80L552.07 1531.73L553.16 1529.15L554.32 1526.90L555.56 1525.29L556.88 1523.61L558.88 1521.33L561.01 1519.39L562.88 1517.45L564.83 1516.18L566.49 1513.52L567.09 1512.27L567.69 1510.19L568.29 1508.01L568.89 1505.57L569.49 1503.10L570.09 1500.62L570.60 1498.37L571.12 1495.94L571.63 1493.40L572.15 1490.89L572.66 1488.48L573.18 1486.07L573.69 1483.67L574.28 1481.21L574.85 1478.40L575.42 1475.99L576.01 1473.56L576.63 1471.24L577.30 1469.34L578.81 1466.41L580.46 1464.07L582.10 1462.39L584.50 1460.28L586.91 1459.52L589.31 1459.67L591.71 1460.31L594.19 1460.47L596.52 1459.81L600.12 1460.97L603.72 1460.95L604.61 1458.99L605.37 1456.44L606.13 1453.69L606.90 1451.21L607.67 1448.90L608.53 1446.46L609.53 1444.48L610.60 1442.92L611.65 1440.52L612.25 1438.45L612.85 1436.18L613.43 1433.62L613.99 1430.93L614.53 1428.44L615.03 1425.90L615.50 1423.30L615.95 1420.77L616.42 1418.34L616.94 1416.58L618.47 1413.48L620.06 1412.27L622.94 1414.07L624.97 1414.69L627.03 1416.42L627.86 1418.30L628.62 1420.44L629.36 1423.16L630.15 1426.01L630.71 1428.20L631.27 1430.37L631.85 1432.78L632.45 1435.08L633.08 1437.81L633.75 1440.60L634.22 1442.46L634.69 1444.61L635.18 1446.83L635.68 1448.99L636.19 1451.29L636.73 1453.50L637.31 1455.60L637.91 1457.86L638.56 1459.83L639.46 1462.01L640.44 1464.25L641.48 1466.62L642.55 1468.32L643.64 1470.36L644.72 1472.55L645.77 1474.27L647.25 1475.99L648.76 1478.13L650.26 1479.65L651.69 1481.29L652.97 1483.72L653.61 1485.36L654.20 1487.32L654.75 1489.45L655.27 1491.50L655.77 1493.74L656.27 1495.97L656.76 1498.28L657.26 1500.63L657.78 1503.00L658.26 1505.14L658.74 1507.26L659.22 1509.51L659.70 1511.75L660.18 1514.05L660.66 1516.44L661.14 1518.63L661.62 1520.68L662.10 1522.70L662.58 1524.61L663.36 1527.35L664.10 1529.98L664.83 1532.41L665.61 1534.70L666.45 1536.86L667.39 1538.97L668.45 1541.29L669.61 1543.23L670.84 1545.17L672.10 1547.56L673.37 1549.44L674.59 1550.91L676.45 1553.42L678.35 1554.86L680.17 1556.98L681.80 1558.00L683.71 1560.29L685.34 1561.79L686.61 1563.08L688.07 1564.78L688.73 1566.60L689.54 1568.92L690.35 1571.29L691.07 1573.99L691.50 1576.32L691.85 1578.58L692.18 1580.98L692.56 1583.53L693.07 1586.08L693.76 1588.41L694.58 1590.91L695.45 1593.25L696.31 1595.55L697.08 1598.11L697.76 1600.32L698.40 1602.55L699.00 1605.05L699.56 1607.40L700.08 1610.14L700.41 1612.12L700.70 1614.39L700.96 1616.64L701.21 1619.09L701.47 1621.48L701.75 1623.93L702.08 1626.12L702.51 1628.57L702.97 1631.07L703.46 1633.43L703.97 1635.69L704.52 1637.90L705.09 1640.16L705.81 1642.56L706.57 1644.87L707.37 1647.03L708.21 1649.01L709.09 1651.02L710.25 1653.32L711.47 1656.05L712.75 1658.31L714.09 1660.08L715.48 1662.03L716.91 1663.70L718.43 1665.60L720.10 1666.84L721.91 1668.63L723.85 1670.69L725.92 1672.10L728.11 1673.89L729.98 1675.44L731.97 1676.77L734.02 1678.70L736.08 1680.12L738.12 1681.15L740.09 1682.22L742.03 1683.02L743.98 1684.09L746.00 1685.16L748.13 1686.33L750.40 1687.07L752.79 1688.14L755.24 1689.22L757.71 1689.91L760.14 1691.37L762.54 1692.26L764.94 1693.16L767.35 1693.92L769.75 1695.28L772.15 1696.29L774.55 1697.19L776.96 1697.81L779.36 1698.76L781.76 1699.24L784.16 1700.43L786.70 1700.72L789.36 1701.27L791.96 1701.92L794.30 1702.81L796.18 1702.87L800.00 1703.14L802.36 1704.22L805.18 1704.65L808.01 1705.46L810.68 1706.60L813.35 1707.07L816.02 1708.04L818.68 1708.51L821.35 1709.06L824.02 1709.09L826.63 1709.52L829.24 1710.34L832.03 1710.69L834.32 1710.81L836.74 1710.79L839.20 1711.59L841.64 1711.53L843.97 1711.61L846.24 1712.08L848.62 1712.14L851.25 1712.38L853.66 1713.01L856.30 1712.78L859.01 1712.89L861.65 1713.20L864.06 1713.01L866.69 1713.50L869.07 1713.73L871.34 1713.93L873.67 1714.08L876.00 1714.34L878.28 1714.34L880.65 1714.47L883.28 1714.70L885.64 1714.91L888.17 1715.26L890.81 1715.26L893.48 1715.62L896.09 1715.48L898.71 1715.38L901.37 1715.45L904.01 1715.95L906.55 1716.16L908.90 1716.18L911.53 1716.27L913.91 1716.33L916.19 1716.08L918.51 1716.58L921.03 1716.29L923.62 1716.89L926.06 1716.61L928.12 1716.65L930.83 1717.62L932.93 1717.72L935.48 1717.47L937.73 1716.68L939.08 1720.00L940.13 1722.55L940.94 1721.01L941.74 1717.93L942.54 1715.88L944.94 1718.49" fill="none" stroke="#3953a4" stroke-width="2.2" stroke-linejoin="round" stroke-linecap="round"/><path d="M85.26 1696.22L85.84 1694.25L86.67 1691.57L87.51 1688.90L88.65 1685.51L89.76 1682.53L91.71 1681.15L92.50 1683.65L93.21 1687.24L93.91 1691.28L94.56 1693.26L94.85 1691.83L95.11 1689.28L95.40 1686.02L95.77 1682.56L96.08 1680.33L96.44 1677.79L96.83 1675.40L97.23 1672.67L97.63 1669.99L98.02 1667.68L98.47 1665.12L98.93 1662.50L99.39 1660.09L99.84 1657.86L100.27 1655.77L100.69 1653.29L101.12 1650.45L101.52 1647.99L101.89 1646.07L102.22 1644.79L103.27 1643.17L104.02 1646.87L104.33 1645.61L104.68 1643.89L105.08 1641.06L105.53 1637.73L105.72 1636.07L105.93 1634.01L106.15 1631.79L106.37 1629.36L106.60 1626.96L106.84 1624.68L107.08 1622.12L107.32 1619.91L107.55 1617.42L107.78 1615.29L108.03 1612.65L108.29 1610.42L108.55 1607.97L108.80 1605.18L109.06 1603.09L109.31 1600.60L109.56 1598.35L109.80 1596.17L110.03 1594.19L110.36 1591.24L110.68 1588.03L110.98 1585.45L111.27 1582.88L111.55 1580.90L111.83 1579.02L113.33 1576.60L114.06 1578.50L114.83 1582.05L115.13 1584.12L115.43 1586.21L115.75 1588.89L116.07 1591.84L116.42 1594.44L116.79 1597.21L117.18 1599.74L117.59 1602.24L118.02 1604.92L118.46 1607.60L118.90 1609.98L119.34 1612.04L120.00 1615.02L120.66 1617.78L121.34 1620.16L122.04 1622.76L123.02 1625.43L124.03 1627.89L125.05 1630.23L126.50 1632.36L128.05 1634.46L131.80 1635.48L133.03 1634.04L134.25 1631.78L135.56 1630.20L137.81 1627.74L140.06 1625.86L143.81 1622.93L146.82 1620.22L149.82 1622.17L152.07 1621.32L154.23 1622.29L156.58 1625.01L158.55 1626.77L160.33 1627.73L161.88 1630.28L163.33 1631.89L166.34 1631.10L168.59 1633.14L169.53 1634.64L170.56 1636.89L171.59 1639.11L172.59 1641.25L173.59 1643.79L174.59 1646.69L175.35 1649.19L176.10 1651.66L176.85 1654.29L177.60 1657.19L178.10 1659.27L178.60 1661.59L179.10 1664.12L179.60 1666.16L180.10 1668.71L180.60 1670.78L181.38 1673.52L182.17 1676.73L182.93 1679.04L183.60 1681.49L185.56 1684.22L188.11 1680.98L189.86 1679.18L191.86 1677.60L194.07 1676.24L196.37 1675.07L198.67 1673.92L200.87 1671.77L204.62 1670.27L205.68 1668.23L206.65 1665.80L207.63 1663.46L210.63 1661.76L213.63 1660.31L216.64 1659.52L219.64 1662.44L221.09 1664.75L222.64 1667.13L224.79 1669.09L226.40 1671.23L225.01 1668.36L227.11 1670.33L230.01 1672.19L232.36 1674.46L235.02 1676.65L236.69 1677.90L238.53 1678.53L240.50 1680.20L242.52 1681.24L244.23 1682.25L246.06 1683.98L247.90 1685.92L249.67 1687.23L251.28 1688.61L254.57 1687.86L257.54 1686.19L260.67 1685.40L263.79 1684.59L265.83 1685.79L267.87 1687.51L270.05 1688.21L272.37 1689.13L274.82 1689.28L277.56 1690.92L279.94 1691.15L282.56 1692.88L285.18 1694.01L287.57 1694.68L290.16 1696.62L292.48 1697.76L295.08 1699.21L297.40 1699.28L299.92 1699.38L302.52 1699.75L305.09 1699.82L307.65 1700.95L310.25 1702.47L312.77 1702.53L315.10 1704.07L317.78 1704.98L320.19 1705.32L322.60 1704.62L325.15 1705.32L327.70 1706.32L330.11 1706.61L332.29 1706.66L334.33 1707.38L336.37 1709.25L337.90 1710.58L339.42 1712.00L340.97 1713.52L342.62 1714.84L344.41 1716.81L346.30 1718.81L348.22 1720.40L350.13 1720.82L352.63 1722.35L355.14 1724.22L357.64 1724.80L360.14 1725.96L362.64 1727.44L365.15 1729.36L367.65 1729.55L370.15 1729.11L372.65 1729.92L375.25 1731.41L377.84 1732.72L380.16 1733.85L382.74 1735.34L385.17 1736.08L388.22 1735.30L391.42 1733.77L394.47 1734.33L397.68 1734.22L400.09 1733.32L402.64 1732.56L405.19 1733.09L407.78 1732.00L410.38 1732.01L412.69 1731.47L415.35 1730.36L417.70 1729.06L419.27 1727.62L420.85 1726.23L422.70 1723.74L424.40 1722.40L426.30 1720.51L428.27 1718.75L430.21 1718.08L432.21 1715.82L434.29 1713.82L436.21 1711.40L437.72 1710.52L440.00 1708.94L440.83 1707.76L441.77 1705.70L442.82 1703.19L444.00 1700.01L444.77 1698.15L445.60 1695.89L446.49 1693.39L447.40 1691.06L448.31 1688.74L449.19 1686.34L450.01 1684.12L451.08 1681.54L452.08 1678.80L453.06 1676.57L454.03 1674.21L455.02 1672.13L456.02 1669.61L457.02 1667.84L458.02 1666.22L459.02 1664.15L460.02 1661.97L460.85 1659.95L461.69 1657.78L462.52 1655.51L463.36 1652.88L464.19 1650.34L465.03 1648.17L465.86 1645.93L466.69 1643.33L467.53 1641.12L468.36 1638.95L469.20 1636.71L470.03 1633.97L470.75 1631.97L471.46 1629.41L472.18 1627.20L472.89 1625.00L473.61 1622.57L474.32 1620.25L475.04 1618.06L475.87 1615.54L476.70 1613.31L477.54 1610.84L478.37 1608.69L479.21 1606.41L480.04 1604.08L480.87 1601.59L481.71 1599.46L482.54 1596.91L483.38 1594.65L484.21 1592.12L485.05 1590.06L486.06 1587.32L487.08 1585.08L488.09 1582.54L489.09 1580.58L490.05 1577.98L490.96 1575.67L491.84 1573.38L492.70 1571.09L493.56 1568.65L494.45 1565.87L495.12 1563.93L495.79 1562.01L496.47 1559.94L497.16 1557.87L497.84 1555.61L498.53 1553.15L499.22 1550.93L499.90 1548.71L500.59 1546.36L501.28 1543.78L501.96 1541.31L502.65 1538.74L503.34 1536.36L504.02 1534.14L505.00 1531.46L506.00 1529.44L506.99 1527.31L507.94 1525.13L508.83 1522.33L509.34 1520.04L509.81 1517.74L510.27 1515.22L510.71 1512.72L511.13 1510.27L511.56 1507.61L511.99 1505.41L512.43 1503.02L512.94 1500.52L513.43 1498.10L513.91 1495.59L514.41 1493.11L514.92 1490.80L515.46 1488.65L516.04 1485.96L516.66 1483.62L517.32 1481.18L518.01 1478.71L518.72 1476.11L519.43 1473.72L520.14 1471.59L520.84 1469.16L521.82 1466.71L522.82 1463.89L523.81 1461.57L524.76 1459.46L525.65 1457.15L526.94 1455.09L528.09 1453.41L529.25 1450.22L529.70 1448.21L530.15 1446.18L530.60 1443.97L531.05 1441.10L531.50 1438.45L531.95 1436.13L532.40 1433.46L532.85 1430.85L533.30 1428.62L533.75 1426.20L534.20 1423.54L534.65 1421.25L535.11 1418.64L535.56 1416.26L536.01 1413.98L536.46 1411.51L536.98 1409.28L537.51 1406.81L538.04 1404.36L538.57 1401.91L539.08 1399.56L539.58 1397.38L540.06 1394.95L540.52 1392.46L540.96 1390.25L541.40 1388.17L541.81 1385.64L542.21 1383.28L542.59 1380.82L542.94 1378.19L543.17 1376.06L543.38 1374.01L543.56 1372.06L543.74 1369.80L543.91 1367.90L544.08 1365.52L544.26 1362.77L544.44 1360.29L544.64 1357.37L544.86 1353.91L544.99 1352.17L545.12 1350.07L545.26 1348.03L545.40 1345.80L545.54 1343.60L545.69 1341.07L545.84 1338.74L545.99 1336.23L546.14 1333.72L546.29 1331.35L546.45 1328.84L546.60 1326.09L546.75 1323.78L546.90 1321.14L547.05 1319.11L547.20 1316.73L547.35 1314.39L547.49 1312.30L547.63 1310.22L547.82 1307.76L548.02 1305.02L548.21 1302.56L548.39 1300.32L548.58 1297.82L548.76 1295.76L548.94 1293.54L549.12 1291.77L549.30 1289.46L549.48 1287.43L549.66 1285.47L549.85 1283.44L550.03 1281.56L550.27 1279.04L550.51 1276.12L550.75 1273.53L550.99 1271.03L551.23 1268.47L551.47 1266.25L551.71 1263.71L551.95 1261.61L552.19 1259.33L552.43 1257.50L552.82 1254.60L553.19 1252.21L553.56 1249.80L553.95 1247.81L554.36 1245.98L554.83 1244.33L555.95 1241.56L557.19 1239.69L558.44 1237.11L559.60 1235.57L560.75 1233.18L562.04 1231.03L562.96 1229.03L563.99 1226.65L565.04 1224.30L566.02 1221.48L566.85 1219.25L567.49 1216.69L568.02 1214.72L568.46 1212.53L568.85 1210.11L569.25 1206.91L569.47 1205.04L569.67 1203.04L569.85 1200.74L570.03 1198.75L570.21 1196.07L570.38 1193.65L570.55 1191.10L570.74 1188.30L570.93 1185.41L571.06 1183.53L571.19 1181.47L571.33 1179.15L571.46 1177.07L571.60 1174.72L571.74 1172.37L571.88 1170.31L572.02 1167.69L572.16 1165.47L572.30 1163.02L572.44 1160.61L572.58 1158.60L572.72 1156.13L572.85 1154.10L573.01 1151.90L573.18 1149.29L573.34 1147.07L573.50 1144.64L573.67 1142.36L573.83 1140.24L573.99 1138.07L574.15 1135.74L574.31 1133.93L574.47 1131.55L574.62 1129.76L574.77 1127.78L574.99 1124.98L575.20 1122.22L575.39 1119.74L575.59 1117.51L575.78 1115.10L575.99 1112.70L576.21 1110.68L576.46 1108.59L576.80 1105.75L577.16 1103.34L577.54 1100.73L577.94 1098.19L578.38 1096.21L578.86 1094.23L579.64 1091.44L580.48 1089.47L581.42 1087.09L582.46 1085.55L584.18 1083.18L586.08 1081.99L587.75 1081.94L589.49 1083.51L590.87 1086.24L593.27 1087.76L596.40 1087.57L597.76 1089.68L599.28 1091.89L601.52 1093.69L603.60 1094.72L604.21 1093.29L604.61 1091.01L604.93 1088.07L605.29 1084.62L605.52 1082.43L605.76 1079.92L605.99 1077.34L606.23 1075.10L606.47 1072.43L606.71 1069.74L606.97 1067.71L607.33 1064.83L607.70 1062.63L608.07 1060.04L608.47 1057.88L608.89 1055.76L609.46 1053.24L610.06 1051.23L610.68 1049.01L611.29 1046.14L611.64 1044.18L611.99 1041.97L612.35 1039.96L612.70 1037.27L613.04 1034.81L613.38 1032.32L613.69 1029.15L613.91 1026.97L614.11 1025.06L614.31 1022.49L614.51 1019.89L614.70 1017.41L614.89 1015.13L615.07 1012.51L615.25 1009.95L615.44 1007.44L615.62 1005.24L615.81 1002.50L616.01 999.98L616.19 997.64L616.38 994.80L616.56 992.62L616.75 990.20L616.93 987.80L617.11 985.44L617.30 983.55L617.63 980.60L617.96 977.57L618.29 975.36L618.63 973.51L618.98 971.45L620.90 967.98L622.82 970.25L623.35 973.08L623.85 976.31L624.50 978.78L626.07 980.54L627.63 982.67L628.56 984.45L629.31 988.47L629.55 990.26L629.78 992.43L630.02 994.58L630.25 996.84L630.49 999.52L630.74 1002.52L630.99 1005.19L631.17 1007.40L631.35 1009.69L631.53 1011.91L631.72 1014.26L631.91 1016.52L632.10 1018.81L632.29 1021.52L632.49 1024.05L632.70 1026.54L632.91 1029.41L633.08 1031.47L633.26 1033.36L633.43 1035.48L633.62 1037.62L633.80 1040.08L633.99 1042.40L634.18 1044.46L634.37 1046.68L634.56 1049.10L634.75 1051.34L634.94 1053.44L635.13 1055.87L635.32 1058.14L635.50 1060.52L635.68 1062.76L635.87 1064.84L636.05 1067.30L636.24 1069.59L636.42 1071.56L636.61 1073.98L636.79 1076.26L636.98 1078.50L637.16 1080.48L637.35 1082.83L637.53 1084.92L637.72 1086.89L637.95 1089.36L638.18 1092.17L638.40 1094.57L638.62 1097.10L638.84 1099.44L639.07 1101.72L639.31 1104.07L639.56 1106.51L639.83 1108.72L640.12 1110.95L640.46 1113.63L640.82 1115.94L641.19 1118.44L641.57 1120.84L641.97 1123.31L642.39 1125.88L642.82 1128.33L643.26 1130.43L643.72 1132.75L644.35 1135.21L645.01 1137.75L645.70 1140.22L646.41 1142.63L647.12 1144.59L647.83 1146.86L648.53 1149.39L649.24 1151.88L649.97 1154.40L650.71 1156.59L651.44 1159.16L652.14 1161.55L652.77 1163.92L653.33 1166.03L653.87 1168.44L654.31 1170.64L654.68 1172.76L655.02 1174.92L655.36 1177.56L655.74 1180.72L655.92 1182.39L656.11 1184.42L656.29 1186.12L656.47 1188.38L656.66 1190.82L656.84 1192.99L657.03 1195.24L657.21 1197.58L657.40 1199.98L657.58 1202.38L657.77 1204.74L657.95 1207.30L658.14 1209.38L658.32 1211.54L658.51 1214.08L658.71 1215.98L658.90 1218.34L659.09 1220.70L659.29 1222.91L659.48 1225.13L659.67 1227.07L659.85 1229.36L660.04 1231.75L660.21 1233.75L660.38 1236.25L660.54 1238.10L660.69 1240.39L660.84 1242.96L660.97 1244.85L661.10 1247.13L661.23 1249.65L661.35 1251.76L661.47 1254.25L661.59 1256.54L661.71 1258.60L661.83 1260.81L661.96 1262.84L662.09 1265.09L662.22 1267.05L662.40 1269.83L662.58 1272.26L662.75 1274.77L662.93 1276.89L663.11 1279.43L663.29 1281.63L663.49 1284.16L663.69 1286.41L663.91 1288.82L664.14 1291.16L664.36 1293.35L664.53 1295.73L664.68 1298.05L664.83 1299.96L665.01 1302.23L665.23 1304.56L665.52 1306.75L665.90 1309.58L666.40 1312.15L667.03 1315.11L667.45 1317.10L667.93 1319.02L668.47 1320.96L669.05 1323.22L669.67 1325.75L670.33 1328.15L671.01 1330.51L671.71 1333.04L672.42 1335.28L673.13 1337.81L673.85 1340.26L674.55 1342.55L675.24 1344.68L675.90 1346.91L676.54 1348.78L677.14 1350.86L677.69 1352.41L678.20 1353.85L679.51 1357.53L680.63 1359.69L681.60 1361.47L682.48 1363.10L683.33 1363.99L684.20 1366.15L685.10 1368.41L685.98 1370.47L686.83 1372.83L687.63 1375.32L688.36 1378.06L689.01 1380.63L689.48 1382.66L689.88 1384.98L690.23 1386.98L690.54 1389.47L690.83 1391.69L691.11 1394.61L691.41 1397.20L691.62 1399.37L691.83 1401.52L692.03 1404.20L692.23 1406.41L692.42 1409.12L692.60 1411.36L692.79 1414.10L692.97 1416.48L693.15 1419.10L693.33 1421.32L693.53 1423.73L693.71 1426.18L693.88 1428.71L694.06 1431.26L694.23 1433.34L694.41 1435.88L694.60 1438.23L694.80 1440.48L695.02 1442.94L695.25 1445.13L695.50 1447.89L695.76 1450.27L696.03 1452.46L696.31 1455.09L696.59 1457.37L696.87 1459.64L697.15 1462.27L697.42 1464.35L697.68 1466.95L697.95 1469.28L698.22 1471.33L698.49 1473.77L698.75 1475.71L699.02 1478.17L699.29 1480.55L699.55 1483.21L699.82 1486.33L699.99 1488.18L700.16 1490.20L700.33 1492.42L700.51 1494.55L700.68 1496.74L700.85 1499.15L701.02 1501.27L701.19 1503.58L701.36 1505.92L701.54 1508.36L701.71 1510.66L701.88 1513.12L702.05 1515.35L702.22 1517.27L702.41 1519.60L702.61 1522.10L702.82 1524.43L703.03 1526.97L703.23 1529.35L703.44 1531.60L703.65 1533.99L703.84 1536.38L704.03 1538.58L704.20 1540.46L704.36 1542.48L704.50 1544.38L704.62 1546.29L704.81 1549.28L704.92 1551.99L704.97 1554.37L704.99 1556.27L705.02 1558.22L705.09 1559.93L705.21 1562.87L705.33 1565.03L705.48 1567.52L705.69 1570.11L705.91 1572.43L706.16 1574.47L706.44 1577.09L706.76 1579.52L707.09 1582.18L707.37 1584.14L707.67 1586.41L707.99 1589.07L708.33 1591.23L708.69 1593.82L709.09 1596.21L709.52 1598.40L709.98 1600.85L710.47 1602.92L710.98 1605.39L711.52 1607.75L712.09 1610.08L712.70 1612.17L713.35 1614.65L714.03 1617.06L714.72 1619.18L715.42 1621.07L716.10 1623.04L717.43 1625.75L718.77 1627.87L720.10 1629.72L721.08 1632.24L722.04 1634.46L723.03 1636.88L724.10 1639.19L725.26 1641.27L726.48 1643.87L727.76 1645.40L729.11 1647.72L730.56 1650.45L732.11 1652.22L733.66 1654.72L735.12 1655.55L736.75 1658.25L738.27 1660.66L740.12 1662.26L741.91 1664.02L743.94 1665.42L746.06 1666.98L748.13 1668.54L750.22 1669.95L752.38 1671.53L754.42 1673.02L756.14 1673.98L760.14 1675.46L761.89 1676.10L764.14 1678.47L765.86 1679.22L767.90 1680.94L770.06 1682.57L772.15 1684.00L774.15 1685.60L776.16 1687.00L778.16 1687.60L780.16 1688.79L782.83 1690.37L785.50 1691.52L788.17 1692.25L790.27 1693.00L792.43 1694.49L794.47 1696.19L796.18 1697.08L800.00 1695.62L801.97 1696.43L804.23 1697.28L806.41 1697.96L809.41 1700.87L812.01 1701.16L815.21 1700.12L817.12 1701.85L819.22 1703.77L821.62 1704.45L824.02 1705.59L826.08 1705.27L828.03 1703.48L829.88 1704.83L832.03 1706.27L835.18 1706.07L838.44 1706.70L841.04 1707.25L843.24 1707.38L846.44 1709.77L848.75 1709.09L851.25 1709.24L853.65 1708.81L856.05 1708.60L858.56 1708.78L860.86 1707.97L864.06 1710.20L865.91 1712.06L868.07 1713.14L870.72 1712.78L873.67 1712.47L877.02 1711.61L880.08 1713.05L883.28 1714.39L887.28 1715.50L890.49 1713.07L894.49 1714.34L897.69 1711.91L900.10 1713.30L902.50 1714.09L905.70 1713.10L907.30 1714.78L908.90 1716.22L912.11 1713.43L914.51 1713.75L916.91 1713.98L918.61 1715.87L920.12 1717.47L923.32 1714.65L926.52 1716.50L927.77 1713.41L928.92 1710.24L931.33 1712.85L933.73 1709.50L936.13 1711.91L937.16 1708.98L938.05 1707.36L938.30 1709.03L938.52 1711.98L938.71 1715.54L938.91 1718.83L939.11 1721.34L939.33 1722.10L939.63 1721.27L939.95 1717.83L940.28 1713.77L940.61 1710.81L940.94 1710.13L941.14 1710.66L941.34 1712.43L941.55 1715.00L941.76 1718.24L941.96 1721.12L942.16 1724.30L942.35 1727.04L942.54 1728.86L943.21 1735.06L943.82 1735.57L943.92 1734.22L944.02 1732.73L944.11 1730.96L944.21 1729.21L944.30 1726.82L944.40 1724.56L944.49 1721.66L944.58 1719.10L944.67 1716.55L944.76 1713.74L944.85 1710.72L944.94 1708.13L945.00 1705.95L945.07 1703.46L945.14 1700.74L945.20 1697.53L945.27 1694.59L945.33 1691.50L945.40 1688.39L945.46 1685.35L945.52 1682.22L945.58 1679.38L945.64 1677.14L945.70 1675.07L945.75 1673.31L945.80 1672.05L945.85 1671.20L945.90 1671.44L945.94 1671.59L945.97 1672.75L946.00 1673.83L946.03 1675.81L946.07 1677.87L946.09 1679.92L946.12 1682.74L946.15 1685.42L946.18 1688.40L946.20 1691.20L946.22 1694.54L946.25 1697.40L946.27 1700.63L946.29 1703.31L946.31 1706.02L946.32 1708.56L946.34 1711.18L946.35 1713.05L946.37 1714.87L946.38 1716.09" fill="none" stroke="#ed1c24" stroke-width="2.2" stroke-linejoin="round" stroke-linecap="round"/></g><rect x="166.00" y="985.20" width="344.30" height="360.30" fill="#fff" stroke="none"/><g clip-path="url(#ci)"><path d="M165.89 1009.19C166.77 1009.55 169.24 1010.08 171.19 1011.31C173.13 1012.55 175.42 1015.09 177.54 1016.61C179.66 1018.13 182.13 1020.07 183.90 1020.42C185.66 1020.78 186.55 1019.54 188.14 1018.73C189.72 1017.92 191.67 1015.73 193.43 1015.55C195.20 1015.37 196.79 1016.50 198.73 1017.67C200.67 1018.83 203.14 1022.01 205.08 1022.54C207.03 1023.07 208.55 1021.41 210.38 1020.85C212.22 1020.28 214.51 1018.62 216.10 1019.15C217.69 1019.68 218.57 1021.98 219.92 1024.03C221.26 1026.07 222.81 1029.43 224.15 1031.44C225.49 1033.45 226.73 1035.82 227.97 1036.10C229.20 1036.38 230.44 1033.91 231.57 1033.14C232.70 1032.36 233.51 1031.02 234.75 1031.44C235.98 1031.86 237.57 1034.44 238.98 1035.68C240.40 1036.91 241.81 1038.50 243.22 1038.86C244.63 1039.21 246.05 1037.44 247.46 1037.80C248.87 1038.15 249.93 1039.21 251.69 1040.97C253.46 1042.74 255.93 1046.27 258.05 1048.39C260.17 1050.51 262.64 1052.27 264.41 1053.69C266.17 1055.10 267.23 1055.28 268.64 1056.86C270.06 1058.45 271.54 1061.28 272.88 1063.22C274.22 1065.16 275.28 1067.99 276.69 1068.52C278.11 1069.05 279.87 1065.87 281.36 1066.40C282.84 1066.93 284.25 1069.75 285.59 1071.69C286.94 1073.64 288.67 1076.80 289.41 1078.05C290.14 1079.30 289.30 1079.42 290.00 1079.22C290.70 1079.01 292.30 1077.46 293.60 1076.82C294.90 1076.18 296.41 1075.18 297.81 1075.38C299.21 1075.58 300.11 1076.58 302.01 1078.02C303.91 1079.46 307.02 1082.72 309.22 1084.02C311.42 1085.33 313.52 1084.82 315.23 1085.83C316.93 1086.83 318.03 1088.83 319.43 1090.03C320.83 1091.23 322.33 1093.03 323.63 1093.03C324.93 1093.03 325.84 1091.13 327.24 1090.03C328.64 1088.93 330.44 1086.43 332.04 1086.43C333.64 1086.43 335.25 1088.63 336.85 1090.03C338.45 1091.43 340.35 1094.03 341.65 1094.83C342.95 1095.64 343.45 1095.74 344.65 1094.83C345.86 1093.93 347.46 1090.99 348.86 1089.43C350.26 1087.87 351.66 1085.67 353.06 1085.47C354.46 1085.27 355.97 1086.67 357.27 1088.23C358.57 1089.79 359.67 1092.33 360.87 1094.83C362.07 1097.34 363.37 1101.04 364.47 1103.24C365.58 1105.45 366.48 1108.25 367.48 1108.05C368.48 1107.85 369.58 1103.44 370.48 1102.04C371.38 1100.64 371.98 1099.64 372.88 1099.64C373.78 1099.64 374.78 1100.74 375.89 1102.04C376.99 1103.34 378.39 1106.25 379.49 1107.45C380.59 1108.65 381.39 1109.15 382.49 1109.25C383.59 1109.35 384.99 1108.25 386.10 1108.05C387.20 1107.85 388.10 1107.45 389.10 1108.05C390.10 1108.65 391.20 1109.85 392.10 1111.65C393.00 1113.45 393.70 1116.06 394.50 1118.86C395.31 1121.66 396.11 1125.07 396.91 1128.47C397.71 1131.87 398.41 1135.48 399.31 1139.28C400.21 1143.08 401.51 1148.19 402.31 1151.29C403.11 1154.39 403.10 1155.27 404.11 1157.90C405.13 1160.52 406.97 1162.69 408.39 1167.03C409.81 1171.38 410.86 1179.75 412.63 1183.98C414.39 1188.22 416.86 1189.92 418.98 1192.46C421.10 1195.00 423.57 1198.00 425.34 1199.24C427.10 1200.47 428.16 1200.30 429.58 1199.87C430.99 1199.45 432.40 1196.87 433.81 1196.69C435.23 1196.52 436.46 1197.93 438.05 1198.81C439.64 1199.70 441.76 1201.64 443.35 1201.99C444.94 1202.34 446.00 1202.17 447.58 1200.93C449.17 1199.70 450.94 1196.17 452.88 1194.58C454.82 1192.99 457.12 1192.28 459.24 1191.40C461.36 1190.52 463.47 1190.34 465.59 1189.28C467.71 1188.22 469.83 1187.16 471.95 1185.04C474.07 1182.92 476.54 1178.58 478.31 1176.57C480.07 1174.56 481.13 1173.32 482.54 1172.97C483.95 1172.61 485.37 1174.10 486.78 1174.45C488.19 1174.80 489.60 1175.61 491.02 1175.08C492.43 1174.56 493.84 1172.97 495.25 1171.27C496.67 1169.58 498.08 1166.50 499.49 1164.92C500.90 1163.33 502.49 1161.91 503.73 1161.74C504.96 1161.56 505.85 1162.97 506.91 1163.86C507.97 1164.74 509.56 1166.50 510.08 1167.03" fill="none" stroke="#000" stroke-width="2.35" stroke-linejoin="round" stroke-linecap="round"/><path d="M165.89 1010.25C168.54 1011.84 176.31 1016.61 181.78 1019.79C187.25 1022.97 194.14 1026.50 198.73 1029.32C203.32 1032.15 205.08 1034.27 209.32 1036.74C213.56 1039.21 219.21 1041.33 224.15 1044.15C229.10 1046.98 234.39 1050.86 238.98 1053.69C243.57 1056.51 246.75 1058.45 251.69 1061.10C256.64 1063.75 262.99 1066.57 268.64 1069.58C274.29 1072.58 282.03 1077.10 285.59 1079.11C289.15 1081.12 287.66 1080.20 290.00 1081.62C292.34 1083.04 296.61 1085.83 299.61 1087.63C302.61 1089.43 305.22 1090.03 308.02 1092.43C310.82 1094.83 313.42 1099.04 316.43 1102.04C319.43 1105.05 323.43 1108.25 326.04 1110.45C328.64 1112.65 329.44 1113.55 332.04 1115.26C334.64 1116.96 338.25 1118.46 341.65 1120.66C345.06 1122.86 349.06 1125.97 352.46 1128.47C355.87 1130.97 358.47 1133.27 362.07 1135.68C365.68 1138.08 370.48 1141.28 374.08 1142.88C377.69 1144.48 380.69 1144.18 383.69 1145.29C386.70 1146.39 389.30 1148.29 392.10 1149.49C394.90 1150.69 397.53 1151.49 400.51 1152.49C403.49 1153.49 406.92 1154.84 410.00 1155.50C413.08 1156.15 415.37 1155.93 418.98 1156.44C422.60 1156.95 427.46 1158.10 431.69 1158.56C435.93 1159.02 440.17 1159.19 444.41 1159.19C448.64 1159.19 453.23 1159.02 457.12 1158.56C461.00 1158.10 464.18 1157.50 467.71 1156.44C471.24 1155.38 474.77 1154.15 478.31 1152.20C481.84 1150.26 485.37 1147.26 488.90 1144.79C492.43 1142.32 495.96 1140.20 499.49 1137.37C503.02 1134.55 508.32 1129.43 510.08 1127.84" fill="none" stroke="#0b8140" stroke-width="2.35" stroke-linejoin="round" stroke-linecap="round"/><path d="M165.89 1045.85C166.77 1046.09 169.42 1045.85 171.19 1047.33C172.95 1048.81 174.89 1052.45 176.48 1054.75C178.07 1057.04 179.31 1060.40 180.72 1061.10C182.13 1061.81 183.72 1058.98 184.96 1058.98C186.19 1058.98 186.72 1059.34 188.14 1061.10C189.55 1062.87 192.02 1068.52 193.43 1069.58C194.84 1070.64 195.44 1067.99 196.61 1067.46C197.78 1066.93 199.19 1065.34 200.42 1066.40C201.66 1067.46 202.72 1071.52 204.03 1073.81C205.33 1076.11 206.67 1078.76 208.26 1080.17C209.85 1081.58 211.97 1081.23 213.56 1082.29C215.15 1083.35 216.03 1083.70 217.80 1086.53C219.56 1089.35 221.86 1094.82 224.15 1099.24C226.45 1103.65 229.10 1109.30 231.57 1113.01C234.04 1116.72 236.33 1117.42 238.98 1121.48C241.63 1125.54 244.63 1133.49 247.46 1137.37C250.28 1141.26 253.11 1142.49 255.93 1144.79C258.76 1147.08 261.94 1148.67 264.41 1151.14C266.88 1153.62 268.64 1156.97 270.76 1159.62C272.88 1162.27 275.00 1164.21 277.12 1167.03C279.24 1169.86 281.36 1173.74 283.47 1176.57C285.59 1179.39 287.71 1181.86 289.83 1183.98C291.95 1186.10 294.07 1187.69 296.19 1189.28C298.31 1190.87 300.60 1192.70 302.54 1193.52C304.48 1194.33 306.25 1193.45 307.84 1194.15C309.43 1194.86 310.49 1195.56 312.08 1197.75C313.67 1199.94 315.43 1204.29 317.37 1207.29C319.31 1210.29 321.62 1212.58 323.73 1215.76C325.83 1218.94 328.07 1224.17 330.00 1226.36C331.93 1228.55 333.53 1229.07 335.30 1228.90C337.06 1228.72 338.83 1226.25 340.59 1225.30C342.36 1224.34 344.12 1223.18 345.89 1223.18C347.66 1223.18 349.24 1224.06 351.19 1225.30C353.13 1226.53 355.42 1228.83 357.54 1230.59C359.66 1232.36 361.78 1234.65 363.90 1235.89C366.02 1237.13 367.96 1237.48 370.25 1238.01C372.55 1238.54 375.73 1239.60 377.67 1239.07C379.61 1238.54 380.49 1236.24 381.91 1234.83C383.32 1233.42 384.91 1230.95 386.14 1230.59C387.38 1230.24 388.09 1231.83 389.32 1232.71C390.56 1233.59 391.79 1235.89 393.56 1235.89C395.32 1235.89 397.97 1232.71 399.92 1232.71C401.86 1232.71 403.80 1235.54 405.21 1235.89C406.62 1236.24 407.33 1236.07 408.39 1234.83C409.45 1233.59 410.51 1230.59 411.57 1228.47C412.63 1226.36 413.33 1223.88 414.75 1222.12C416.16 1220.35 418.45 1219.65 420.04 1217.88C421.63 1216.12 423.04 1213.22 424.28 1211.53C425.52 1209.83 425.87 1208.49 427.46 1207.71C429.05 1206.94 431.87 1207.64 433.81 1206.86C435.76 1206.09 437.34 1204.75 439.11 1203.05C440.88 1201.36 442.46 1199.52 444.41 1196.69C446.35 1193.87 448.64 1189.28 450.76 1186.10C452.88 1182.92 455.00 1181.16 457.12 1177.63C459.24 1174.10 461.36 1169.15 463.47 1164.92C465.59 1160.68 467.71 1156.79 469.83 1152.20C471.95 1147.61 474.07 1142.49 476.19 1137.37C478.31 1132.25 480.42 1127.31 482.54 1121.48C484.66 1115.66 486.78 1108.95 488.90 1102.42C491.02 1095.88 493.14 1089.17 495.25 1082.29C497.37 1075.40 499.67 1067.46 501.61 1061.10C503.55 1054.75 505.49 1049.10 506.91 1044.15C508.32 1039.21 509.56 1033.56 510.08 1031.44" fill="none" stroke="#3953a4" stroke-width="2.35" stroke-linejoin="round" stroke-linecap="round"/><path d="M165.89 1084.41C166.24 1085.47 166.95 1089.63 168.01 1090.76C169.07 1091.89 170.83 1090.48 172.25 1091.19C173.66 1091.89 174.89 1093.23 176.48 1095.00C178.07 1096.77 180.37 1101.43 181.78 1101.78C183.19 1102.13 183.90 1098.25 184.96 1097.12C186.02 1095.99 187.08 1093.94 188.14 1095.00C189.19 1096.06 190.25 1100.30 191.31 1103.47C192.37 1106.65 193.43 1112.83 194.49 1114.07C195.55 1115.30 196.61 1111.95 197.67 1110.89C198.73 1109.83 199.79 1107.71 200.85 1107.71C201.91 1107.71 202.97 1108.95 204.03 1110.89C205.08 1112.83 205.97 1116.89 207.20 1119.36C208.44 1121.84 210.03 1124.91 211.44 1125.72C212.85 1126.53 214.44 1123.88 215.68 1124.24C216.91 1124.59 217.62 1125.30 218.86 1127.84C220.09 1130.38 221.86 1135.08 223.09 1139.49C224.33 1143.91 225.04 1149.03 226.27 1154.32C227.51 1159.62 229.10 1165.62 230.51 1171.27C231.92 1176.92 233.33 1183.28 234.75 1188.22C236.16 1193.16 237.57 1196.69 238.98 1200.93C240.40 1205.17 241.81 1209.41 243.22 1213.64C244.63 1217.88 246.05 1223.35 247.46 1226.36C248.87 1229.36 250.28 1230.42 251.69 1231.65C253.11 1232.89 254.52 1232.18 255.93 1233.77C257.34 1235.36 258.58 1238.54 260.17 1241.19C261.76 1243.83 264.05 1246.48 265.47 1249.66C266.88 1252.84 267.41 1256.72 268.64 1260.25C269.88 1263.79 271.47 1267.49 272.88 1270.85C274.29 1274.20 275.53 1277.20 277.12 1280.38C278.71 1283.56 280.65 1287.80 282.42 1289.92C284.18 1292.03 286.12 1292.67 287.71 1293.09C289.30 1293.52 290.18 1291.57 291.95 1292.46C293.71 1293.34 296.19 1296.27 298.31 1298.39C300.42 1300.51 303.07 1304.29 304.66 1305.17C306.25 1306.05 306.78 1304.82 307.84 1303.69C308.90 1302.56 310.13 1298.57 311.02 1298.39C311.90 1298.21 312.43 1300.16 313.14 1302.63C313.84 1305.10 314.19 1309.87 315.25 1313.22C316.31 1316.57 318.08 1320.28 319.49 1322.75C320.90 1325.23 322.14 1325.40 323.73 1328.05C325.32 1330.70 327.98 1336.70 329.03 1338.64C330.07 1340.59 328.95 1338.64 330.00 1339.70C331.05 1340.76 333.71 1345.53 335.30 1345.00C336.89 1344.47 338.12 1339.70 339.53 1336.53C340.95 1333.35 342.54 1328.23 343.77 1325.93C345.01 1323.64 345.36 1323.28 346.95 1322.75C348.54 1322.22 351.19 1322.58 353.31 1322.75C355.42 1322.93 357.90 1322.93 359.66 1323.81C361.43 1324.70 362.49 1326.57 363.90 1328.05C365.31 1329.53 366.37 1332.36 368.14 1332.71C369.90 1333.06 372.73 1330.77 374.49 1330.17C376.26 1329.57 377.32 1330.52 378.73 1329.11C380.14 1327.70 381.55 1323.99 382.97 1321.69C384.38 1319.40 385.97 1316.47 387.20 1315.34C388.44 1314.21 389.32 1314.21 390.38 1314.92C391.44 1315.62 392.68 1318.45 393.56 1319.58C394.44 1320.71 394.80 1322.75 395.68 1321.69C396.56 1320.64 397.80 1315.16 398.86 1313.22C399.92 1311.28 400.97 1310.22 402.03 1310.04C403.09 1309.87 404.15 1311.70 405.21 1312.16C406.27 1312.62 407.33 1314.39 408.39 1312.80C409.45 1311.21 410.51 1306.79 411.57 1302.63C412.63 1298.46 413.69 1291.68 414.75 1287.80C415.81 1283.91 416.69 1282.15 417.92 1279.32C419.16 1276.50 420.75 1275.08 422.16 1270.85C423.57 1266.61 425.16 1258.49 426.40 1253.90C427.63 1249.31 428.52 1245.95 429.58 1243.31C430.64 1240.66 431.69 1239.14 432.75 1238.01C433.81 1236.88 434.87 1237.76 435.93 1236.53C436.99 1235.29 438.05 1233.35 439.11 1230.59C440.17 1227.84 441.23 1224.59 442.29 1220.00C443.35 1215.41 444.41 1208.35 445.47 1203.05C446.53 1197.75 447.58 1192.28 448.64 1188.22C449.70 1184.16 450.41 1181.86 451.82 1178.69C453.23 1175.51 455.53 1173.57 457.12 1169.15C458.71 1164.74 459.94 1158.91 461.36 1152.20C462.77 1145.49 464.18 1136.67 465.59 1128.90C467.01 1121.13 468.42 1112.30 469.83 1105.59C471.24 1098.88 472.66 1095.35 474.07 1088.64C475.48 1081.94 476.89 1074.52 478.31 1065.34C479.72 1056.16 481.31 1043.45 482.54 1033.56C483.78 1023.67 484.84 1013.96 485.72 1006.02C486.60 998.07 487.49 989.24 487.84 985.89" fill="none" stroke="#ed1c24" stroke-width="2.35" stroke-linejoin="round" stroke-linecap="round"/></g><rect x="166.00" y="985.20" width="344.30" height="360.30" fill="none" stroke="#000" stroke-width="2.4"/><line x1="303.60" y1="1345.50" x2="303.60" y2="1341.50" stroke="#000" stroke-width="1.8"/><line x1="303.60" y1="985.20" x2="303.60" y2="989.20" stroke="#000" stroke-width="1.8"/><line x1="441.20" y1="1345.50" x2="441.20" y2="1341.50" stroke="#000" stroke-width="1.8"/><line x1="441.20" y1="985.20" x2="441.20" y2="989.20" stroke="#000" stroke-width="1.8"/><line x1="166.00" y1="1105.30" x2="171.00" y2="1105.30" stroke="#000" stroke-width="1.8"/><line x1="510.30" y1="1105.30" x2="505.30" y2="1105.30" stroke="#000" stroke-width="1.8"/><line x1="166.00" y1="1225.40" x2="171.00" y2="1225.40" stroke="#000" stroke-width="1.8"/><line x1="510.30" y1="1225.40" x2="505.30" y2="1225.40" stroke="#000" stroke-width="1.8"/><line x1="731.50" y1="1202.20" x2="678.09" y2="1229.62" stroke="#000" stroke-width="1.15"/><polygon points="664.30,1236.70 688.87,1234.20 678.09,1229.62 680.65,1218.19" fill="#000"/><line x1="726.50" y1="1390.90" x2="652.87" y2="1434.15" stroke="#000" stroke-width="1.15"/><polygon points="639.50,1442.00 663.89,1438.11 652.87,1434.15 654.77,1422.59" fill="#000"/><line x1="739.00" y1="1554.50" x2="652.34" y2="1605.71" stroke="#000" stroke-width="1.15"/><polygon points="639.00,1613.60 663.38,1609.65 652.34,1605.71 654.22,1594.15" fill="#000"/><line x1="469.20" y1="1501.80" x2="563.77" y2="1652.86" stroke="#000" stroke-width="1.15"/><polygon points="572.00,1666.00 567.42,1641.73 563.77,1652.86 552.17,1651.28" fill="#000"/><line x1="374.90" y1="1039.90" x2="364.13" y2="1065.88" stroke="#000" stroke-width="1.15"/><polygon points="358.20,1080.20 375.32,1062.40 364.13,1065.88 358.69,1055.51" fill="#000"/><line x1="368.60" y1="1174.40" x2="372.24" y2="1158.99" stroke="#000" stroke-width="1.15"/><polygon points="375.80,1143.90 361.76,1164.22 372.24,1158.99 379.27,1168.35" fill="#000"/><line x1="357.30" y1="1268.10" x2="359.77" y2="1250.35" stroke="#000" stroke-width="1.15"/><polygon points="361.90,1235.00 349.82,1256.54 359.77,1250.35 367.65,1259.02" fill="#000"/><line x1="244.90" y1="1302.50" x2="252.76" y2="1281.05" stroke="#000" stroke-width="1.15"/><polygon points="258.10,1266.50 241.73,1285.00 252.76,1281.05 258.63,1291.19" fill="#000"/>
<text x="106.90" y="801.00" font-size="24.00" text-anchor="middle" font-family="'Liberation Sans', sans-serif" >3.522</text><text x="236.35" y="801.00" font-size="24.00" text-anchor="middle" font-family="'Liberation Sans', sans-serif" >3.572</text><text x="365.80" y="801.00" font-size="24.00" text-anchor="middle" font-family="'Liberation Sans', sans-serif" >3.622</text><text x="495.25" y="801.00" font-size="24.00" text-anchor="middle" font-family="'Liberation Sans', sans-serif" >3.672</text><text x="624.70" y="801.00" font-size="24.00" text-anchor="middle" font-family="'Liberation Sans', sans-serif" >3.722</text><text x="754.15" y="801.00" font-size="24.00" text-anchor="middle" font-family="'Liberation Sans', sans-serif" >3.772</text><text x="883.60" y="801.00" font-size="24.00" text-anchor="middle" font-family="'Liberation Sans', sans-serif" >3.822</text><text x="100.60" y="782.80" font-size="24.00" text-anchor="end" font-family="'Liberation Sans', sans-serif" >0</text><text x="100.60" y="711.45" font-size="24.00" text-anchor="end" font-family="'Liberation Sans', sans-serif" >0.1</text><text x="100.60" y="640.10" font-size="24.00" text-anchor="end" font-family="'Liberation Sans', sans-serif" >0.2</text><text x="100.60" y="568.75" font-size="24.00" text-anchor="end" font-family="'Liberation Sans', sans-serif" >0.3</text><text x="100.60" y="497.40" font-size="24.00" text-anchor="end" font-family="'Liberation Sans', sans-serif" >0.4</text><text x="100.60" y="426.05" font-size="24.00" text-anchor="end" font-family="'Liberation Sans', sans-serif" >0.5</text><text x="100.60" y="354.70" font-size="24.00" text-anchor="end" font-family="'Liberation Sans', sans-serif" >0.6</text><text x="100.60" y="283.35" font-size="24.00" text-anchor="end" font-family="'Liberation Sans', sans-serif" >0.7</text><text x="100.60" y="212.00" font-size="24.00" text-anchor="end" font-family="'Liberation Sans', sans-serif" >0.8</text><text x="100.60" y="140.65" font-size="24.00" text-anchor="end" font-family="'Liberation Sans', sans-serif" >0.9</text><text x="100.60" y="69.30" font-size="24.00" text-anchor="end" font-family="'Liberation Sans', sans-serif" >1</text><text x="494.50" y="829.00" font-size="24.00" text-anchor="middle" font-family="'Liberation Sans', sans-serif" >Time (s)</text><text transform="translate(55.4,418.7) rotate(-90)" font-size="24" text-anchor="middle" font-family="'Liberation Sans', sans-serif">r/a</text><text x="929.50" y="34.90" font-size="24.00" text-anchor="middle" font-family="'Liberation Sans', sans-serif" >E (V/m)</text><text x="507.50" y="901.00" font-size="43.00" text-anchor="middle" font-family="'Liberation Serif', serif" >(a)</text><text x="960.00" y="676.82" font-size="24.00" text-anchor="start" font-family="'Liberation Sans', sans-serif" >2</text><text x="960.00" y="568.46" font-size="24.00" text-anchor="start" font-family="'Liberation Sans', sans-serif" >4</text><text x="960.00" y="460.10" font-size="24.00" text-anchor="start" font-family="'Liberation Sans', sans-serif" >6</text><text x="960.00" y="351.74" font-size="24.00" text-anchor="start" font-family="'Liberation Sans', sans-serif" >8</text><text x="960.00" y="243.38" font-size="24.00" text-anchor="start" font-family="'Liberation Sans', sans-serif" >10</text><text x="960.00" y="135.02" font-size="24.00" text-anchor="start" font-family="'Liberation Sans', sans-serif" >12</text><text x="84.70" y="1782.50" font-size="26.50" text-anchor="middle" font-family="'Liberation Sans', sans-serif" >3.522</text><text x="228.27" y="1782.50" font-size="26.50" text-anchor="middle" font-family="'Liberation Sans', sans-serif" >3.572</text><text x="371.84" y="1782.50" font-size="26.50" text-anchor="middle" font-family="'Liberation Sans', sans-serif" >3.622</text><text x="515.41" y="1782.50" font-size="26.50" text-anchor="middle" font-family="'Liberation Sans', sans-serif" >3.672</text><text x="658.98" y="1782.50" font-size="26.50" text-anchor="middle" font-family="'Liberation Sans', sans-serif" >3.722</text><text x="802.55" y="1782.50" font-size="26.50" text-anchor="middle" font-family="'Liberation Sans', sans-serif" >3.772</text><text x="946.12" y="1782.50" font-size="26.50" text-anchor="middle" font-family="'Liberation Sans', sans-serif" >3.822</text><text x="78.20" y="1760.80" font-size="26.50" text-anchor="end" font-family="'Liberation Sans', sans-serif" >0</text><text x="78.20" y="1606.92" font-size="26.50" text-anchor="end" font-family="'Liberation Sans', sans-serif" >0.5</text><text x="78.20" y="1453.05" font-size="26.50" text-anchor="end" font-family="'Liberation Sans', sans-serif" >1</text><text x="78.20" y="1299.17" font-size="26.50" text-anchor="end" font-family="'Liberation Sans', sans-serif" >1.5</text><text x="78.20" y="1145.30" font-size="26.50" text-anchor="end" font-family="'Liberation Sans', sans-serif" >2</text><text x="78.20" y="991.42" font-size="26.50" text-anchor="end" font-family="'Liberation Sans', sans-serif" >2.5</text><text x="515.20" y="1815.50" font-size="31.00" text-anchor="middle" font-family="'Liberation Sans', sans-serif" >Time (s)</text><text transform="translate(25,1351) rotate(-90)" font-size="31.5" text-anchor="middle" font-family="'Liberation Sans', sans-serif">E (V/m)</text><text x="488.00" y="1875.00" font-size="43.00" text-anchor="middle" font-family="'Liberation Serif', serif" >(b)</text><text x="159.20" y="994.20" font-size="24.00" text-anchor="end" font-family="'Liberation Sans', sans-serif" >0.2</text><text x="159.20" y="1114.30" font-size="24.00" text-anchor="end" font-family="'Liberation Sans', sans-serif" >0.15</text><text x="159.20" y="1234.40" font-size="24.00" text-anchor="end" font-family="'Liberation Sans', sans-serif" >0.1</text><text x="159.20" y="1354.50" font-size="24.00" text-anchor="end" font-family="'Liberation Sans', sans-serif" >0.05</text><text x="166.00" y="1375.00" font-size="24.00" text-anchor="middle" font-family="'Liberation Sans', sans-serif" >3.602</text><text x="303.60" y="1375.00" font-size="24.00" text-anchor="middle" font-family="'Liberation Sans', sans-serif" >3.622</text><text x="441.70" y="1375.00" font-size="24.00" text-anchor="middle" font-family="'Liberation Sans', sans-serif" >3.642</text><text x="510.30" y="1375.00" font-size="24.00" text-anchor="middle" font-family="'Liberation Sans', sans-serif" >3.652</text><text x="733.60" y="1212.00" font-size="30.20" text-anchor="start" font-family="'Liberation Sans', sans-serif" >r/a=0.1</text><text x="728.00" y="1383.00" font-size="30.30" text-anchor="start" font-family="'Liberation Sans', sans-serif" >r/a=0.5</text><text x="740.60" y="1548.00" font-size="30.50" text-anchor="start" font-family="'Liberation Sans', sans-serif" >r/a=0.9</text><text x="301.20" y="1460.00" font-size="31.00" text-anchor="middle" font-family="'Liberation Sans', sans-serif" >r/a=1 (experiment</text><text x="305.00" y="1495.30" font-size="31.00" text-anchor="middle" font-family="'Liberation Sans', sans-serif" >value from loop voltage)</text><text x="344.70" y="1033.50" font-size="26.00" text-anchor="start" font-family="'Liberation Sans', sans-serif" >r/a=1</text><text x="322.30" y="1199.20" font-size="26.50" text-anchor="start" font-family="'Liberation Sans', sans-serif" >r/a=0.9</text><text x="315.00" y="1290.50" font-size="24.50" text-anchor="start" font-family="'Liberation Sans', sans-serif" >r/a=0.5</text><text x="199.30" y="1327.50" font-size="26.00" text-anchor="start" font-family="'Liberation Sans', sans-serif" >r/a=0.1</text>
</svg></body></html>
